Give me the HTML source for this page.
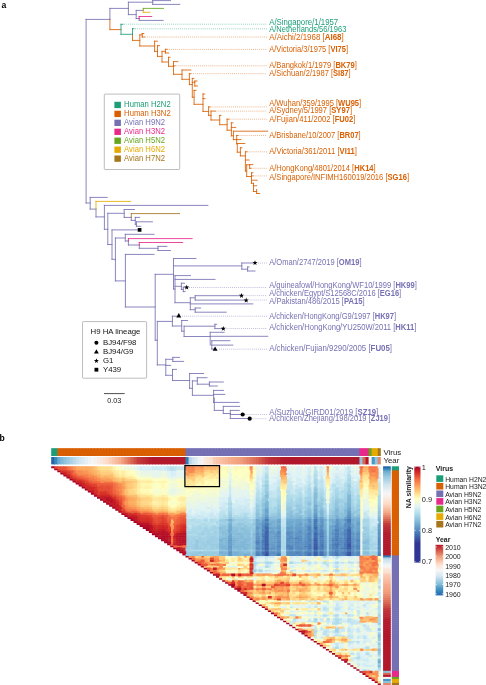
<!DOCTYPE html><html><head><meta charset="utf-8"><title>Figure</title><style>
html,body{margin:0;padding:0;background:#fff;width:486px;height:685px;overflow:hidden}
svg{display:block}
text{font-family:'Liberation Sans', Arial, Helvetica, sans-serif}
</style></head><body>
<svg width="486" height="685" viewBox="0 0 486 685">
<rect width="486" height="685" fill="#fff"/>
<text x="1.6" y="8.4" font-size="8.6" font-weight="bold" fill="#000">a</text>
<text x="-0.6" y="440.5" font-size="8.6" font-weight="bold" fill="#000">b</text>
<path d="M86.10 19.4V203.0M86.1 19.40H109.9M109.90 8.4V19.4M109.9 8.40H128.4M128.40 2.2V14.6M128.4 2.20H152.7M152.70 0.4V4.4M152.7 0.60H170.5M152.7 4.40H179.8M128.4 14.60H136.2M136.20 10.4V18.5M136.2 10.40H143.3M136.2 18.50H139.2M139.20 18.5V20.4M139.2 20.40H163.1M86.1 203.00H90.2M90.20 197.4V209.1M90.2 197.40H107.2M90.2 209.10H96.0M96.00 209.1V216.9M96.0 216.90H104.4M104.40 205.4V229.3M104.4 205.40H207.9M104.4 229.30H107.8M107.80 213.3V244.5M107.8 213.30H124.2M124.20 209.5V217.4M124.2 209.50H134.4M124.2 217.40H131.3M131.30 217.4V220.4M131.3 220.40H135.3M135.30 217.4V224.3M135.3 217.40H139.6M135.3 224.30H136.4M136.40 221.8V226.3M136.4 221.80H152.4M136.4 226.30H140.8M107.8 244.50H112.0M112.00 229.9V259.3M112.0 229.90H138.0M112.0 259.30H115.4M115.40 238.0V280.9M115.4 238.00H125.3M125.30 234.3V241.0M125.3 234.30H154.0M125.3 241.00H128.4M128.40 241.0V245.0M128.4 245.00H139.3M139.30 245.0V248.3M139.3 248.30H158.0M158.00 246.4V250.5M158.0 246.40H166.9M158.0 250.50H170.4M115.4 280.90H125.4M125.40 254.4V307.0M125.4 254.40H154.0M125.4 307.00H155.2M155.20 274.3V340.2M155.2 274.30H173.5M173.50 258.5V289.0M173.5 258.50H195.9M173.5 265.90H241.8M241.80 263.0V269.2M241.8 263.00H253.1M241.8 269.20H247.6M247.60 267.0V271.0M247.6 267.00H249.0M247.6 271.00H255.0M173.5 289.00H175.0M175.00 275.6V302.7M175.0 275.60H190.5M175.0 279.40H215.0M175.0 286.30H181.4M181.40 283.2V289.4M181.4 283.20H184.5M181.4 289.40H183.3M183.30 287.2V291.6M183.3 287.20H185.0M183.3 291.60H185.1M175.0 302.70H190.3M190.30 297.8V309.7M190.3 297.80H195.2M195.20 295.7V300.1M195.2 295.70H240.0M195.2 300.10H244.5M190.3 303.90H252.8M190.3 309.70H195.2M195.20 308.0V312.2M195.2 308.00H200.6M195.2 312.20H226.2M155.2 340.20H157.3M157.30 321.4V364.9M157.3 321.40H172.4M172.40 316.2V326.0M172.4 316.20H177.0M172.4 326.00H181.7M181.70 320.5V331.2M181.7 320.50H187.5M181.7 331.20H184.1M184.10 326.2V336.5M184.1 326.20H214.9M214.90 324.3V328.6M214.9 324.30H216.7M214.9 328.60H221.5M184.1 336.50H210.2M210.20 332.3V345.1M210.2 332.30H224.1M210.2 336.30H267.8M211.80 340.7V349.0M211.8 340.70H229.9M211.8 345.10H232.8M211.8 349.00H214.0M157.3 364.90H165.8M165.80 359.3V375.3M165.8 359.30H172.8M172.80 357.4V361.4M172.8 357.40H179.6M172.8 361.40H183.6M165.8 365.40H170.7M165.8 375.30H172.5M172.50 369.4V380.5M172.5 369.40H176.5M172.5 380.50H189.6M189.60 373.5V388.3M189.6 373.50H203.5M189.6 388.30H192.4M192.40 380.9V395.3M192.4 380.90H197.3M197.30 377.7V384.2M197.3 377.70H207.0M197.3 384.20H209.4M209.40 382.0V386.0M209.4 382.00H223.3M209.4 386.00H217.3M192.4 395.30H213.6M213.60 390.4V402.4M213.6 390.40H223.5M213.6 394.40H224.8M213.6 402.40H239.0M214.30 398.0V410.4M214.3 410.40H223.3M223.30 406.4V413.5M223.3 406.40H239.6M223.3 413.50H230.3M230.30 410.4V418.5M230.3 410.40H239.3M230.3 414.50H241.0M230.3 418.50H248.0" stroke="#7570b3" stroke-width="0.85" fill="none" stroke-linecap="square"/>
<path d="M109.90 19.4V29.6M109.9 29.60H121.0M132.50 34.3V40.4M132.5 40.40H139.8M139.80 34.9V46.0M139.8 34.90H142.2M142.20 33.5V37.0M142.2 33.50H143.8M142.2 37.00H144.5M139.8 46.00H154.6M154.60 41.2V51.4M154.6 41.20H157.4M154.6 51.40H157.5M157.50 45.6V56.4M157.5 45.60H159.6M157.5 56.40H162.0M162.00 51.4V62.0M162.0 51.40H165.4M165.40 49.3V53.0M165.4 49.30H167.0M165.4 53.00H168.8M162.0 62.00H168.5M168.50 57.3V66.3M168.5 57.30H170.0M168.5 66.30H173.5M173.50 61.6V74.3M173.5 61.60H177.8M173.5 65.80H175.0M173.5 74.30H182.0M182.00 70.0V79.3M182.0 70.00H190.8M182.0 79.30H189.4M189.40 73.7V84.6M189.4 73.70H190.5M189.4 84.60H192.3M192.30 78.4V97.2M192.3 78.40H193.8M192.3 82.30H194.8M194.80 81.0V86.0M194.8 81.00H197.0M194.8 86.00H197.5M192.3 97.20H194.1M194.10 90.4V104.3M194.1 90.40H196.0M194.1 104.30H203.0M203.00 94.0V111.4M203.0 94.00H204.7M203.0 98.60H205.0M203.0 111.40H208.6M208.60 106.9V115.4M208.6 106.90H210.0M208.6 115.40H211.0M211.00 111.1V120.0M211.0 111.10H215.4M211.0 120.00H219.7M219.70 115.4V124.7M219.7 115.40H221.0M219.7 124.70H227.1M227.10 119.2V130.2M227.1 119.20H229.0M227.1 130.20H231.4M231.40 122.8V135.8M231.4 122.80H233.0M231.4 127.40H235.7M231.4 135.80H233.4M233.40 131.2V139.6M233.4 131.20H267.6M233.4 139.60H236.7M236.70 135.5V144.1M236.7 135.50H238.0M236.7 139.60H241.0M236.7 143.50H244.8M237.30 144.1V152.2M237.3 152.20H240.4M240.40 147.8V155.9M240.4 147.80H242.0M240.4 155.90H245.4M245.40 151.8V171.0M245.4 151.80H247.0M245.4 160.00H249.2M245.4 171.00H246.7M246.70 164.8V176.5M246.7 164.80H249.6M249.60 164.6V168.3M249.6 164.60H252.9M249.6 168.30H251.0M246.7 176.50H251.5M251.50 172.8V183.3M251.5 172.80H253.0M251.5 175.90H253.0M251.5 180.20H257.2M251.5 183.30H253.5M253.50 183.3V191.5M253.5 185.80H256.6M253.5 191.50H256.6M256.60 189.5V193.5M256.6 193.50H259.6" stroke="#d95f02" stroke-width="0.85" fill="none" stroke-linecap="square"/>
<path d="M143.30 8.4V10.4M143.3 8.40H163.5" stroke="#66a61e" stroke-width="0.85" fill="none" stroke-linecap="square"/>
<path d="M143.30 10.4V12.3M143.3 12.30H149.9M96.00 201.4V209.1M96.0 201.40H130.6" stroke="#e6ab02" stroke-width="0.85" fill="none" stroke-linecap="square"/>
<path d="M139.20 16.5V18.5M139.2 16.50H151.7M128.40 238.6V241.0M128.4 238.60H192.1M139.30 242.5V245.0M139.3 242.50H182.7" stroke="#e7298a" stroke-width="0.85" fill="none" stroke-linecap="square"/>
<path d="M121.00 24.3V34.3M121.0 24.30H123.0M121.0 34.30H132.5M132.50 28.7V34.3M132.5 28.70H134.0" stroke="#1b9e77" stroke-width="0.85" fill="none" stroke-linecap="square"/>
<path d="M131.30 213.6V217.4M131.3 213.60H179.5" stroke="#a6761d" stroke-width="0.85" fill="none" stroke-linecap="square"/>
<line x1="124.0" y1="24.2" x2="267.0" y2="24.2" stroke="#1b9e77" stroke-width="0.9" stroke-dasharray="0.9 1.15" opacity="0.55"/>
<line x1="135.0" y1="28.8" x2="267.0" y2="28.8" stroke="#1b9e77" stroke-width="0.9" stroke-dasharray="0.9 1.15" opacity="0.55"/>
<line x1="145.0" y1="37.0" x2="267.0" y2="37.0" stroke="#d95f02" stroke-width="0.9" stroke-dasharray="0.9 1.15" opacity="0.55"/>
<line x1="167.0" y1="49.4" x2="267.0" y2="49.4" stroke="#d95f02" stroke-width="0.9" stroke-dasharray="0.9 1.15" opacity="0.55"/>
<line x1="175.5" y1="65.8" x2="267.0" y2="65.8" stroke="#d95f02" stroke-width="0.9" stroke-dasharray="0.9 1.15" opacity="0.55"/>
<line x1="191.0" y1="73.7" x2="267.0" y2="73.7" stroke="#d95f02" stroke-width="0.9" stroke-dasharray="0.9 1.15" opacity="0.55"/>
<line x1="210.5" y1="106.9" x2="267.0" y2="106.9" stroke="#d95f02" stroke-width="0.9" stroke-dasharray="0.9 1.15" opacity="0.55"/>
<line x1="215.5" y1="111.1" x2="267.0" y2="111.1" stroke="#d95f02" stroke-width="0.9" stroke-dasharray="0.9 1.15" opacity="0.55"/>
<line x1="229.5" y1="119.2" x2="267.0" y2="119.2" stroke="#d95f02" stroke-width="0.9" stroke-dasharray="0.9 1.15" opacity="0.55"/>
<line x1="238.5" y1="135.5" x2="267.0" y2="135.5" stroke="#d95f02" stroke-width="0.9" stroke-dasharray="0.9 1.15" opacity="0.55"/>
<line x1="247.5" y1="151.8" x2="267.0" y2="151.8" stroke="#d95f02" stroke-width="0.9" stroke-dasharray="0.9 1.15" opacity="0.55"/>
<line x1="251.5" y1="168.3" x2="267.0" y2="168.3" stroke="#d95f02" stroke-width="0.9" stroke-dasharray="0.9 1.15" opacity="0.55"/>
<line x1="253.5" y1="175.9" x2="267.0" y2="175.9" stroke="#d95f02" stroke-width="0.9" stroke-dasharray="0.9 1.15" opacity="0.55"/>
<line x1="258.0" y1="263.0" x2="267.0" y2="263.0" stroke="#7570b3" stroke-width="0.9" stroke-dasharray="0.9 1.15" opacity="0.55"/>
<line x1="189.0" y1="287.5" x2="267.0" y2="287.5" stroke="#7570b3" stroke-width="0.9" stroke-dasharray="0.9 1.15" opacity="0.55"/>
<line x1="244.5" y1="295.6" x2="267.0" y2="295.6" stroke="#7570b3" stroke-width="0.9" stroke-dasharray="0.9 1.15" opacity="0.55"/>
<line x1="249.5" y1="300.0" x2="267.0" y2="300.0" stroke="#7570b3" stroke-width="0.9" stroke-dasharray="0.9 1.15" opacity="0.55"/>
<line x1="182.0" y1="316.2" x2="267.0" y2="316.2" stroke="#7570b3" stroke-width="0.9" stroke-dasharray="0.9 1.15" opacity="0.55"/>
<line x1="226.5" y1="328.5" x2="267.0" y2="328.5" stroke="#7570b3" stroke-width="0.9" stroke-dasharray="0.9 1.15" opacity="0.55"/>
<line x1="219.0" y1="349.2" x2="267.0" y2="349.2" stroke="#7570b3" stroke-width="0.9" stroke-dasharray="0.9 1.15" opacity="0.55"/>
<line x1="245.5" y1="414.5" x2="267.0" y2="414.5" stroke="#7570b3" stroke-width="0.9" stroke-dasharray="0.9 1.15" opacity="0.55"/>
<line x1="252.5" y1="418.7" x2="267.0" y2="418.7" stroke="#7570b3" stroke-width="0.9" stroke-dasharray="0.9 1.15" opacity="0.55"/>
<rect x="137.75" y="228.05" width="3.7" height="3.7" fill="#000"/>
<polygon points="255.00,260.20 255.65,262.01 257.57,262.07 256.05,263.24 256.59,265.08 255.00,264.00 253.41,265.08 253.95,263.24 252.43,262.07 254.35,262.01" fill="#000"/>
<polygon points="186.70,284.70 187.35,286.51 189.27,286.57 187.75,287.74 188.29,289.58 186.70,288.50 185.11,289.58 185.65,287.74 184.13,286.57 186.05,286.51" fill="#000"/>
<polygon points="241.50,293.00 242.15,294.81 244.07,294.87 242.55,296.04 243.09,297.88 241.50,296.80 239.91,297.88 240.45,296.04 238.93,294.87 240.85,294.81" fill="#000"/>
<polygon points="246.20,297.60 246.85,299.41 248.77,299.47 247.25,300.64 247.79,302.48 246.20,301.40 244.61,302.48 245.15,300.64 243.63,299.47 245.55,299.41" fill="#000"/>
<polygon points="223.30,325.90 223.95,327.71 225.87,327.77 224.35,328.94 224.89,330.78 223.30,329.70 221.71,330.78 222.25,328.94 220.73,327.77 222.65,327.71" fill="#000"/>
<path d="M178.80 313.10l2.5 4.3h-5z" fill="#000"/>
<path d="M215.10 346.40l2.5 4.3h-5z" fill="#000"/>
<circle cx="242.70" cy="414.50" r="2.1" fill="#000"/>
<circle cx="249.70" cy="418.70" r="2.1" fill="#000"/>
<text x="269.2" y="24.9" font-size="8.3" fill="#1b9e77" textLength="69.0" lengthAdjust="spacingAndGlyphs">A/Singapore/1/1957</text>
<text x="269.2" y="31.5" font-size="8.3" fill="#1b9e77" textLength="77.2" lengthAdjust="spacingAndGlyphs">A/Netherlands/56/1963</text>
<text x="269.2" y="39.6" font-size="8.3" fill="#d95f02" textLength="74.5" lengthAdjust="spacingAndGlyphs">A/Aichi/2/1968 [<tspan font-weight="bold">AI68</tspan>]</text>
<text x="269.2" y="51.8" font-size="8.3" fill="#d95f02" textLength="78.8" lengthAdjust="spacingAndGlyphs">A/Victoria/3/1975 [<tspan font-weight="bold">VI75</tspan>]</text>
<text x="269.2" y="68.0" font-size="8.3" fill="#d95f02" textLength="87.7" lengthAdjust="spacingAndGlyphs">A/Bangkok/1/1979 [<tspan font-weight="bold">BK79</tspan>]</text>
<text x="269.2" y="76.1" font-size="8.3" fill="#d95f02" textLength="81.5" lengthAdjust="spacingAndGlyphs">A/Sichuan/2/1987 [<tspan font-weight="bold">SI87</tspan>]</text>
<text x="269.2" y="106.1" font-size="8.3" fill="#d95f02" textLength="92.0" lengthAdjust="spacingAndGlyphs">A/Wuhan/359/1995 [<tspan font-weight="bold">WU95</tspan>]</text>
<text x="269.2" y="113.3" font-size="8.3" fill="#d95f02" textLength="82.8" lengthAdjust="spacingAndGlyphs">A/Sydney/5/1997 [<tspan font-weight="bold">SY97</tspan>]</text>
<text x="269.2" y="121.5" font-size="8.3" fill="#d95f02" textLength="86.2" lengthAdjust="spacingAndGlyphs">A/Fujian/411/2002 [<tspan font-weight="bold">FU02</tspan>]</text>
<text x="269.2" y="137.7" font-size="8.3" fill="#d95f02" textLength="91.5" lengthAdjust="spacingAndGlyphs">A/Brisbane/10/2007 [<tspan font-weight="bold">BR07</tspan>]</text>
<text x="269.2" y="154.1" font-size="8.3" fill="#d95f02" textLength="87.8" lengthAdjust="spacingAndGlyphs">A/Victoria/361/2011 [<tspan font-weight="bold">VI11</tspan>]</text>
<text x="269.2" y="170.7" font-size="8.3" fill="#d95f02" textLength="106.5" lengthAdjust="spacingAndGlyphs">A/HongKong/4801/2014 [<tspan font-weight="bold">HK14</tspan>]</text>
<text x="269.2" y="179.7" font-size="8.3" fill="#d95f02" textLength="139.8" lengthAdjust="spacingAndGlyphs">A/Singapore/INFIMH160019/2016 [<tspan font-weight="bold">SG16</tspan>]</text>
<text x="269.2" y="264.9" font-size="8.3" fill="#7570b3" textLength="92.3" lengthAdjust="spacingAndGlyphs">A/Oman/2747/2019 [<tspan font-weight="bold">OM19</tspan>]</text>
<text x="269.2" y="287.9" font-size="8.3" fill="#7570b3" textLength="147.6" lengthAdjust="spacingAndGlyphs">A/guineafowl/HongKong/WF10/1999 [<tspan font-weight="bold">HK99</tspan>]</text>
<text x="269.2" y="296.2" font-size="8.3" fill="#7570b3" textLength="132.0" lengthAdjust="spacingAndGlyphs">A/chicken/Egypt/S12568C/2016 [<tspan font-weight="bold">EG16</tspan>]</text>
<text x="269.2" y="304.4" font-size="8.3" fill="#7570b3" textLength="95.4" lengthAdjust="spacingAndGlyphs">A/Pakistan/486/2015 [<tspan font-weight="bold">PA15</tspan>]</text>
<text x="269.2" y="318.5" font-size="8.3" fill="#7570b3" textLength="126.9" lengthAdjust="spacingAndGlyphs">A/chicken/HongKong/G9/1997 [<tspan font-weight="bold">HK97</tspan>]</text>
<text x="269.2" y="330.4" font-size="8.3" fill="#7570b3" textLength="147.2" lengthAdjust="spacingAndGlyphs">A/chicken/HongKong/YU250W/2011 [<tspan font-weight="bold">HK11</tspan>]</text>
<text x="269.2" y="351.2" font-size="8.3" fill="#7570b3" textLength="122.8" lengthAdjust="spacingAndGlyphs">A/chicken/Fujian/9290/2005 [<tspan font-weight="bold">FU05</tspan>]</text>
<text x="269.2" y="414.7" font-size="8.3" fill="#7570b3" textLength="109.1" lengthAdjust="spacingAndGlyphs">A/Suzhou/GIRD01/2019 [<tspan font-weight="bold">SZ19</tspan>]</text>
<text x="269.2" y="421.3" font-size="8.3" fill="#7570b3" textLength="120.9" lengthAdjust="spacingAndGlyphs">A/chicken/Zhejiang/198/2019 [<tspan font-weight="bold">ZJ19</tspan>]</text>
<rect x="104.3" y="94.1" width="75.4" height="75.4" rx="0.8" fill="none" stroke="#a0a0a0" stroke-width="0.7"/>
<rect x="114.4" y="101.80" width="6.5" height="6.3" fill="#1b9e77"/>
<text x="124.1" y="107.40" font-size="8.2" fill="#1b9e77" textLength="46.6" lengthAdjust="spacingAndGlyphs">Human H2N2</text>
<rect x="114.4" y="110.75" width="6.5" height="6.3" fill="#d95f02"/>
<text x="124.1" y="116.35" font-size="8.2" fill="#d95f02" textLength="46.6" lengthAdjust="spacingAndGlyphs">Human H3N2</text>
<rect x="114.4" y="119.70" width="6.5" height="6.3" fill="#7570b3"/>
<text x="124.1" y="125.30" font-size="8.2" fill="#7570b3" textLength="40.9" lengthAdjust="spacingAndGlyphs">Avian H9N2</text>
<rect x="114.4" y="128.65" width="6.5" height="6.3" fill="#e7298a"/>
<text x="124.1" y="134.25" font-size="8.2" fill="#e7298a" textLength="40.9" lengthAdjust="spacingAndGlyphs">Avian H3N2</text>
<rect x="114.4" y="137.60" width="6.5" height="6.3" fill="#66a61e"/>
<text x="124.1" y="143.20" font-size="8.2" fill="#66a61e" textLength="40.9" lengthAdjust="spacingAndGlyphs">Avian H5N2</text>
<rect x="114.4" y="146.55" width="6.5" height="6.3" fill="#e6ab02"/>
<text x="124.1" y="152.15" font-size="8.2" fill="#e6ab02" textLength="40.9" lengthAdjust="spacingAndGlyphs">Avian H6N2</text>
<rect x="114.4" y="155.50" width="6.5" height="6.3" fill="#a6761d"/>
<text x="124.1" y="161.10" font-size="8.2" fill="#a6761d" textLength="40.9" lengthAdjust="spacingAndGlyphs">Avian H7N2</text>
<rect x="82.5" y="321.6" width="64.1" height="56.6" rx="0.8" fill="none" stroke="#a0a0a0" stroke-width="0.7"/>
<text x="90.6" y="333.5" font-size="7.8" fill="#111">H9 HA lineage</text>
<circle cx="96.40" cy="342.70" r="2.0" fill="#000"/>
<text x="103" y="345.30" font-size="7.8" fill="#111">BJ94/F98</text>
<path d="M96.40 349.30l2.4 4.1h-4.8z" fill="#000"/>
<text x="103" y="354.30" font-size="7.8" fill="#111">BJ94/G9</text>
<polygon points="96.40,358.30 97.02,360.05 98.87,360.10 97.40,361.22 97.93,363.00 96.40,361.95 94.87,363.00 95.40,361.22 93.93,360.10 95.78,360.05" fill="#000"/>
<text x="103" y="363.30" font-size="7.8" fill="#111">G1</text>
<rect x="94.50" y="367.80" width="3.8" height="3.8" fill="#000"/>
<text x="103" y="372.30" font-size="7.8" fill="#111">Y439</text>
<line x1="104" y1="393.6" x2="124.6" y2="393.6" stroke="#222" stroke-width="0.8"/>
<text x="114.3" y="402.6" font-size="7.2" fill="#222" text-anchor="middle">0.03</text>
<g transform="translate(51.200 466.300) scale(3.0520 2.0250)">
<path fill="#a50027" d="M0 0h1.25v1h-1.25zM1 1h1.25v1h-1.25zM2 2h1.25v1h-1.25zM3 3h1.25v1h-1.25zM4 4h1.25v1h-1.25zM5 5h1.25v1h-1.25zM6 6h1.25v1h-1.25zM7 7h1.25v1h-1.25zM8 8h1.25v1h-1.25zM9 9h1.25v1h-1.25zM10 10h1.25v1h-1.25zM11 11h1.25v1h-1.25zM12 12h1.25v1h-1.25zM13 13h1.25v1h-1.25zM14 14h1.25v1h-1.25zM15 15h1.25v1h-1.25zM16 16h1.25v1h-1.25zM17 17h1.25v1h-1.25zM18 18h1.25v1h-1.25zM19 19h1.25v1h-1.25zM20 20h1.25v1h-1.25zM21 21h1.25v1h-1.25zM22 22h1.25v1h-1.25zM23 23h1.25v1h-1.25zM24 24h1.25v1h-1.25zM25 25h1.25v1h-1.25zM26 26h1.25v1h-1.25zM27 27h1.25v1h-1.25zM28 28h1.25v1h-1.25zM29 29h1.25v1h-1.25zM30 30h1.25v1h-1.25zM31 31h1.25v1h-1.25zM32 32h1.25v1h-1.25zM33 33h1.25v1h-1.25zM34 34h1.25v1h-1.25zM35 35h1.25v1h-1.25zM36 36h1.25v1h-1.25zM37 37h1.25v1h-1.25zM38 38h1.25v1h-1.25zM39 39h1.25v1h-1.25zM40 40h1.25v1h-1.25zM41 41h1.25v1h-1.25zM42 42h1.25v1h-1.25zM43 43h1.25v1h-1.25zM44 44h1.25v1h-1.25zM45 45h1.25v1h-1.25zM46 46h1.25v1h-1.25zM47 47h1.25v1h-1.25zM48 48h1.25v1h-1.25zM49 49h1.25v1h-1.25zM50 50h1.25v1h-1.25zM51 51h1.25v1h-1.25zM52 52h1.25v1h-1.25zM53 53h1.25v1h-1.25zM54 54h1.25v1h-1.25zM55 55h1.25v1h-1.25zM56 56h1.25v1h-1.25zM57 57h1.25v1h-1.25zM58 58h1.25v1h-1.25zM59 59h1.25v1h-1.25zM60 60h1.25v1h-1.25zM61 61h1.25v1h-1.25zM62 62h1.25v1h-1.25zM63 63h1.25v1h-1.25zM64 64h1.25v1h-1.25zM65 65h1.25v1h-1.25zM66 66h1.25v1h-1.25zM67 67h1.25v1h-1.25zM68 68h1.25v1h-1.25zM69 69h1.25v1h-1.25zM70 70h1.25v1h-1.25zM71 71h1.25v1h-1.25zM72 72h1.25v1h-1.25zM73 73h1.25v1h-1.25zM74 74h1.25v1h-1.25zM75 75h1.25v1h-1.25zM76 76h1.25v1h-1.25zM77 77h1.25v1h-1.25zM78 78h1.25v1h-1.25zM79 79h1.25v1h-1.25zM80 80h1.25v1h-1.25zM81 81h1.25v1h-1.25zM82 82h1.25v1h-1.25zM83 83h1.25v1h-1.25zM84 84h1.25v1h-1.25zM85 85h1.25v1h-1.25zM86 86h1.25v1h-1.25zM87 87h1.25v1h-1.25zM88 88h1.25v1h-1.25zM89 89h1.25v1h-1.25zM90 90h1.25v1h-1.25zM91 91h1.25v1h-1.25zM92 92h1.25v1h-1.25zM93 93h1.25v1h-1.25zM94 94h1.25v1h-1.25zM95 95h1.25v1h-1.25zM96 96h1.25v1h-1.25zM97 97h1.25v1h-1.25zM98 98h1.25v1h-1.25zM99 99h1.25v1h-1.25zM100 100h1.25v1h-1.25zM101 101h1.25v1h-1.25zM102 102h1.25v1h-1.25zM103 103h1.25v1h-1.25zM104 104h1.25v1h-1.25zM105 105h1.25v1h-1.25zM106 106h1.25v1h-1.25zM107 107h1v1h-1z"/>
<path fill="#de3f2d" d="M1 0h1.25v1.25h-1.25zM2 1h1.25v1.25h-1.25zM6 4h1.25v1.25h-1.25zM9 6h1.25v1.25h-1.25zM36 26h1.25v1.25h-1.25zM38 29h1.25v1.25h-1.25zM74 58h1.25v1.25h-1.25z"/>
<path fill="#e44e36" d="M2 0h1.25v1.25h-1.25zM6 3h1.25v1.25h-1.25zM13 8h1.25v1.25h-1.25zM33 26h1.25v1.25h-1.25zM81 57h1.25v1.25h-1.25z"/>
<path fill="#e75136" d="M3 0h1.25v1.25h-1.25zM3 1h1.25v1.25h-1.25zM14 8h1.25v1.25h-1.25zM19 10h1.25v1.25h-1.25zM15 11h1.25v1.25h-1.25zM17 11h1.25v1.25h-1.25zM23 20h1.25v1.25h-1.25zM33 25h1.25v1.25h-1.25zM34 26h1.25v1.25h-1.25zM42 27h1.25v1.25h-1.25zM38 28h1.25v1.25h-1.25zM40 29h1.25v1.25h-1.25zM40 30h1.25v1.25h-1.25zM49 44h1.25v1.25h-1.25zM65 44h1.25v1.25h-1.25zM49 48h1.25v1.25h-1.25zM61 58h2.25v1.25h-2.25zM80 78h1.25v1.25h-1.25z"/>
<path fill="#e75436" d="M4 0h1.25v1.25h-1.25zM4 1h1.25v1.25h-1.25zM18 9h1.25v1.25h-1.25zM29 23h1.25v1.25h-1.25zM34 25h1.25v1.25h-1.25zM41 28h1.25v1.25h-1.25zM61 56h1.25v1.25h-1.25zM60 59h1.25v1.25h-1.25z"/>
<path fill="#f36942" d="M5 0h1.25v1.25h-1.25zM75 0h1.25v1.25h-1.25zM5 1h1.25v1.25h-1.25zM101 1h1.25v1.25h-1.25zM14 7h1.25v1.25h-1.25zM39 34h1.25v1.25h-1.25zM106 47h1.25v1.25h-1.25zM52 48h2.25v1.25h-2.25zM55 53h1.25v1.25h-1.25zM77 53h1.25v1.25h-1.25zM81 58h1.25v1.25h-1.25zM64 59h1.25v1.25h-1.25zM83 82h1.25v1.25h-1.25z"/>
<path fill="#f67e4b" d="M6 0h1.25v1.25h-1.25zM45 0h2.25v1.25h-2.25zM90 0h1.25v1.25h-1.25zM6 1h1.25v1.25h-1.25zM75 1h1.25v1.25h-1.25zM76 2h1.25v1.25h-1.25zM12 5h1.25v1.25h-1.25zM14 6h1.25v1.25h-1.25zM21 9h1.25v1.25h-1.25zM21 11h1.25v1.25h-1.25zM26 21h2.25v1.25h-2.25zM34 23h1.25v1.25h-1.25zM105 52h1.25v1.25h-1.25zM63 57h1.25v1.25h-1.25zM79 58h1.25v1.25h-1.25zM100 61h1.25v1.25h-1.25zM91 85h1.25v1.25h-1.25z"/>
<path fill="#f99354" d="M7 0h1.25v1.25h-1.25zM48 0h1.25v1.25h-1.25zM7 1h1.25v1.25h-1.25zM90 1h1.25v1.25h-1.25zM10 3h2.25v1.25h-2.25zM13 4h1.25v1.25h-1.25zM24 15h1.25v1.25h-1.25zM27 20h1.25v1.25h-1.25zM28 21h1.25v1.25h-1.25zM38 23h1.25v1.25h-1.25zM39 31h1.25v1.25h-1.25zM53 45h2.25v1.25h-2.25zM104 45h1.25v1.25h-1.25zM103 46h1.25v1.25h-1.25zM102 49h1.25v1.25h-1.25zM55 50h1.25v1.25h-1.25zM61 50h1.25v1.25h-1.25zM76 52h1.25v1.25h-1.25zM72 53h1.25v1.25h-1.25zM82 53h1.25v1.25h-1.25zM91 56h1.25v1.25h-1.25zM76 57h1.25v1.25h-1.25zM72 58h1.25v1.25h-1.25zM75 59h1.25v1.25h-1.25zM81 61h1.25v1.25h-1.25zM71 62h1.25v1.25h-1.25zM75 64h1.25v1.25h-1.25zM106 74h1.25v1.25h-1.25zM106 105h1.25v1.25h-1.25z"/>
<path fill="#fca55d" d="M8 0h1.25v1.25h-1.25zM8 1h1.25v1.25h-1.25zM48 1h2.25v1.25h-2.25zM49 2h1.25v1.25h-1.25zM13 3h1.25v1.25h-1.25zM44 4h1.25v1.25h-1.25zM76 4h1.25v1.25h-1.25zM101 4h1.25v1.25h-1.25zM106 6h1.25v1.25h-1.25zM23 11h1.25v1.25h-1.25zM24 14h1.25v1.25h-1.25zM25 15h1.25v1.25h-1.25zM25 16h1.25v1.25h-1.25zM30 21h2.25v1.25h-2.25zM36 22h1.25v1.25h-1.25zM54 44h1.25v1.25h-1.25zM76 44h1.25v1.25h-1.25zM102 44h1.25v1.25h-1.25zM49 45h1.25v1.25h-1.25zM80 53h1.25v1.25h-1.25zM86 57h1.25v1.25h-1.25zM86 58h1.25v1.25h-1.25zM91 59h1.25v1.25h-1.25zM69 61h1.25v1.25h-1.25zM91 61h1.25v1.25h-1.25zM77 62h1.25v1.25h-1.25zM83 64h1.25v1.25h-1.25zM96 72h1.25v1.25h-1.25zM101 75h1.25v1.25h-1.25zM91 79h1.25v1.25h-1.25zM82 80h1.25v1.25h-1.25zM92 85h1.25v1.25h-1.25z"/>
<path fill="#fca85d" d="M9 0h1.25v1.25h-1.25zM11 0h1.25v1.25h-1.25zM9 1h1.25v1.25h-1.25zM11 1h1.25v1.25h-1.25zM104 6h1.25v1.25h-1.25zM26 16h1.25v1.25h-1.25zM27 19h1.25v1.25h-1.25zM47 45h1.25v1.25h-1.25zM50 49h1.25v1.25h-1.25zM81 54h1.25v1.25h-1.25zM101 54h1.25v1.25h-1.25zM69 59h1.25v1.25h-1.25zM73 59h1.25v1.25h-1.25zM76 59h1.25v1.25h-1.25zM91 60h1.25v1.25h-1.25zM74 72h1.25v1.25h-1.25z"/>
<path fill="#fcab60" d="M10 0h1.25v1.25h-1.25zM12 0h1.25v1.25h-1.25zM102 0h2.25v1.25h-2.25zM10 1h1.25v1.25h-1.25zM12 1h1.25v1.25h-1.25zM12 2h1.25v1.25h-1.25zM48 2h1.25v1.25h-1.25zM45 3h1.25v1.25h-1.25zM18 5h1.25v1.25h-1.25zM75 5h1.25v1.25h-1.25zM23 7h1.25v1.25h-1.25zM26 15h1.25v1.25h-1.25zM25 18h1.25v1.25h-1.25zM33 22h1.25v1.25h-1.25zM35 22h1.25v1.25h-1.25zM39 28h1.25v1.25h-1.25zM75 44h1.25v1.25h-1.25zM48 45h1.25v1.25h-1.25zM50 45h1.25v1.25h-1.25zM55 46h1.25v1.25h-1.25zM103 47h1.25v1.25h-1.25zM102 48h1.25v1.25h-1.25zM84 53h1.25v1.25h-1.25zM90 53h1.25v1.25h-1.25zM92 53h1.25v1.25h-1.25zM101 53h1.25v1.25h-1.25zM104 54h1.25v1.25h-1.25zM82 57h1.25v1.25h-1.25zM97 58h2.25v1.25h-2.25zM66 60h1.25v1.25h-1.25zM81 60h3.25v1.25h-3.25zM63 61h1.25v1.25h-1.25zM72 61h1.25v1.25h-1.25zM82 61h1.25v1.25h-1.25zM95 62h1.25v1.25h-1.25zM75 63h1.25v1.25h-1.25zM77 63h1.25v1.25h-1.25zM66 64h1.25v1.25h-1.25zM80 64h1.25v1.25h-1.25zM82 64h1.25v1.25h-1.25zM87 65h1.25v1.25h-1.25zM73 70h1.25v1.25h-1.25zM105 74h1.25v1.25h-1.25zM85 78h1.25v1.25h-1.25zM96 90h1.25v1.25h-1.25z"/>
<path fill="#fcb466" d="M13 0h1.25v1.25h-1.25zM54 0h1.25v1.25h-1.25zM13 1h1.25v1.25h-1.25zM53 1h1.25v1.25h-1.25zM103 1h1.25v1.25h-1.25zM46 3h1.25v1.25h-1.25zM65 3h1.25v1.25h-1.25zM46 4h1.25v1.25h-1.25zM101 5h1.25v1.25h-1.25zM105 7h2.25v1.25h-2.25zM27 18h1.25v1.25h-1.25zM42 22h1.25v1.25h-1.25zM51 45h1.25v1.25h-1.25zM75 47h1.25v1.25h-1.25zM75 51h1.25v1.25h-1.25zM89 53h1.25v1.25h-1.25zM105 53h1.25v1.25h-1.25zM61 54h1.25v1.25h-1.25zM75 56h1.25v1.25h-1.25zM77 56h1.25v1.25h-1.25zM69 57h1.25v1.25h-1.25zM85 58h1.25v1.25h-1.25zM83 59h1.25v1.25h-1.25zM80 60h1.25v1.25h-1.25zM73 62h1.25v1.25h-1.25zM74 63h1.25v1.25h-1.25zM80 70h1.25v1.25h-1.25z"/>
<path fill="#fcc375" d="M14 0h1.25v1.25h-1.25zM14 1h1.25v1.25h-1.25zM103 2h1.25v1.25h-1.25zM90 4h1.25v1.25h-1.25zM20 5h1.25v1.25h-1.25zM44 5h1.25v1.25h-1.25zM75 6h1.25v1.25h-1.25zM101 6h1.25v1.25h-1.25zM26 7h1.25v1.25h-1.25zM24 11h1.25v1.25h-1.25zM28 15h1.25v1.25h-1.25zM32 20h1.25v1.25h-1.25zM35 21h1.25v1.25h-1.25zM38 22h1.25v1.25h-1.25zM48 44h1.25v1.25h-1.25zM56 45h1.25v1.25h-1.25zM54 47h1.25v1.25h-1.25zM64 50h1.25v1.25h-1.25zM55 54h1.25v1.25h-1.25zM102 54h1.25v1.25h-1.25zM102 55h1.25v1.25h-1.25zM67 56h1.25v1.25h-1.25zM76 56h1.25v1.25h-1.25zM82 56h1.25v1.25h-1.25zM105 56h1.25v1.25h-1.25zM71 61h1.25v1.25h-1.25zM83 63h1.25v1.25h-1.25zM68 64h1.25v1.25h-1.25zM79 64h1.25v1.25h-1.25zM92 64h1.25v1.25h-1.25zM72 65h1.25v1.25h-1.25zM75 67h1.25v1.25h-1.25zM103 76h1.25v1.25h-1.25zM83 80h1.25v1.25h-1.25zM104 90h1.25v1.25h-1.25z"/>
<path fill="#ffd584" d="M15 0h1.25v1.25h-1.25zM15 1h1.25v1.25h-1.25zM19 2h1.25v1.25h-1.25zM23 5h1.25v1.25h-1.25zM27 10h1.25v1.25h-1.25zM32 19h1.25v1.25h-1.25zM35 20h1.25v1.25h-1.25zM83 46h1.25v1.25h-1.25zM54 49h1.25v1.25h-1.25zM62 50h1.25v1.25h-1.25zM84 57h1.25v1.25h-1.25zM93 60h1.25v1.25h-1.25zM92 61h1.25v1.25h-1.25zM71 63h1.25v1.25h-1.25zM71 67h1.25v1.25h-1.25zM79 77h1.25v1.25h-1.25zM95 79h1.25v1.25h-1.25zM102 90h1.25v1.25h-1.25z"/>
<path fill="#ffde90" d="M16 0h1.25v1.25h-1.25zM16 1h1.25v1.25h-1.25zM20 3h1.25v1.25h-1.25zM22 5h1.25v1.25h-1.25zM49 5h1.25v1.25h-1.25zM27 6h1.25v1.25h-1.25zM42 20h1.25v1.25h-1.25zM56 51h1.25v1.25h-1.25zM103 56h1.25v1.25h-1.25zM78 61h1.25v1.25h-1.25z"/>
<path fill="#ffde8d" d="M17 0h2.25v1.25h-2.25zM17 1h2.25v1.25h-2.25zM54 3h1.25v1.25h-1.25zM48 4h1.25v1.25h-1.25zM50 4h1.25v1.25h-1.25zM75 8h1.25v1.25h-1.25zM105 11h1.25v1.25h-1.25zM27 12h1.25v1.25h-1.25zM36 15h1.25v1.25h-1.25zM36 19h1.25v1.25h-1.25zM55 47h1.25v1.25h-1.25zM63 50h1.25v1.25h-1.25zM93 50h1.25v1.25h-1.25zM61 51h1.25v1.25h-1.25zM61 52h1.25v1.25h-1.25zM71 56h1.25v1.25h-1.25zM84 56h1.25v1.25h-1.25zM89 57h1.25v1.25h-1.25zM87 61h1.25v1.25h-1.25zM90 62h1.25v1.25h-1.25zM74 68h1.25v1.25h-1.25zM76 70h1.25v1.25h-1.25zM79 74h1.25v1.25h-1.25zM94 90h1.25v1.25h-1.25z"/>
<path fill="#ffe193" d="M19 0h1.25v1.25h-1.25zM19 1h1.25v1.25h-1.25zM53 4h1.25v1.25h-1.25zM102 5h1.25v1.25h-1.25zM101 11h1.25v1.25h-1.25zM31 14h1.25v1.25h-1.25zM32 17h1.25v1.25h-1.25zM62 45h1.25v1.25h-1.25zM65 54h1.25v1.25h-1.25zM74 54h1.25v1.25h-1.25zM87 57h1.25v1.25h-1.25zM99 57h1.25v1.25h-1.25zM78 60h1.25v1.25h-1.25zM95 60h1.25v1.25h-1.25zM96 61h1.25v1.25h-1.25zM95 63h1.25v1.25h-1.25zM78 65h1.25v1.25h-1.25zM81 67h1.25v1.25h-1.25zM83 67h1.25v1.25h-1.25zM77 70h1.25v1.25h-1.25zM98 90h1.25v1.25h-1.25z"/>
<path fill="#fff0a8" d="M20 0h1.25v1.25h-1.25zM20 1h1.25v1.25h-1.25zM47 6h1.25v1.25h-1.25zM49 6h2.25v1.25h-2.25zM36 7h1.25v1.25h-1.25zM65 7h1.25v1.25h-1.25zM47 8h1.25v1.25h-1.25zM53 8h1.25v1.25h-1.25zM45 9h1.25v1.25h-1.25zM28 11h1.25v1.25h-1.25zM106 12h1.25v1.25h-1.25zM106 14h1.25v1.25h-1.25zM104 15h1.25v1.25h-1.25zM33 18h1.25v1.25h-1.25zM89 46h2.25v1.25h-2.25zM60 50h1.25v1.25h-1.25zM64 51h1.25v1.25h-1.25zM71 54h1.25v1.25h-1.25zM79 56h1.25v1.25h-1.25zM85 56h1.25v1.25h-1.25zM95 56h1.25v1.25h-1.25zM94 59h1.25v1.25h-1.25zM105 59h1.25v1.25h-1.25zM105 62h1.25v1.25h-1.25zM85 63h1.25v1.25h-1.25zM99 63h1.25v1.25h-1.25zM77 72h1.25v1.25h-1.25zM84 79h1.25v1.25h-1.25zM88 86h1.25v1.25h-1.25zM94 86h1.25v1.25h-1.25z"/>
<path fill="#fffcba" d="M21 0h1.25v1.25h-1.25zM63 0h1.25v1.25h-1.25zM21 1h1.25v1.25h-1.25zM59 1h2.25v1.25h-2.25zM64 1h1.25v1.25h-1.25zM25 2h1.25v1.25h-1.25zM60 2h1.25v1.25h-1.25zM30 6h1.25v1.25h-1.25zM41 7h1.25v1.25h-1.25zM43 7h1.25v1.25h-1.25zM51 7h1.25v1.25h-1.25zM50 8h1.25v1.25h-1.25zM102 8h1.25v1.25h-1.25zM48 9h1.25v1.25h-1.25zM30 11h2.25v1.25h-2.25zM42 14h2.25v1.25h-2.25zM76 14h1.25v1.25h-1.25zM106 16h1.25v1.25h-1.25zM41 18h1.25v1.25h-1.25zM57 45h1.25v1.25h-1.25zM78 54h1.25v1.25h-1.25zM80 54h1.25v1.25h-1.25zM92 54h1.25v1.25h-1.25zM66 56h1.25v1.25h-1.25zM89 56h1.25v1.25h-1.25zM97 56h1.25v1.25h-1.25zM101 60h1.25v1.25h-1.25zM106 61h1.25v1.25h-1.25zM93 62h1.25v1.25h-1.25zM70 66h1.25v1.25h-1.25zM74 66h1.25v1.25h-1.25zM84 67h1.25v1.25h-1.25zM95 72h1.25v1.25h-1.25zM96 74h1.25v1.25h-1.25zM95 77h1.25v1.25h-1.25zM87 85h1.25v1.25h-1.25z"/>
<path fill="#f9fcc9" d="M22 0h1.25v1.25h-1.25zM22 1h1.25v1.25h-1.25zM27 2h1.25v1.25h-1.25zM62 2h1.25v1.25h-1.25zM27 3h1.25v1.25h-1.25zM55 5h1.25v1.25h-1.25zM42 6h1.25v1.25h-1.25zM40 7h1.25v1.25h-1.25zM41 8h1.25v1.25h-1.25zM43 8h1.25v1.25h-1.25zM42 9h2.25v1.25h-2.25zM51 9h1.25v1.25h-1.25zM42 10h1.25v1.25h-1.25zM49 10h1.25v1.25h-1.25zM52 11h1.25v1.25h-1.25zM54 11h1.25v1.25h-1.25zM90 11h1.25v1.25h-1.25zM103 11h1.25v1.25h-1.25zM53 12h2.25v1.25h-2.25zM65 12h1.25v1.25h-1.25zM102 12h2.25v1.25h-2.25zM33 13h1.25v1.25h-1.25zM46 13h1.25v1.25h-1.25zM75 14h1.25v1.25h-1.25zM40 17h1.25v1.25h-1.25zM75 17h1.25v1.25h-1.25zM39 18h2.25v1.25h-2.25zM101 19h1.25v1.25h-1.25zM104 19h1.25v1.25h-1.25zM101 21h1.25v1.25h-1.25zM87 46h1.25v1.25h-1.25zM63 48h1.25v1.25h-1.25zM77 49h1.25v1.25h-1.25zM79 50h1.25v1.25h-1.25zM57 52h2.25v1.25h-2.25zM85 52h1.25v1.25h-1.25zM92 52h1.25v1.25h-1.25zM67 54h1.25v1.25h-1.25zM64 55h1.25v1.25h-1.25zM68 55h1.25v1.25h-1.25zM72 55h1.25v1.25h-1.25zM86 56h1.25v1.25h-1.25zM93 56h1.25v1.25h-1.25zM94 57h1.25v1.25h-1.25zM102 57h1.25v1.25h-1.25zM103 61h1.25v1.25h-1.25zM85 62h1.25v1.25h-1.25zM106 62h1.25v1.25h-1.25zM72 66h1.25v1.25h-1.25zM86 67h1.25v1.25h-1.25zM75 68h1.25v1.25h-1.25zM84 70h1.25v1.25h-1.25zM87 71h1.25v1.25h-1.25zM101 71h1.25v1.25h-1.25zM105 71h1.25v1.25h-1.25zM76 75h1.25v1.25h-1.25zM79 78h1.25v1.25h-1.25zM80 79h1.25v1.25h-1.25zM91 82h1.25v1.25h-1.25z"/>
<path fill="#f6fccf" d="M23 0h1.25v1.25h-1.25zM23 1h1.25v1.25h-1.25zM60 4h1.25v1.25h-1.25zM29 5h2.25v1.25h-2.25zM32 5h1.25v1.25h-1.25zM66 5h1.25v1.25h-1.25zM41 10h1.25v1.25h-1.25zM57 10h1.25v1.25h-1.25zM33 11h1.25v1.25h-1.25zM48 11h1.25v1.25h-1.25zM51 11h1.25v1.25h-1.25zM53 11h1.25v1.25h-1.25zM33 12h1.25v1.25h-1.25zM42 13h2.25v1.25h-2.25zM50 13h2.25v1.25h-2.25zM39 14h1.25v1.25h-1.25zM47 14h1.25v1.25h-1.25zM104 21h1.25v1.25h-1.25zM59 44h1.25v1.25h-1.25zM91 49h1.25v1.25h-1.25zM73 50h1.25v1.25h-1.25zM80 50h1.25v1.25h-1.25zM86 52h1.25v1.25h-1.25zM96 52h1.25v1.25h-1.25zM96 55h1.25v1.25h-1.25zM104 59h1.25v1.25h-1.25zM101 61h1.25v1.25h-1.25zM94 62h1.25v1.25h-1.25zM101 66h1.25v1.25h-1.25zM91 68h1.25v1.25h-1.25zM99 68h1.25v1.25h-1.25zM105 68h1.25v1.25h-1.25zM104 70h1.25v1.25h-1.25zM106 71h1.25v1.25h-1.25zM82 72h1.25v1.25h-1.25zM84 72h1.25v1.25h-1.25zM94 72h1.25v1.25h-1.25zM104 73h1.25v1.25h-1.25zM104 79h1.25v1.25h-1.25zM106 84h1.25v1.25h-1.25zM91 89h1.25v1.25h-1.25z"/>
<path fill="#f0f9db" d="M24 0h2.25v1.25h-2.25zM71 0h1.25v1.25h-1.25zM82 0h1.25v1.25h-1.25zM85 0h1.25v1.25h-1.25zM24 1h2.25v1.25h-2.25zM28 3h1.25v1.25h-1.25zM33 5h1.25v1.25h-1.25zM35 5h1.25v1.25h-1.25zM39 6h1.25v1.25h-1.25zM55 6h1.25v1.25h-1.25zM60 7h1.25v1.25h-1.25zM66 7h1.25v1.25h-1.25zM39 8h1.25v1.25h-1.25zM66 8h1.25v1.25h-1.25zM56 9h1.25v1.25h-1.25zM40 10h1.25v1.25h-1.25zM66 10h1.25v1.25h-1.25zM41 11h1.25v1.25h-1.25zM64 11h1.25v1.25h-1.25zM66 11h1.25v1.25h-1.25zM103 13h1.25v1.25h-1.25zM65 14h1.25v1.25h-1.25zM103 14h1.25v1.25h-1.25zM44 16h1.25v1.25h-1.25zM65 16h1.25v1.25h-1.25zM90 16h1.25v1.25h-1.25zM45 17h1.25v1.25h-1.25zM65 18h1.25v1.25h-1.25zM74 46h1.25v1.25h-1.25zM73 49h1.25v1.25h-1.25zM96 49h1.25v1.25h-1.25zM92 50h1.25v1.25h-1.25zM95 50h1.25v1.25h-1.25zM58 51h1.25v1.25h-1.25zM60 51h1.25v1.25h-1.25zM99 51h1.25v1.25h-1.25zM74 52h1.25v1.25h-1.25zM88 52h1.25v1.25h-1.25zM95 54h1.25v1.25h-1.25zM85 55h1.25v1.25h-1.25zM101 57h1.25v1.25h-1.25zM105 61h1.25v1.25h-1.25zM103 62h1.25v1.25h-1.25zM105 63h1.25v1.25h-1.25zM75 66h1.25v1.25h-1.25zM87 68h1.25v1.25h-1.25zM95 68h1.25v1.25h-1.25zM104 68h1.25v1.25h-1.25zM87 69h1.25v1.25h-1.25zM106 69h1.25v1.25h-1.25zM81 71h1.25v1.25h-1.25zM96 71h1.25v1.25h-1.25zM78 72h1.25v1.25h-1.25zM92 72h1.25v1.25h-1.25zM105 72h1.25v1.25h-1.25zM85 74h1.25v1.25h-1.25zM88 74h1.25v1.25h-1.25zM98 74h1.25v1.25h-1.25zM92 78h1.25v1.25h-1.25zM87 80h1.25v1.25h-1.25zM92 80h1.25v1.25h-1.25zM91 88h1.25v1.25h-1.25zM105 93h1.25v1.25h-1.25zM99 97h1.25v1.25h-1.25zM107 105h1v1.25h-1z"/>
<path fill="#edf9e1" d="M26 0h1.25v1.25h-1.25zM68 0h1.25v1.25h-1.25zM73 0h1.25v1.25h-1.25zM89 0h1.25v1.25h-1.25zM99 0h1.25v1.25h-1.25zM26 1h1.25v1.25h-1.25zM58 1h1.25v1.25h-1.25zM99 1h1.25v1.25h-1.25zM36 2h1.25v1.25h-1.25zM85 2h1.25v1.25h-1.25zM36 3h1.25v1.25h-1.25zM32 4h1.25v1.25h-1.25zM63 9h1.25v1.25h-1.25zM60 10h1.25v1.25h-1.25zM38 11h1.25v1.25h-1.25zM55 11h1.25v1.25h-1.25zM38 12h1.25v1.25h-1.25zM63 13h1.25v1.25h-1.25zM54 14h1.25v1.25h-1.25zM44 15h1.25v1.25h-1.25zM50 15h2.25v1.25h-2.25zM50 16h1.25v1.25h-1.25zM52 16h1.25v1.25h-1.25zM46 18h1.25v1.25h-1.25zM104 20h1.25v1.25h-1.25zM106 20h1.25v1.25h-1.25zM75 21h1.25v1.25h-1.25zM104 22h1.25v1.25h-1.25zM106 22h1.25v1.25h-1.25zM101 29h1.25v1.25h-1.25zM101 35h1.25v1.25h-1.25zM85 44h1.25v1.25h-1.25zM82 45h1.25v1.25h-1.25zM98 46h1.25v1.25h-1.25zM74 48h1.25v1.25h-1.25zM77 48h1.25v1.25h-1.25zM83 48h1.25v1.25h-1.25zM57 49h1.25v1.25h-1.25zM62 49h1.25v1.25h-1.25zM82 49h1.25v1.25h-1.25zM107 49h1v1.25h-1zM96 51h1.25v1.25h-1.25zM84 52h1.25v1.25h-1.25zM100 54h1.25v1.25h-1.25zM102 59h1.25v1.25h-1.25zM104 60h1.25v1.25h-1.25zM102 61h1.25v1.25h-1.25zM104 62h1.25v1.25h-1.25zM106 67h1.25v1.25h-1.25zM82 69h1.25v1.25h-1.25zM96 70h1.25v1.25h-1.25zM100 70h2.25v1.25h-2.25zM85 71h1.25v1.25h-1.25zM102 71h2.25v1.25h-2.25zM101 72h1.25v1.25h-1.25zM77 73h1.25v1.25h-1.25zM102 77h1.25v1.25h-1.25zM105 79h1.25v1.25h-1.25zM96 81h1.25v1.25h-1.25zM105 85h1.25v1.25h-1.25zM106 88h1.25v1.25h-1.25zM105 89h1.25v1.25h-1.25zM94 91h2.25v1.25h-2.25zM106 92h1.25v1.25h-1.25zM99 95h1.25v1.25h-1.25zM97 96h1.25v1.25h-1.25zM106 96h1.25v1.25h-1.25z"/>
<path fill="#eaf6e7" d="M27 0h1.25v1.25h-1.25zM95 0h1.25v1.25h-1.25zM27 1h1.25v1.25h-1.25zM71 1h3.25v1.25h-3.25zM82 1h1.25v1.25h-1.25zM29 2h4.25v1.25h-4.25zM35 2h1.25v1.25h-1.25zM37 2h1.25v1.25h-1.25zM58 2h1.25v1.25h-1.25zM71 2h2.25v1.25h-2.25zM79 2h1.25v1.25h-1.25zM29 3h4.25v1.25h-4.25zM37 3h1.25v1.25h-1.25zM72 3h1.25v1.25h-1.25zM99 3h1.25v1.25h-1.25zM40 11h1.25v1.25h-1.25zM60 11h1.25v1.25h-1.25zM56 12h1.25v1.25h-1.25zM60 13h1.25v1.25h-1.25zM46 14h1.25v1.25h-1.25zM52 15h2.25v1.25h-2.25zM103 15h1.25v1.25h-1.25zM48 16h1.25v1.25h-1.25zM51 16h1.25v1.25h-1.25zM54 16h1.25v1.25h-1.25zM46 17h1.25v1.25h-1.25zM50 17h1.25v1.25h-1.25zM54 17h1.25v1.25h-1.25zM47 18h1.25v1.25h-1.25zM52 18h1.25v1.25h-1.25zM54 18h1.25v1.25h-1.25zM104 24h1.25v1.25h-1.25zM101 26h1.25v1.25h-1.25zM101 30h1.25v1.25h-1.25zM58 44h1.25v1.25h-1.25zM91 44h1.25v1.25h-1.25zM69 45h1.25v1.25h-1.25zM79 45h2.25v1.25h-2.25zM69 46h1.25v1.25h-1.25zM79 46h1.25v1.25h-1.25zM60 47h1.25v1.25h-1.25zM79 48h1.25v1.25h-1.25zM95 49h1.25v1.25h-1.25zM67 50h1.25v1.25h-1.25zM80 51h1.25v1.25h-1.25zM94 55h1.25v1.25h-1.25zM99 55h1.25v1.25h-1.25zM106 63h1.25v1.25h-1.25zM103 64h1.25v1.25h-1.25zM81 66h1.25v1.25h-1.25zM85 66h1.25v1.25h-1.25zM87 66h1.25v1.25h-1.25zM104 67h1.25v1.25h-1.25zM80 68h2.25v1.25h-2.25zM72 69h1.25v1.25h-1.25zM104 69h1.25v1.25h-1.25zM83 71h1.25v1.25h-1.25zM79 72h1.25v1.25h-1.25zM105 73h1.25v1.25h-1.25zM92 74h1.25v1.25h-1.25zM100 74h1.25v1.25h-1.25zM101 78h1.25v1.25h-1.25zM104 78h1.25v1.25h-1.25zM106 78h1.25v1.25h-1.25zM82 79h1.25v1.25h-1.25zM88 82h1.25v1.25h-1.25zM106 82h1.25v1.25h-1.25zM106 83h1.25v1.25h-1.25zM104 87h1.25v1.25h-1.25zM99 88h1.25v1.25h-1.25zM99 89h1.25v1.25h-1.25zM98 96h1.25v1.25h-1.25zM98 97h1.25v1.25h-1.25zM101 98h1.25v1.25h-1.25zM104 100h1.25v1.25h-1.25zM107 101h1v1.25h-1z"/>
<path fill="#def3f9" d="M28 0h1.25v1.25h-1.25zM28 1h1.25v1.25h-1.25zM80 1h1.25v1.25h-1.25zM38 2h1.25v1.25h-1.25zM78 2h1.25v1.25h-1.25zM67 3h1.25v1.25h-1.25zM78 3h1.25v1.25h-1.25zM80 3h1.25v1.25h-1.25zM58 5h1.25v1.25h-1.25zM89 6h1.25v1.25h-1.25zM55 13h1.25v1.25h-1.25zM64 14h1.25v1.25h-1.25zM61 15h1.25v1.25h-1.25zM55 16h1.25v1.25h-1.25zM62 16h1.25v1.25h-1.25zM48 19h1.25v1.25h-1.25zM102 20h1.25v1.25h-1.25zM54 22h1.25v1.25h-1.25zM67 45h1.25v1.25h-1.25zM78 45h1.25v1.25h-1.25zM83 45h1.25v1.25h-1.25zM92 45h1.25v1.25h-1.25zM97 46h1.25v1.25h-1.25zM100 46h1.25v1.25h-1.25zM85 47h1.25v1.25h-1.25zM81 51h1.25v1.25h-1.25zM100 55h1.25v1.25h-1.25zM89 68h1.25v1.25h-1.25zM79 69h1.25v1.25h-1.25zM88 69h1.25v1.25h-1.25zM95 69h1.25v1.25h-1.25zM103 69h1.25v1.25h-1.25zM80 73h1.25v1.25h-1.25zM99 75h1.25v1.25h-1.25zM83 76h1.25v1.25h-1.25zM103 83h1.25v1.25h-1.25zM103 88h1.25v1.25h-1.25zM95 89h1.25v1.25h-1.25zM102 92h1.25v1.25h-1.25zM101 97h1.25v1.25h-1.25z"/>
<path fill="#d5edf6" d="M29 0h1.25v1.25h-1.25zM36 0h1.25v1.25h-1.25zM29 1h1.25v1.25h-1.25zM36 1h1.25v1.25h-1.25zM39 2h1.25v1.25h-1.25zM98 2h1.25v1.25h-1.25zM39 3h1.25v1.25h-1.25zM93 3h1.25v1.25h-1.25zM107 3h1v1.25h-1zM74 4h1.25v1.25h-1.25zM73 5h1.25v1.25h-1.25zM78 5h1.25v1.25h-1.25zM58 7h1.25v1.25h-1.25zM67 7h1.25v1.25h-1.25zM79 7h1.25v1.25h-1.25zM72 8h1.25v1.25h-1.25zM77 8h1.25v1.25h-1.25zM85 8h1.25v1.25h-1.25zM72 9h1.25v1.25h-1.25zM79 9h1.25v1.25h-1.25zM82 9h1.25v1.25h-1.25zM71 11h2.25v1.25h-2.25zM60 16h1.25v1.25h-1.25zM63 16h1.25v1.25h-1.25zM56 17h1.25v1.25h-1.25zM55 18h1.25v1.25h-1.25zM61 18h1.25v1.25h-1.25zM63 18h1.25v1.25h-1.25zM66 18h1.25v1.25h-1.25zM55 19h1.25v1.25h-1.25zM60 19h1.25v1.25h-1.25zM62 20h1.25v1.25h-1.25zM52 21h1.25v1.25h-1.25zM52 22h1.25v1.25h-1.25zM51 23h1.25v1.25h-1.25zM46 24h1.25v1.25h-1.25zM50 24h1.25v1.25h-1.25zM75 25h1.25v1.25h-1.25zM104 25h1.25v1.25h-1.25zM78 44h1.25v1.25h-1.25zM88 44h1.25v1.25h-1.25zM100 44h1.25v1.25h-1.25zM88 47h1.25v1.25h-1.25zM91 47h1.25v1.25h-1.25zM71 48h1.25v1.25h-1.25zM89 48h1.25v1.25h-1.25zM92 49h1.25v1.25h-1.25zM100 49h1.25v1.25h-1.25zM69 51h1.25v1.25h-1.25zM90 51h1.25v1.25h-1.25zM86 68h1.25v1.25h-1.25zM92 70h1.25v1.25h-1.25zM94 70h1.25v1.25h-1.25zM84 71h1.25v1.25h-1.25zM95 73h1.25v1.25h-1.25zM103 73h1.25v1.25h-1.25zM95 75h1.25v1.25h-1.25zM80 76h1.25v1.25h-1.25zM88 76h1.25v1.25h-1.25zM91 76h1.25v1.25h-1.25zM98 78h1.25v1.25h-1.25zM102 80h1.25v1.25h-1.25zM90 82h1.25v1.25h-1.25zM92 83h1.25v1.25h-1.25zM105 84h1.25v1.25h-1.25zM97 88h1.25v1.25h-1.25zM103 91h1.25v1.25h-1.25zM101 94h1.25v1.25h-1.25zM103 94h1.25v1.25h-1.25zM103 96h1.25v1.25h-1.25zM105 98h1.25v1.25h-1.25z"/>
<path fill="#d8f0f6" d="M30 0h1.25v1.25h-1.25zM32 0h1.25v1.25h-1.25zM30 1h1.25v1.25h-1.25zM32 1h1.25v1.25h-1.25zM69 1h1.25v1.25h-1.25zM87 2h1.25v1.25h-1.25zM94 2h1.25v1.25h-1.25zM40 3h1.25v1.25h-1.25zM87 3h1.25v1.25h-1.25zM96 3h1.25v1.25h-1.25zM39 4h1.25v1.25h-1.25zM67 4h1.25v1.25h-1.25zM78 4h1.25v1.25h-1.25zM94 4h2.25v1.25h-2.25zM74 5h1.25v1.25h-1.25zM80 5h1.25v1.25h-1.25zM83 5h1.25v1.25h-1.25zM94 5h1.25v1.25h-1.25zM98 6h1.25v1.25h-1.25zM107 6h1v1.25h-1zM71 7h1.25v1.25h-1.25zM80 7h2.25v1.25h-2.25zM89 7h1.25v1.25h-1.25zM83 8h1.25v1.25h-1.25zM89 8h1.25v1.25h-1.25zM99 8h1.25v1.25h-1.25zM68 9h1.25v1.25h-1.25zM89 9h1.25v1.25h-1.25zM61 16h1.25v1.25h-1.25zM55 17h1.25v1.25h-1.25zM57 17h1.25v1.25h-1.25zM61 17h1.25v1.25h-1.25zM64 17h1.25v1.25h-1.25zM66 17h1.25v1.25h-1.25zM66 19h1.25v1.25h-1.25zM45 21h1.25v1.25h-1.25zM53 21h1.25v1.25h-1.25zM103 21h1.25v1.25h-1.25zM53 22h1.25v1.25h-1.25zM65 22h1.25v1.25h-1.25zM82 47h1.25v1.25h-1.25zM67 48h1.25v1.25h-1.25zM98 48h1.25v1.25h-1.25zM58 49h1.25v1.25h-1.25zM60 49h1.25v1.25h-1.25zM88 51h1.25v1.25h-1.25zM97 51h1.25v1.25h-1.25zM92 66h1.25v1.25h-1.25zM100 66h1.25v1.25h-1.25zM102 66h1.25v1.25h-1.25zM104 66h1.25v1.25h-1.25zM94 67h1.25v1.25h-1.25zM97 67h1.25v1.25h-1.25zM106 70h1.25v1.25h-1.25zM96 73h1.25v1.25h-1.25zM97 77h1.25v1.25h-1.25zM86 78h1.25v1.25h-1.25zM103 78h1.25v1.25h-1.25zM100 79h1.25v1.25h-1.25zM102 79h1.25v1.25h-1.25zM103 81h1.25v1.25h-1.25zM94 82h1.25v1.25h-1.25zM98 82h1.25v1.25h-1.25zM103 85h1.25v1.25h-1.25zM103 86h2.25v1.25h-2.25zM95 87h1.25v1.25h-1.25zM100 89h1.25v1.25h-1.25zM101 93h1.25v1.25h-1.25zM101 95h1.25v1.25h-1.25zM106 95h1.25v1.25h-1.25zM105 97h1.25v1.25h-1.25zM102 98h1.25v1.25h-1.25zM101 100h1.25v1.25h-1.25z"/>
<path fill="#dbf0f6" d="M31 0h1.25v1.25h-1.25zM69 0h1.25v1.25h-1.25zM96 0h1.25v1.25h-1.25zM31 1h1.25v1.25h-1.25zM77 1h1.25v1.25h-1.25zM40 2h1.25v1.25h-1.25zM74 2h1.25v1.25h-1.25zM107 2h1v1.25h-1zM74 3h1.25v1.25h-1.25zM81 3h1.25v1.25h-1.25zM92 3h1.25v1.25h-1.25zM95 3h1.25v1.25h-1.25zM100 3h1.25v1.25h-1.25zM40 4h1.25v1.25h-1.25zM77 4h1.25v1.25h-1.25zM83 4h1.25v1.25h-1.25zM87 4h1.25v1.25h-1.25zM92 4h1.25v1.25h-1.25zM67 5h2.25v1.25h-2.25zM72 5h1.25v1.25h-1.25zM77 5h1.25v1.25h-1.25zM99 5h2.25v1.25h-2.25zM68 6h1.25v1.25h-1.25zM73 7h1.25v1.25h-1.25zM58 8h1.25v1.25h-1.25zM82 8h1.25v1.25h-1.25zM91 8h1.25v1.25h-1.25zM68 10h1.25v1.25h-1.25zM79 10h1.25v1.25h-1.25zM56 15h2.25v1.25h-2.25zM62 15h2.25v1.25h-2.25zM56 16h2.25v1.25h-2.25zM66 16h1.25v1.25h-1.25zM62 18h1.25v1.25h-1.25zM47 21h1.25v1.25h-1.25zM65 21h1.25v1.25h-1.25zM47 22h2.25v1.25h-2.25zM50 22h2.25v1.25h-2.25zM90 22h1.25v1.25h-1.25zM45 23h1.25v1.25h-1.25zM48 23h1.25v1.25h-1.25zM53 23h1.25v1.25h-1.25zM75 24h1.25v1.25h-1.25zM105 25h1.25v1.25h-1.25zM69 44h1.25v1.25h-1.25zM80 44h1.25v1.25h-1.25zM95 44h1.25v1.25h-1.25zM89 45h2.25v1.25h-2.25zM78 46h1.25v1.25h-1.25zM99 47h1.25v1.25h-1.25zM92 48h1.25v1.25h-1.25zM68 49h2.25v1.25h-2.25zM88 49h1.25v1.25h-1.25zM68 50h1.25v1.25h-1.25zM95 51h1.25v1.25h-1.25zM97 52h1.25v1.25h-1.25zM107 58h1v1.25h-1zM98 67h1.25v1.25h-1.25zM90 69h1.25v1.25h-1.25zM102 69h1.25v1.25h-1.25zM78 71h1.25v1.25h-1.25zM89 71h1.25v1.25h-1.25zM93 71h2.25v1.25h-2.25zM98 71h1.25v1.25h-1.25zM86 72h1.25v1.25h-1.25zM84 73h1.25v1.25h-1.25zM80 75h1.25v1.25h-1.25zM96 75h1.25v1.25h-1.25zM101 77h1.25v1.25h-1.25zM106 77h1.25v1.25h-1.25zM89 78h1.25v1.25h-1.25zM99 80h1.25v1.25h-1.25zM101 81h1.25v1.25h-1.25zM106 81h1.25v1.25h-1.25zM92 82h1.25v1.25h-1.25zM89 83h1.25v1.25h-1.25zM101 83h1.25v1.25h-1.25zM103 84h1.25v1.25h-1.25zM102 85h1.25v1.25h-1.25zM94 87h1.25v1.25h-1.25zM102 87h1.25v1.25h-1.25zM105 88h1.25v1.25h-1.25zM94 89h1.25v1.25h-1.25zM98 89h1.25v1.25h-1.25zM106 93h1.25v1.25h-1.25zM106 100h1.25v1.25h-1.25z"/>
<path fill="#cceaf3" d="M33 0h2.25v1.25h-2.25zM33 1h2.25v1.25h-2.25zM84 2h1.25v1.25h-1.25zM69 3h1.25v1.25h-1.25zM93 6h2.25v1.25h-2.25zM78 7h1.25v1.25h-1.25zM83 7h1.25v1.25h-1.25zM100 7h1.25v1.25h-1.25zM107 7h1v1.25h-1zM91 9h1.25v1.25h-1.25zM94 9h1.25v1.25h-1.25zM58 10h1.25v1.25h-1.25zM58 11h1.25v1.25h-1.25zM73 11h1.25v1.25h-1.25zM82 11h1.25v1.25h-1.25zM89 11h1.25v1.25h-1.25zM94 11h1.25v1.25h-1.25zM58 12h1.25v1.25h-1.25zM68 12h1.25v1.25h-1.25zM58 13h1.25v1.25h-1.25zM79 13h1.25v1.25h-1.25zM82 13h1.25v1.25h-1.25zM59 18h1.25v1.25h-1.25zM56 20h1.25v1.25h-1.25zM59 20h1.25v1.25h-1.25zM61 21h1.25v1.25h-1.25zM65 23h1.25v1.25h-1.25zM103 23h1.25v1.25h-1.25zM45 24h1.25v1.25h-1.25zM47 24h1.25v1.25h-1.25zM49 24h1.25v1.25h-1.25zM44 25h2.25v1.25h-2.25zM48 25h1.25v1.25h-1.25zM51 25h1.25v1.25h-1.25zM68 44h1.25v1.25h-1.25zM86 44h1.25v1.25h-1.25zM97 44h1.25v1.25h-1.25zM90 47h1.25v1.25h-1.25zM92 47h1.25v1.25h-1.25zM94 47h1.25v1.25h-1.25zM93 48h1.25v1.25h-1.25zM90 49h1.25v1.25h-1.25zM84 51h1.25v1.25h-1.25zM107 55h1v1.25h-1zM86 66h1.25v1.25h-1.25zM94 69h1.25v1.25h-1.25zM100 73h1.25v1.25h-1.25zM90 77h1.25v1.25h-1.25zM90 80h1.25v1.25h-1.25zM104 80h1.25v1.25h-1.25zM93 82h1.25v1.25h-1.25zM99 86h1.25v1.25h-1.25zM92 89h1.25v1.25h-1.25zM98 95h1.25v1.25h-1.25z"/>
<path fill="#cfeaf3" d="M35 0h1.25v1.25h-1.25zM37 0h1.25v1.25h-1.25zM35 1h1.25v1.25h-1.25zM37 1h1.25v1.25h-1.25zM93 1h1.25v1.25h-1.25zM96 1h1.25v1.25h-1.25zM77 3h1.25v1.25h-1.25zM69 4h1.25v1.25h-1.25zM88 4h1.25v1.25h-1.25zM96 4h1.25v1.25h-1.25zM96 5h1.25v1.25h-1.25zM98 5h1.25v1.25h-1.25zM107 5h1v1.25h-1zM77 6h1.25v1.25h-1.25zM81 6h1.25v1.25h-1.25zM87 6h1.25v1.25h-1.25zM92 6h1.25v1.25h-1.25zM95 6h2.25v1.25h-2.25zM100 6h1.25v1.25h-1.25zM99 7h1.25v1.25h-1.25zM73 8h1.25v1.25h-1.25zM81 8h1.25v1.25h-1.25zM95 8h1.25v1.25h-1.25zM58 9h1.25v1.25h-1.25zM98 9h1.25v1.25h-1.25zM71 10h1.25v1.25h-1.25zM73 10h1.25v1.25h-1.25zM82 10h1.25v1.25h-1.25zM91 10h1.25v1.25h-1.25zM99 10h1.25v1.25h-1.25zM68 11h1.25v1.25h-1.25zM79 11h1.25v1.25h-1.25zM56 18h1.25v1.25h-1.25zM64 18h1.25v1.25h-1.25zM56 19h1.25v1.25h-1.25zM61 19h4.25v1.25h-4.25zM57 20h1.25v1.25h-1.25zM60 20h1.25v1.25h-1.25zM64 20h1.25v1.25h-1.25zM55 21h1.25v1.25h-1.25zM49 22h1.25v1.25h-1.25zM60 22h1.25v1.25h-1.25zM102 22h2.25v1.25h-2.25zM44 23h1.25v1.25h-1.25zM54 23h1.25v1.25h-1.25zM90 23h1.25v1.25h-1.25zM51 24h1.25v1.25h-1.25zM53 24h2.25v1.25h-2.25zM70 45h1.25v1.25h-1.25zM66 46h1.25v1.25h-1.25zM94 51h1.25v1.25h-1.25zM103 67h1.25v1.25h-1.25zM97 69h1.25v1.25h-1.25zM100 69h1.25v1.25h-1.25zM97 70h2.25v1.25h-2.25zM98 75h1.25v1.25h-1.25zM78 76h1.25v1.25h-1.25zM89 76h1.25v1.25h-1.25zM94 76h3.25v1.25h-3.25zM94 80h1.25v1.25h-1.25zM94 81h2.25v1.25h-2.25zM98 81h1.25v1.25h-1.25zM104 81h1.25v1.25h-1.25zM102 83h1.25v1.25h-1.25zM102 86h1.25v1.25h-1.25zM106 86h1.25v1.25h-1.25zM97 87h2.25v1.25h-2.25zM100 87h1.25v1.25h-1.25zM100 97h1.25v1.25h-1.25zM102 97h1.25v1.25h-1.25zM100 98h1.25v1.25h-1.25zM103 100h1.25v1.25h-1.25z"/>
<path fill="#c0e4f0" d="M38 0h1.25v1.25h-1.25zM97 0h1.25v1.25h-1.25zM38 1h1.25v1.25h-1.25zM70 1h1.25v1.25h-1.25zM84 6h1.25v1.25h-1.25zM96 7h1.25v1.25h-1.25zM69 8h1.25v1.25h-1.25zM88 8h1.25v1.25h-1.25zM107 9h1v1.25h-1zM77 10h2.25v1.25h-2.25zM87 10h1.25v1.25h-1.25zM92 10h1.25v1.25h-1.25zM95 10h1.25v1.25h-1.25zM67 11h1.25v1.25h-1.25zM78 11h1.25v1.25h-1.25zM83 11h1.25v1.25h-1.25zM99 11h1.25v1.25h-1.25zM107 11h1v1.25h-1zM89 12h1.25v1.25h-1.25zM99 12h1.25v1.25h-1.25zM107 12h1v1.25h-1zM72 13h1.25v1.25h-1.25zM85 13h1.25v1.25h-1.25zM91 13h1.25v1.25h-1.25zM79 16h1.25v1.25h-1.25zM57 21h1.25v1.25h-1.25zM55 22h1.25v1.25h-1.25zM64 22h1.25v1.25h-1.25zM57 23h1.25v1.25h-1.25zM61 23h1.25v1.25h-1.25zM102 23h1.25v1.25h-1.25zM64 24h1.25v1.25h-1.25zM50 25h1.25v1.25h-1.25zM53 25h1.25v1.25h-1.25zM65 25h1.25v1.25h-1.25zM76 26h1.25v1.25h-1.25zM44 28h1.25v1.25h-1.25zM53 28h1.25v1.25h-1.25zM76 28h1.25v1.25h-1.25zM76 29h1.25v1.25h-1.25zM105 29h1.25v1.25h-1.25zM104 30h1.25v1.25h-1.25zM75 41h1.25v1.25h-1.25zM70 44h1.25v1.25h-1.25zM68 47h1.25v1.25h-1.25zM67 51h1.25v1.25h-1.25zM70 51h1.25v1.25h-1.25zM107 64h1v1.25h-1zM107 67h1v1.25h-1zM107 71h1v1.25h-1zM79 73h1.25v1.25h-1.25zM90 73h1.25v1.25h-1.25zM92 73h1.25v1.25h-1.25zM84 75h1.25v1.25h-1.25zM85 76h1.25v1.25h-1.25zM98 77h1.25v1.25h-1.25zM102 78h1.25v1.25h-1.25zM86 79h1.25v1.25h-1.25zM100 80h1.25v1.25h-1.25zM90 81h1.25v1.25h-1.25zM92 81h1.25v1.25h-1.25zM86 83h1.25v1.25h-1.25zM98 86h1.25v1.25h-1.25zM107 94h1v1.25h-1z"/>
<path fill="#b7deed" d="M39 0h1.25v1.25h-1.25zM39 1h1.25v1.25h-1.25zM93 10h1.25v1.25h-1.25zM74 11h1.25v1.25h-1.25zM67 12h1.25v1.25h-1.25zM81 12h1.25v1.25h-1.25zM92 12h1.25v1.25h-1.25zM98 12h1.25v1.25h-1.25zM83 13h1.25v1.25h-1.25zM100 13h1.25v1.25h-1.25zM79 14h2.25v1.25h-2.25zM58 15h1.25v1.25h-1.25zM58 16h1.25v1.25h-1.25zM68 16h1.25v1.25h-1.25zM85 16h1.25v1.25h-1.25zM91 16h1.25v1.25h-1.25zM72 17h1.25v1.25h-1.25zM82 17h1.25v1.25h-1.25zM73 18h1.25v1.25h-1.25zM99 19h1.25v1.25h-1.25zM102 25h1.25v1.25h-1.25zM45 26h1.25v1.25h-1.25zM48 26h1.25v1.25h-1.25zM90 27h1.25v1.25h-1.25zM45 28h2.25v1.25h-2.25zM44 29h1.25v1.25h-1.25zM105 31h1.25v1.25h-1.25zM76 32h1.25v1.25h-1.25zM105 35h1.25v1.25h-1.25zM105 41h1.25v1.25h-1.25zM97 47h1.25v1.25h-1.25zM66 49h1.25v1.25h-1.25zM107 56h1v1.25h-1zM79 75h1.25v1.25h-1.25zM97 76h1.25v1.25h-1.25zM89 81h1.25v1.25h-1.25zM100 86h1.25v1.25h-1.25z"/>
<path fill="#bde1ed" d="M40 0h1.25v1.25h-1.25zM86 0h1.25v1.25h-1.25zM40 1h1.25v1.25h-1.25zM86 1h1.25v1.25h-1.25zM97 2h1.25v1.25h-1.25zM97 3h1.25v1.25h-1.25zM84 8h1.25v1.25h-1.25zM83 10h1.25v1.25h-1.25zM94 10h1.25v1.25h-1.25zM98 10h1.25v1.25h-1.25zM80 11h1.25v1.25h-1.25zM87 11h1.25v1.25h-1.25zM92 11h1.25v1.25h-1.25zM95 11h1.25v1.25h-1.25zM100 11h1.25v1.25h-1.25zM68 13h1.25v1.25h-1.25zM71 13h1.25v1.25h-1.25zM77 13h2.25v1.25h-2.25zM80 13h1.25v1.25h-1.25zM89 13h1.25v1.25h-1.25zM95 13h1.25v1.25h-1.25zM99 14h1.25v1.25h-1.25zM68 15h1.25v1.25h-1.25zM72 15h2.25v1.25h-2.25zM79 15h1.25v1.25h-1.25zM82 15h1.25v1.25h-1.25zM56 22h1.25v1.25h-1.25zM55 23h1.25v1.25h-1.25zM59 23h1.25v1.25h-1.25zM64 23h1.25v1.25h-1.25zM59 24h1.25v1.25h-1.25zM61 24h1.25v1.25h-1.25zM90 25h1.25v1.25h-1.25zM44 26h1.25v1.25h-1.25zM44 27h1.25v1.25h-1.25zM49 27h1.25v1.25h-1.25zM48 28h1.25v1.25h-1.25zM52 28h1.25v1.25h-1.25zM75 29h1.25v1.25h-1.25zM45 30h1.25v1.25h-1.25zM76 31h1.25v1.25h-1.25zM49 41h1.25v1.25h-1.25zM76 41h1.25v1.25h-1.25zM72 47h1.25v1.25h-1.25zM95 47h1.25v1.25h-1.25zM90 48h1.25v1.25h-1.25zM78 51h1.25v1.25h-1.25zM107 60h1v1.25h-1zM107 70h1v1.25h-1zM103 72h1.25v1.25h-1.25zM78 73h1.25v1.25h-1.25zM92 75h1.25v1.25h-1.25zM90 83h1.25v1.25h-1.25zM93 83h1.25v1.25h-1.25zM97 83h1.25v1.25h-1.25zM98 84h1.25v1.25h-1.25zM100 84h1.25v1.25h-1.25zM102 84h1.25v1.25h-1.25zM107 93h1v1.25h-1zM107 100h1v1.25h-1z"/>
<path fill="#c6e7f0" d="M41 0h1.25v1.25h-1.25zM43 0h1.25v1.25h-1.25zM41 1h1.25v1.25h-1.25zM43 1h1.25v1.25h-1.25zM84 4h1.25v1.25h-1.25zM88 6h1.25v1.25h-1.25zM77 7h1.25v1.25h-1.25zM87 7h1.25v1.25h-1.25zM92 8h1.25v1.25h-1.25zM94 8h1.25v1.25h-1.25zM98 8h1.25v1.25h-1.25zM100 8h1.25v1.25h-1.25zM107 8h1v1.25h-1zM78 9h1.25v1.25h-1.25zM80 9h1.25v1.25h-1.25zM83 9h1.25v1.25h-1.25zM93 9h1.25v1.25h-1.25zM95 9h1.25v1.25h-1.25zM99 9h2.25v1.25h-2.25zM67 10h1.25v1.25h-1.25zM80 10h2.25v1.25h-2.25zM91 11h1.25v1.25h-1.25zM73 12h1.25v1.25h-1.25zM78 12h1.25v1.25h-1.25zM85 12h1.25v1.25h-1.25zM99 13h1.25v1.25h-1.25zM68 14h1.25v1.25h-1.25zM72 14h2.25v1.25h-2.25zM82 14h1.25v1.25h-1.25zM57 18h1.25v1.25h-1.25zM56 21h1.25v1.25h-1.25zM60 21h1.25v1.25h-1.25zM63 21h1.25v1.25h-1.25zM63 22h1.25v1.25h-1.25zM60 23h1.25v1.25h-1.25zM102 24h2.25v1.25h-2.25zM46 25h2.25v1.25h-2.25zM52 25h1.25v1.25h-1.25zM76 25h1.25v1.25h-1.25zM76 27h1.25v1.25h-1.25zM105 27h1.25v1.25h-1.25zM45 29h1.25v1.25h-1.25zM104 29h1.25v1.25h-1.25zM66 45h1.25v1.25h-1.25zM79 47h1.25v1.25h-1.25zM81 47h1.25v1.25h-1.25zM84 48h1.25v1.25h-1.25zM71 49h1.25v1.25h-1.25zM66 50h1.25v1.25h-1.25zM71 51h1.25v1.25h-1.25zM89 51h1.25v1.25h-1.25zM92 51h1.25v1.25h-1.25zM84 66h1.25v1.25h-1.25zM89 69h1.25v1.25h-1.25zM86 73h1.25v1.25h-1.25zM99 76h2.25v1.25h-2.25zM100 77h1.25v1.25h-1.25zM107 78h1v1.25h-1zM88 79h1.25v1.25h-1.25zM97 79h1.25v1.25h-1.25zM107 79h1v1.25h-1zM88 80h1.25v1.25h-1.25zM94 83h1.25v1.25h-1.25zM86 84h1.25v1.25h-1.25zM88 84h1.25v1.25h-1.25zM100 93h1.25v1.25h-1.25zM99 94h1.25v1.25h-1.25zM103 98h1.25v1.25h-1.25z"/>
<path fill="#c9e7f0" d="M42 0h1.25v1.25h-1.25zM42 1h1.25v1.25h-1.25zM94 7h1.25v1.25h-1.25zM98 7h1.25v1.25h-1.25zM74 8h1.25v1.25h-1.25zM67 9h1.25v1.25h-1.25zM74 9h1.25v1.25h-1.25zM72 12h1.25v1.25h-1.25zM79 12h1.25v1.25h-1.25zM61 20h1.25v1.25h-1.25zM63 20h1.25v1.25h-1.25zM48 24h1.25v1.25h-1.25zM104 26h2.25v1.25h-2.25zM104 27h1.25v1.25h-1.25zM67 44h1.25v1.25h-1.25zM71 44h1.25v1.25h-1.25zM94 44h1.25v1.25h-1.25zM93 45h1.25v1.25h-1.25zM69 47h1.25v1.25h-1.25zM80 47h1.25v1.25h-1.25zM79 51h1.25v1.25h-1.25zM98 51h1.25v1.25h-1.25zM66 52h1.25v1.25h-1.25zM107 65h1v1.25h-1zM90 67h1.25v1.25h-1.25zM78 69h1.25v1.25h-1.25zM84 69h1.25v1.25h-1.25zM93 69h1.25v1.25h-1.25zM90 70h1.25v1.25h-1.25zM100 72h1.25v1.25h-1.25zM93 74h1.25v1.25h-1.25zM92 76h1.25v1.25h-1.25zM89 80h1.25v1.25h-1.25zM103 80h1.25v1.25h-1.25zM98 83h1.25v1.25h-1.25zM102 95h1.25v1.25h-1.25z"/>
<path fill="#f6814e" d="M44 0h1.25v1.25h-1.25zM10 4h1.25v1.25h-1.25zM101 50h1.25v1.25h-1.25zM75 52h1.25v1.25h-1.25zM80 74h1.25v1.25h-1.25z"/>
<path fill="#fc9f5a" d="M47 0h1.25v1.25h-1.25zM90 2h1.25v1.25h-1.25zM12 3h1.25v1.25h-1.25zM14 4h1.25v1.25h-1.25zM15 5h1.25v1.25h-1.25zM19 6h1.25v1.25h-1.25zM20 7h1.25v1.25h-1.25zM23 9h1.25v1.25h-1.25zM23 12h1.25v1.25h-1.25zM25 19h1.25v1.25h-1.25zM40 23h1.25v1.25h-1.25zM51 47h1.25v1.25h-1.25zM102 47h1.25v1.25h-1.25zM105 51h1.25v1.25h-1.25zM91 63h1.25v1.25h-1.25zM81 64h1.25v1.25h-1.25zM66 65h1.25v1.25h-1.25z"/>
<path fill="#f99054" d="M49 0h1.25v1.25h-1.25zM44 2h1.25v1.25h-1.25zM46 2h1.25v1.25h-1.25zM76 3h1.25v1.25h-1.25zM101 3h1.25v1.25h-1.25zM104 4h1.25v1.25h-1.25zM22 8h1.25v1.25h-1.25zM24 16h1.25v1.25h-1.25zM26 20h1.25v1.25h-1.25zM41 23h1.25v1.25h-1.25zM75 45h1.25v1.25h-1.25zM51 48h1.25v1.25h-1.25zM103 51h1.25v1.25h-1.25zM60 57h1.25v1.25h-1.25zM73 57h1.25v1.25h-1.25zM83 58h1.25v1.25h-1.25zM95 58h1.25v1.25h-1.25zM73 65h1.25v1.25h-1.25zM90 85h1.25v1.25h-1.25zM97 93h1.25v1.25h-1.25z"/>
<path fill="#fcba6c" d="M50 0h1.25v1.25h-1.25zM47 3h1.25v1.25h-1.25zM90 3h1.25v1.25h-1.25zM17 4h2.25v1.25h-2.25zM24 7h1.25v1.25h-1.25zM104 8h1.25v1.25h-1.25zM24 9h1.25v1.25h-1.25zM26 14h1.25v1.25h-1.25zM30 20h2.25v1.25h-2.25zM39 26h1.25v1.25h-1.25zM61 45h1.25v1.25h-1.25zM51 46h1.25v1.25h-1.25zM56 46h1.25v1.25h-1.25zM59 54h1.25v1.25h-1.25zM83 57h1.25v1.25h-1.25zM72 60h1.25v1.25h-1.25zM64 61h1.25v1.25h-1.25zM84 61h1.25v1.25h-1.25zM70 64h1.25v1.25h-1.25zM68 65h1.25v1.25h-1.25zM75 65h1.25v1.25h-1.25zM102 65h1.25v1.25h-1.25zM102 74h1.25v1.25h-1.25zM85 80h1.25v1.25h-1.25zM85 82h1.25v1.25h-1.25zM89 88h1.25v1.25h-1.25zM105 101h1.25v1.25h-1.25z"/>
<path fill="#fcae60" d="M51 0h1.25v1.25h-1.25zM13 2h1.25v1.25h-1.25zM16 5h2.25v1.25h-2.25zM105 6h1.25v1.25h-1.25zM21 7h1.25v1.25h-1.25zM27 16h1.25v1.25h-1.25zM25 17h1.25v1.25h-1.25zM37 22h1.25v1.25h-1.25zM50 46h1.25v1.25h-1.25zM53 47h1.25v1.25h-1.25zM54 51h1.25v1.25h-1.25zM55 52h1.25v1.25h-1.25zM88 58h1.25v1.25h-1.25zM76 60h1.25v1.25h-1.25zM67 61h1.25v1.25h-1.25zM96 65h1.25v1.25h-1.25zM74 67h1.25v1.25h-1.25zM77 74h1.25v1.25h-1.25zM102 76h1.25v1.25h-1.25zM106 76h1.25v1.25h-1.25zM85 83h1.25v1.25h-1.25z"/>
<path fill="#fcb163" d="M52 0h2.25v1.25h-2.25zM14 3h1.25v1.25h-1.25zM45 4h1.25v1.25h-1.25zM75 4h1.25v1.25h-1.25zM19 5h1.25v1.25h-1.25zM104 7h1.25v1.25h-1.25zM27 15h1.25v1.25h-1.25zM26 17h1.25v1.25h-1.25zM34 22h1.25v1.25h-1.25zM43 22h1.25v1.25h-1.25zM81 63h1.25v1.25h-1.25zM106 75h1.25v1.25h-1.25zM91 84h1.25v1.25h-1.25zM104 103h1.25v1.25h-1.25z"/>
<path fill="#fff3ae" d="M55 0h1.25v1.25h-1.25zM27 5h1.25v1.25h-1.25zM28 6h1.25v1.25h-1.25zM51 6h1.25v1.25h-1.25zM54 6h1.25v1.25h-1.25zM37 7h1.25v1.25h-1.25zM48 7h1.25v1.25h-1.25zM52 9h1.25v1.25h-1.25zM29 10h2.25v1.25h-2.25zM29 13h2.25v1.25h-2.25zM104 14h2.25v1.25h-2.25zM41 15h1.25v1.25h-1.25zM41 16h1.25v1.25h-1.25zM34 17h1.25v1.25h-1.25zM43 17h1.25v1.25h-1.25zM42 18h1.25v1.25h-1.25zM41 19h1.25v1.25h-1.25zM40 20h1.25v1.25h-1.25zM87 50h1.25v1.25h-1.25zM57 54h1.25v1.25h-1.25zM68 54h1.25v1.25h-1.25zM95 57h1.25v1.25h-1.25zM105 57h1.25v1.25h-1.25zM98 59h1.25v1.25h-1.25zM99 62h1.25v1.25h-1.25zM86 63h1.25v1.25h-1.25zM87 74h1.25v1.25h-1.25zM81 77h1.25v1.25h-1.25zM88 77h1.25v1.25h-1.25zM97 90h1.25v1.25h-1.25z"/>
<path fill="#ffffc0" d="M56 0h1.25v1.25h-1.25zM63 1h1.25v1.25h-1.25zM26 2h1.25v1.25h-1.25zM55 2h1.25v1.25h-1.25zM61 2h1.25v1.25h-1.25zM26 3h1.25v1.25h-1.25zM55 3h2.25v1.25h-2.25zM61 3h1.25v1.25h-1.25zM27 4h1.25v1.25h-1.25zM55 4h1.25v1.25h-1.25zM59 4h1.25v1.25h-1.25zM62 4h1.25v1.25h-1.25zM64 4h1.25v1.25h-1.25zM35 8h1.25v1.25h-1.25zM37 8h1.25v1.25h-1.25zM54 8h1.25v1.25h-1.25zM35 9h1.25v1.25h-1.25zM37 9h1.25v1.25h-1.25zM49 9h1.25v1.25h-1.25zM53 9h1.25v1.25h-1.25zM37 10h1.25v1.25h-1.25zM51 10h1.25v1.25h-1.25zM54 10h1.25v1.25h-1.25zM32 11h1.25v1.25h-1.25zM44 11h4.25v1.25h-4.25zM75 11h1.25v1.25h-1.25zM32 12h1.25v1.25h-1.25zM75 12h1.25v1.25h-1.25zM36 13h1.25v1.25h-1.25zM41 14h1.25v1.25h-1.25zM39 15h1.25v1.25h-1.25zM106 15h1.25v1.25h-1.25zM39 16h2.25v1.25h-2.25zM38 17h1.25v1.25h-1.25zM106 17h1.25v1.25h-1.25zM38 18h1.25v1.25h-1.25zM40 19h1.25v1.25h-1.25zM77 46h1.25v1.25h-1.25zM107 47h1v1.25h-1zM61 49h1.25v1.25h-1.25zM64 49h1.25v1.25h-1.25zM91 50h1.25v1.25h-1.25zM87 52h1.25v1.25h-1.25zM107 52h1v1.25h-1zM80 55h1.25v1.25h-1.25zM89 55h1.25v1.25h-1.25zM86 62h1.25v1.25h-1.25zM87 63h1.25v1.25h-1.25zM97 63h1.25v1.25h-1.25zM100 63h1.25v1.25h-1.25zM68 66h1.25v1.25h-1.25zM77 69h1.25v1.25h-1.25zM76 72h1.25v1.25h-1.25zM83 77h1.25v1.25h-1.25zM81 79h1.25v1.25h-1.25zM96 82h1.25v1.25h-1.25zM86 85h1.25v1.25h-1.25z"/>
<path fill="#fff6b1" d="M57 0h1.25v1.25h-1.25zM22 3h1.25v1.25h-1.25zM25 4h1.25v1.25h-1.25zM35 7h1.25v1.25h-1.25zM52 7h1.25v1.25h-1.25zM31 8h1.25v1.25h-1.25zM103 8h1.25v1.25h-1.25zM29 9h2.25v1.25h-2.25zM32 10h1.25v1.25h-1.25zM44 10h1.25v1.25h-1.25zM33 14h1.25v1.25h-1.25zM38 15h1.25v1.25h-1.25zM38 16h1.25v1.25h-1.25zM42 17h1.25v1.25h-1.25zM104 17h1.25v1.25h-1.25zM59 48h1.25v1.25h-1.25zM56 49h1.25v1.25h-1.25zM91 52h1.25v1.25h-1.25zM69 54h1.25v1.25h-1.25zM83 54h1.25v1.25h-1.25zM103 55h1.25v1.25h-1.25zM70 56h1.25v1.25h-1.25zM94 56h1.25v1.25h-1.25zM98 57h1.25v1.25h-1.25zM95 59h1.25v1.25h-1.25zM97 60h2.25v1.25h-2.25zM100 64h1.25v1.25h-1.25zM67 66h1.25v1.25h-1.25zM107 103h1v1.25h-1z"/>
<path fill="#edf9de" d="M58 0h1.25v1.25h-1.25zM72 0h1.25v1.25h-1.25zM79 0h1.25v1.25h-1.25zM29 4h3.25v1.25h-3.25zM36 4h1.25v1.25h-1.25zM34 5h1.25v1.25h-1.25zM57 7h1.25v1.25h-1.25zM63 7h1.25v1.25h-1.25zM61 8h1.25v1.25h-1.25zM63 8h1.25v1.25h-1.25zM39 9h1.25v1.25h-1.25zM39 10h1.25v1.25h-1.25zM56 10h1.25v1.25h-1.25zM59 10h1.25v1.25h-1.25zM62 10h1.25v1.25h-1.25zM62 11h1.25v1.25h-1.25zM45 15h1.25v1.25h-1.25zM48 15h2.25v1.25h-2.25zM54 15h1.25v1.25h-1.25zM45 16h1.25v1.25h-1.25zM53 16h1.25v1.25h-1.25zM105 22h1.25v1.25h-1.25zM101 27h1.25v1.25h-1.25zM86 45h1.25v1.25h-1.25zM77 47h1.25v1.25h-1.25zM107 48h1v1.25h-1zM69 50h1.25v1.25h-1.25zM86 50h1.25v1.25h-1.25zM98 50h1.25v1.25h-1.25zM63 52h1.25v1.25h-1.25zM98 54h1.25v1.25h-1.25zM78 55h1.25v1.25h-1.25zM87 55h1.25v1.25h-1.25zM103 58h1.25v1.25h-1.25zM96 68h1.25v1.25h-1.25zM82 71h1.25v1.25h-1.25zM101 85h1.25v1.25h-1.25zM91 87h1.25v1.25h-1.25zM104 89h1.25v1.25h-1.25zM104 91h1.25v1.25h-1.25zM105 94h1.25v1.25h-1.25zM104 97h1.25v1.25h-1.25zM100 99h1.25v1.25h-1.25z"/>
<path fill="#fcffc3" d="M59 0h1.25v1.25h-1.25zM61 1h1.25v1.25h-1.25zM63 2h1.25v1.25h-1.25zM57 3h1.25v1.25h-1.25zM59 3h1.25v1.25h-1.25zM61 5h1.25v1.25h-1.25zM35 6h1.25v1.25h-1.25zM37 6h1.25v1.25h-1.25zM38 7h1.25v1.25h-1.25zM33 8h1.25v1.25h-1.25zM33 9h1.25v1.25h-1.25zM47 9h1.25v1.25h-1.25zM50 9h1.25v1.25h-1.25zM33 10h1.25v1.25h-1.25zM52 10h2.25v1.25h-2.25zM65 10h1.25v1.25h-1.25zM90 10h1.25v1.25h-1.25zM103 10h1.25v1.25h-1.25zM49 11h1.25v1.25h-1.25zM38 14h1.25v1.25h-1.25zM76 15h1.25v1.25h-1.25zM75 16h1.25v1.25h-1.25zM101 17h1.25v1.25h-1.25zM104 18h1.25v1.25h-1.25zM106 18h1.25v1.25h-1.25zM77 44h1.25v1.25h-1.25zM60 46h1.25v1.25h-1.25zM64 47h1.25v1.25h-1.25zM57 48h1.25v1.25h-1.25zM60 48h1.25v1.25h-1.25zM87 49h1.25v1.25h-1.25zM99 50h1.25v1.25h-1.25zM57 51h1.25v1.25h-1.25zM63 51h1.25v1.25h-1.25zM82 52h2.25v1.25h-2.25zM79 54h1.25v1.25h-1.25zM84 54h1.25v1.25h-1.25zM87 54h1.25v1.25h-1.25zM92 55h1.25v1.25h-1.25zM104 58h1.25v1.25h-1.25zM101 59h1.25v1.25h-1.25zM106 59h1.25v1.25h-1.25zM70 63h1.25v1.25h-1.25zM101 63h1.25v1.25h-1.25zM70 68h1.25v1.25h-1.25zM72 68h1.25v1.25h-1.25zM77 68h1.25v1.25h-1.25zM106 68h1.25v1.25h-1.25zM73 69h1.25v1.25h-1.25zM83 72h1.25v1.25h-1.25zM85 72h1.25v1.25h-1.25zM106 73h1.25v1.25h-1.25zM83 75h1.25v1.25h-1.25zM97 94h1.25v1.25h-1.25z"/>
<path fill="#fff6b4" d="M60 0h1.25v1.25h-1.25zM22 2h1.25v1.25h-1.25zM52 6h1.25v1.25h-1.25zM33 7h1.25v1.25h-1.25zM103 9h1.25v1.25h-1.25zM45 10h1.25v1.25h-1.25zM97 59h1.25v1.25h-1.25zM100 60h1.25v1.25h-1.25zM74 69h1.25v1.25h-1.25z"/>
<path fill="#fff9b7" d="M61 0h1.25v1.25h-1.25zM64 0h1.25v1.25h-1.25zM55 1h3.25v1.25h-3.25zM24 2h1.25v1.25h-1.25zM24 3h1.25v1.25h-1.25zM64 3h1.25v1.25h-1.25zM32 6h1.25v1.25h-1.25zM53 6h1.25v1.25h-1.25zM34 7h1.25v1.25h-1.25zM42 7h1.25v1.25h-1.25zM36 8h1.25v1.25h-1.25zM51 8h1.25v1.25h-1.25zM32 9h1.25v1.25h-1.25zM36 9h1.25v1.25h-1.25zM102 9h1.25v1.25h-1.25zM36 10h1.25v1.25h-1.25zM46 10h1.25v1.25h-1.25zM30 12h2.25v1.25h-2.25zM76 12h1.25v1.25h-1.25zM32 13h1.25v1.25h-1.25zM76 13h1.25v1.25h-1.25zM77 45h1.25v1.25h-1.25zM67 55h1.25v1.25h-1.25zM66 57h1.25v1.25h-1.25zM97 57h1.25v1.25h-1.25zM106 57h1.25v1.25h-1.25zM88 59h1.25v1.25h-1.25zM85 61h1.25v1.25h-1.25zM66 63h1.25v1.25h-1.25zM101 64h1.25v1.25h-1.25zM69 67h1.25v1.25h-1.25zM78 67h1.25v1.25h-1.25zM81 70h1.25v1.25h-1.25zM105 80h1.25v1.25h-1.25z"/>
<path fill="#fff6ae" d="M62 0h1.25v1.25h-1.25zM54 7h1.25v1.25h-1.25zM31 9h1.25v1.25h-1.25zM76 11h1.25v1.25h-1.25zM31 13h1.25v1.25h-1.25zM39 20h1.25v1.25h-1.25zM100 57h1.25v1.25h-1.25zM74 71h1.25v1.25h-1.25z"/>
<path fill="#f6844e" d="M65 0h1.25v1.25h-1.25zM8 3h1.25v1.25h-1.25zM21 8h1.25v1.25h-1.25zM22 10h1.25v1.25h-1.25zM22 12h1.25v1.25h-1.25zM23 14h1.25v1.25h-1.25zM42 23h1.25v1.25h-1.25zM39 24h1.25v1.25h-1.25zM48 46h1.25v1.25h-1.25zM76 46h1.25v1.25h-1.25zM104 47h1.25v1.25h-1.25zM103 48h1.25v1.25h-1.25zM105 49h1.25v1.25h-1.25zM75 50h1.25v1.25h-1.25zM104 50h1.25v1.25h-1.25zM102 51h1.25v1.25h-1.25zM106 52h1.25v1.25h-1.25zM77 57h1.25v1.25h-1.25zM67 58h1.25v1.25h-1.25zM74 61h2.25v1.25h-2.25z"/>
<path fill="#fffcbd" d="M66 0h1.25v1.25h-1.25zM62 1h1.25v1.25h-1.25zM25 3h1.25v1.25h-1.25zM66 3h1.25v1.25h-1.25zM29 6h1.25v1.25h-1.25zM52 8h1.25v1.25h-1.25zM102 10h1.25v1.25h-1.25zM40 15h1.25v1.25h-1.25zM101 15h1.25v1.25h-1.25zM101 16h1.25v1.25h-1.25zM41 17h1.25v1.25h-1.25zM59 52h1.25v1.25h-1.25zM90 54h1.25v1.25h-1.25zM94 64h1.25v1.25h-1.25zM88 67h1.25v1.25h-1.25zM87 78h1.25v1.25h-1.25zM93 90h1.25v1.25h-1.25z"/>
<path fill="#e7f6ed" d="M67 0h1.25v1.25h-1.25zM74 0h1.25v1.25h-1.25zM78 0h1.25v1.25h-1.25zM94 0h1.25v1.25h-1.25zM87 1h1.25v1.25h-1.25zM91 1h1.25v1.25h-1.25zM34 2h1.25v1.25h-1.25zM82 2h1.25v1.25h-1.25zM89 3h1.25v1.25h-1.25zM91 3h1.25v1.25h-1.25zM73 4h1.25v1.25h-1.25zM82 6h1.25v1.25h-1.25zM56 11h1.25v1.25h-1.25zM39 12h1.25v1.25h-1.25zM62 12h1.25v1.25h-1.25zM47 16h1.25v1.25h-1.25zM51 17h1.25v1.25h-1.25zM53 17h1.25v1.25h-1.25zM48 18h1.25v1.25h-1.25zM51 18h1.25v1.25h-1.25zM44 19h1.25v1.25h-1.25zM47 19h1.25v1.25h-1.25zM51 21h1.25v1.25h-1.25zM75 23h1.25v1.25h-1.25zM104 23h2.25v1.25h-2.25zM101 33h1.25v1.25h-1.25zM101 34h1.25v1.25h-1.25zM101 36h1.25v1.25h-1.25zM101 40h1.25v1.25h-1.25zM94 45h1.25v1.25h-1.25zM99 46h1.25v1.25h-1.25zM78 48h1.25v1.25h-1.25zM95 48h1.25v1.25h-1.25zM89 49h1.25v1.25h-1.25zM94 49h1.25v1.25h-1.25zM71 50h1.25v1.25h-1.25zM84 50h1.25v1.25h-1.25zM90 50h1.25v1.25h-1.25zM89 52h1.25v1.25h-1.25zM103 57h1.25v1.25h-1.25zM103 60h1.25v1.25h-1.25zM102 62h1.25v1.25h-1.25zM76 66h1.25v1.25h-1.25zM79 66h1.25v1.25h-1.25zM83 66h1.25v1.25h-1.25zM103 66h1.25v1.25h-1.25zM102 67h1.25v1.25h-1.25zM83 68h1.25v1.25h-1.25zM85 68h1.25v1.25h-1.25zM88 68h1.25v1.25h-1.25zM101 68h1.25v1.25h-1.25zM80 69h1.25v1.25h-1.25zM104 71h1.25v1.25h-1.25zM98 72h1.25v1.25h-1.25zM76 73h1.25v1.25h-1.25zM82 73h1.25v1.25h-1.25zM87 73h1.25v1.25h-1.25zM99 73h1.25v1.25h-1.25zM102 73h1.25v1.25h-1.25zM87 76h1.25v1.25h-1.25zM91 77h1.25v1.25h-1.25zM96 80h1.25v1.25h-1.25zM103 82h1.25v1.25h-1.25zM95 88h1.25v1.25h-1.25zM101 88h1.25v1.25h-1.25zM104 88h1.25v1.25h-1.25zM99 93h1.25v1.25h-1.25zM103 93h1.25v1.25h-1.25zM104 95h1.25v1.25h-1.25zM105 99h2.25v1.25h-2.25zM107 102h1v1.25h-1z"/>
<path fill="#c3e4f0" d="M70 0h1.25v1.25h-1.25zM97 1h1.25v1.25h-1.25zM70 2h1.25v1.25h-1.25zM88 5h1.25v1.25h-1.25zM69 6h1.25v1.25h-1.25zM84 7h1.25v1.25h-1.25zM93 7h1.25v1.25h-1.25zM78 8h1.25v1.25h-1.25zM87 8h1.25v1.25h-1.25zM93 8h1.25v1.25h-1.25zM77 9h1.25v1.25h-1.25zM100 10h1.25v1.25h-1.25zM107 10h1v1.25h-1zM77 11h1.25v1.25h-1.25zM71 12h1.25v1.25h-1.25zM73 13h1.25v1.25h-1.25zM58 14h1.25v1.25h-1.25zM71 14h1.25v1.25h-1.25zM89 14h1.25v1.25h-1.25zM91 14h1.25v1.25h-1.25zM59 21h1.25v1.25h-1.25zM62 21h1.25v1.25h-1.25zM59 22h1.25v1.25h-1.25zM61 22h2.25v1.25h-2.25zM66 22h1.25v1.25h-1.25zM65 24h1.25v1.25h-1.25zM51 26h1.25v1.25h-1.25zM75 26h1.25v1.25h-1.25zM75 27h1.25v1.25h-1.25zM75 28h1.25v1.25h-1.25zM104 28h1.25v1.25h-1.25zM106 29h1.25v1.25h-1.25zM106 41h1.25v1.25h-1.25zM67 47h1.25v1.25h-1.25zM98 47h1.25v1.25h-1.25zM100 47h1.25v1.25h-1.25zM70 48h1.25v1.25h-1.25zM107 62h1v1.25h-1zM107 68h1v1.25h-1zM86 69h1.25v1.25h-1.25zM79 76h1.25v1.25h-1.25zM84 76h1.25v1.25h-1.25zM98 76h1.25v1.25h-1.25zM93 79h1.25v1.25h-1.25zM86 80h1.25v1.25h-1.25zM97 80h1.25v1.25h-1.25zM97 81h1.25v1.25h-1.25zM95 83h1.25v1.25h-1.25zM93 88h1.25v1.25h-1.25zM104 93h1.25v1.25h-1.25z"/>
<path fill="#f0663f" d="M76 0h1.25v1.25h-1.25zM13 7h1.25v1.25h-1.25zM20 10h1.25v1.25h-1.25zM42 24h1.25v1.25h-1.25zM41 25h1.25v1.25h-1.25zM46 45h1.25v1.25h-1.25zM49 47h1.25v1.25h-1.25zM62 56h1.25v1.25h-1.25zM96 93h1.25v1.25h-1.25z"/>
<path fill="#def3f6" d="M77 0h1.25v1.25h-1.25zM80 2h1.25v1.25h-1.25zM38 3h1.25v1.25h-1.25zM81 4h1.25v1.25h-1.25zM98 4h1.25v1.25h-1.25zM107 4h1v1.25h-1zM81 5h2.25v1.25h-2.25zM92 5h1.25v1.25h-1.25zM95 5h1.25v1.25h-1.25zM91 6h1.25v1.25h-1.25zM60 15h1.25v1.25h-1.25zM66 15h1.25v1.25h-1.25zM45 20h1.25v1.25h-1.25zM50 20h1.25v1.25h-1.25zM44 21h1.25v1.25h-1.25zM48 21h1.25v1.25h-1.25zM50 21h1.25v1.25h-1.25zM54 21h1.25v1.25h-1.25zM90 21h1.25v1.25h-1.25zM102 21h1.25v1.25h-1.25zM44 22h1.25v1.25h-1.25zM96 44h1.25v1.25h-1.25zM100 45h1.25v1.25h-1.25zM73 47h1.25v1.25h-1.25zM94 48h1.25v1.25h-1.25zM100 48h1.25v1.25h-1.25zM79 49h1.25v1.25h-1.25zM97 49h2.25v1.25h-2.25zM73 51h1.25v1.25h-1.25zM97 54h1.25v1.25h-1.25zM84 68h1.25v1.25h-1.25zM94 68h1.25v1.25h-1.25zM97 68h1.25v1.25h-1.25zM88 70h1.25v1.25h-1.25zM95 71h1.25v1.25h-1.25zM83 73h1.25v1.25h-1.25zM89 74h1.25v1.25h-1.25zM82 75h1.25v1.25h-1.25zM100 75h1.25v1.25h-1.25zM93 78h1.25v1.25h-1.25zM88 81h1.25v1.25h-1.25zM98 85h1.25v1.25h-1.25zM102 94h1.25v1.25h-1.25zM102 96h1.25v1.25h-1.25zM106 97h1.25v1.25h-1.25zM105 100h1.25v1.25h-1.25z"/>
<path fill="#e4f3f3" d="M80 0h1.25v1.25h-1.25zM87 0h1.25v1.25h-1.25zM100 0h1.25v1.25h-1.25zM74 1h1.25v1.25h-1.25zM83 1h1.25v1.25h-1.25zM94 1h1.25v1.25h-1.25zM100 1h1.25v1.25h-1.25zM43 2h1.25v1.25h-1.25zM41 3h2.25v1.25h-2.25zM73 3h1.25v1.25h-1.25zM83 3h1.25v1.25h-1.25zM43 4h1.25v1.25h-1.25zM72 4h1.25v1.25h-1.25zM89 4h1.25v1.25h-1.25zM39 5h1.25v1.25h-1.25zM56 13h2.25v1.25h-2.25zM59 13h1.25v1.25h-1.25zM61 14h1.25v1.25h-1.25zM66 14h1.25v1.25h-1.25zM54 19h1.25v1.25h-1.25zM47 20h2.25v1.25h-2.25zM46 21h1.25v1.25h-1.25zM101 37h1.25v1.25h-1.25zM101 38h1.25v1.25h-1.25zM84 46h1.25v1.25h-1.25zM93 46h1.25v1.25h-1.25zM67 49h1.25v1.25h-1.25zM100 52h1.25v1.25h-1.25zM78 66h1.25v1.25h-1.25zM95 67h1.25v1.25h-1.25zM78 68h1.25v1.25h-1.25zM75 69h1.25v1.25h-1.25zM81 69h1.25v1.25h-1.25zM85 69h1.25v1.25h-1.25zM89 72h1.25v1.25h-1.25zM87 75h1.25v1.25h-1.25zM103 77h1.25v1.25h-1.25zM105 77h1.25v1.25h-1.25zM85 79h1.25v1.25h-1.25zM106 80h1.25v1.25h-1.25zM102 82h1.25v1.25h-1.25zM106 87h1.25v1.25h-1.25zM97 89h1.25v1.25h-1.25zM106 91h1.25v1.25h-1.25z"/>
<path fill="#e1f3f6" d="M81 0h1.25v1.25h-1.25zM81 1h1.25v1.25h-1.25zM77 2h1.25v1.25h-1.25zM81 2h1.25v1.25h-1.25zM83 2h1.25v1.25h-1.25zM92 2h1.25v1.25h-1.25zM95 2h1.25v1.25h-1.25zM100 2h1.25v1.25h-1.25zM43 3h1.25v1.25h-1.25zM38 4h1.25v1.25h-1.25zM79 4h1.25v1.25h-1.25zM85 4h1.25v1.25h-1.25zM99 4h2.25v1.25h-2.25zM79 5h1.25v1.25h-1.25zM71 6h3.25v1.25h-3.25zM68 7h1.25v1.25h-1.25zM72 7h1.25v1.25h-1.25zM82 7h1.25v1.25h-1.25zM63 12h1.25v1.25h-1.25zM59 14h1.25v1.25h-1.25zM59 15h1.25v1.25h-1.25zM64 15h1.25v1.25h-1.25zM59 16h1.25v1.25h-1.25zM90 19h1.25v1.25h-1.25zM52 20h1.25v1.25h-1.25zM65 20h1.25v1.25h-1.25zM90 20h1.25v1.25h-1.25zM49 21h1.25v1.25h-1.25zM76 24h1.25v1.25h-1.25zM106 25h1.25v1.25h-1.25zM101 43h1.25v1.25h-1.25zM79 44h1.25v1.25h-1.25zM81 44h1.25v1.25h-1.25zM84 44h1.25v1.25h-1.25zM68 45h1.25v1.25h-1.25zM81 45h1.25v1.25h-1.25zM67 46h1.25v1.25h-1.25zM58 47h1.25v1.25h-1.25zM80 48h1.25v1.25h-1.25zM94 54h1.25v1.25h-1.25zM66 55h1.25v1.25h-1.25zM97 55h2.25v1.25h-2.25zM88 66h1.25v1.25h-1.25zM94 66h1.25v1.25h-1.25zM97 66h1.25v1.25h-1.25zM105 67h1.25v1.25h-1.25zM76 69h1.25v1.25h-1.25zM83 69h1.25v1.25h-1.25zM98 69h1.25v1.25h-1.25zM99 70h1.25v1.25h-1.25zM80 71h1.25v1.25h-1.25zM93 72h1.25v1.25h-1.25zM81 73h1.25v1.25h-1.25zM94 73h1.25v1.25h-1.25zM81 75h1.25v1.25h-1.25zM96 77h1.25v1.25h-1.25zM90 78h1.25v1.25h-1.25zM95 78h1.25v1.25h-1.25zM97 78h1.25v1.25h-1.25zM99 81h1.25v1.25h-1.25zM105 81h1.25v1.25h-1.25zM88 83h1.25v1.25h-1.25zM96 83h1.25v1.25h-1.25zM99 84h1.25v1.25h-1.25zM104 85h1.25v1.25h-1.25zM101 86h1.25v1.25h-1.25zM101 87h1.25v1.25h-1.25zM92 88h1.25v1.25h-1.25zM98 88h1.25v1.25h-1.25zM102 91h1.25v1.25h-1.25zM104 92h1.25v1.25h-1.25zM102 93h1.25v1.25h-1.25zM105 95h1.25v1.25h-1.25zM100 96h1.25v1.25h-1.25zM103 97h1.25v1.25h-1.25z"/>
<path fill="#e1f3f9" d="M83 0h1.25v1.25h-1.25zM67 2h1.25v1.25h-1.25zM80 4h1.25v1.25h-1.25zM87 5h1.25v1.25h-1.25zM91 7h1.25v1.25h-1.25zM68 8h1.25v1.25h-1.25zM71 8h1.25v1.25h-1.25zM62 13h1.25v1.25h-1.25zM71 45h1.25v1.25h-1.25zM84 45h1.25v1.25h-1.25zM107 61h1v1.25h-1zM95 66h1.25v1.25h-1.25zM103 70h1.25v1.25h-1.25zM88 71h1.25v1.25h-1.25zM98 79h1.25v1.25h-1.25zM92 87h1.25v1.25h-1.25zM101 92h1.25v1.25h-1.25zM104 96h1.25v1.25h-1.25z"/>
<path fill="#def0f6" d="M84 0h1.25v1.25h-1.25zM92 0h1.25v1.25h-1.25zM94 3h1.25v1.25h-1.25zM85 5h1.25v1.25h-1.25zM52 19h1.25v1.25h-1.25zM46 23h1.25v1.25h-1.25zM74 47h1.25v1.25h-1.25zM86 51h1.25v1.25h-1.25zM70 52h1.25v1.25h-1.25zM100 67h1.25v1.25h-1.25zM101 84h1.25v1.25h-1.25z"/>
<path fill="#d2edf3" d="M88 0h1.25v1.25h-1.25zM84 1h1.25v1.25h-1.25zM69 2h1.25v1.25h-1.25zM88 2h1.25v1.25h-1.25zM96 2h1.25v1.25h-1.25zM84 3h1.25v1.25h-1.25zM88 3h1.25v1.25h-1.25zM93 4h1.25v1.25h-1.25zM67 6h1.25v1.25h-1.25zM74 6h1.25v1.25h-1.25zM78 6h1.25v1.25h-1.25zM80 6h1.25v1.25h-1.25zM83 6h1.25v1.25h-1.25zM85 7h1.25v1.25h-1.25zM92 7h1.25v1.25h-1.25zM95 7h1.25v1.25h-1.25zM80 8h1.25v1.25h-1.25zM71 9h1.25v1.25h-1.25zM73 9h1.25v1.25h-1.25zM81 9h1.25v1.25h-1.25zM72 10h1.25v1.25h-1.25zM85 10h1.25v1.25h-1.25zM89 10h1.25v1.25h-1.25zM85 11h1.25v1.25h-1.25zM82 12h1.25v1.25h-1.25zM91 12h1.25v1.25h-1.25zM64 16h1.25v1.25h-1.25zM60 17h1.25v1.25h-1.25zM63 17h1.25v1.25h-1.25zM60 18h1.25v1.25h-1.25zM57 19h1.25v1.25h-1.25zM59 19h1.25v1.25h-1.25zM51 20h1.25v1.25h-1.25zM45 22h1.25v1.25h-1.25zM47 23h1.25v1.25h-1.25zM49 23h2.25v1.25h-2.25zM106 26h1.25v1.25h-1.25zM105 28h1.25v1.25h-1.25zM90 44h1.25v1.25h-1.25zM98 44h1.25v1.25h-1.25zM70 46h1.25v1.25h-1.25zM96 47h1.25v1.25h-1.25zM83 51h1.25v1.25h-1.25zM100 51h1.25v1.25h-1.25zM107 63h1v1.25h-1zM90 66h1.25v1.25h-1.25zM93 67h1.25v1.25h-1.25zM98 68h1.25v1.25h-1.25zM92 69h1.25v1.25h-1.25zM86 71h1.25v1.25h-1.25zM90 71h1.25v1.25h-1.25zM88 73h1.25v1.25h-1.25zM78 77h1.25v1.25h-1.25zM98 80h1.25v1.25h-1.25zM91 81h1.25v1.25h-1.25zM97 82h1.25v1.25h-1.25zM100 83h1.25v1.25h-1.25zM102 89h1.25v1.25h-1.25zM98 94h1.25v1.25h-1.25zM100 95h1.25v1.25h-1.25zM103 95h1.25v1.25h-1.25zM104 98h1.25v1.25h-1.25z"/>
<path fill="#f3f9d5" d="M91 0h1.25v1.25h-1.25zM63 5h1.25v1.25h-1.25zM59 6h1.25v1.25h-1.25zM62 6h1.25v1.25h-1.25zM55 8h2.25v1.25h-2.25zM62 8h1.25v1.25h-1.25zM64 8h1.25v1.25h-1.25zM66 9h1.25v1.25h-1.25zM42 11h2.25v1.25h-2.25zM42 12h2.25v1.25h-2.25zM41 13h1.25v1.25h-1.25zM53 13h1.25v1.25h-1.25zM46 16h1.25v1.25h-1.25zM76 17h1.25v1.25h-1.25zM76 18h1.25v1.25h-1.25zM75 19h1.25v1.25h-1.25zM76 20h1.25v1.25h-1.25zM101 25h1.25v1.25h-1.25zM101 41h1.25v1.25h-1.25zM73 44h1.25v1.25h-1.25zM87 44h1.25v1.25h-1.25zM73 46h1.25v1.25h-1.25zM96 48h1.25v1.25h-1.25zM80 52h1.25v1.25h-1.25zM66 54h1.25v1.25h-1.25zM96 54h1.25v1.25h-1.25zM88 56h1.25v1.25h-1.25zM105 58h2.25v1.25h-2.25zM105 60h1.25v1.25h-1.25zM106 66h1.25v1.25h-1.25zM76 68h1.25v1.25h-1.25zM96 69h1.25v1.25h-1.25zM91 71h1.25v1.25h-1.25zM77 75h1.25v1.25h-1.25zM96 89h1.25v1.25h-1.25z"/>
<path fill="#d8edf6" d="M93 0h1.25v1.25h-1.25zM88 1h1.25v1.25h-1.25zM55 15h1.25v1.25h-1.25zM62 17h1.25v1.25h-1.25zM78 49h1.25v1.25h-1.25zM68 52h1.25v1.25h-1.25zM93 66h1.25v1.25h-1.25z"/>
<path fill="#e4f6f0" d="M98 0h1.25v1.25h-1.25zM67 1h1.25v1.25h-1.25zM78 1h1.25v1.25h-1.25zM98 1h1.25v1.25h-1.25zM107 1h1v1.25h-1zM33 2h1.25v1.25h-1.25zM41 2h1.25v1.25h-1.25zM91 2h1.25v1.25h-1.25zM99 2h1.25v1.25h-1.25zM33 3h2.25v1.25h-2.25zM68 3h1.25v1.25h-1.25zM79 3h1.25v1.25h-1.25zM41 4h2.25v1.25h-2.25zM58 4h1.25v1.25h-1.25zM82 4h1.25v1.25h-1.25zM40 5h1.25v1.25h-1.25zM71 5h1.25v1.25h-1.25zM99 6h1.25v1.25h-1.25zM59 11h1.25v1.25h-1.25zM57 12h1.25v1.25h-1.25zM59 12h1.25v1.25h-1.25zM64 12h1.25v1.25h-1.25zM61 13h1.25v1.25h-1.25zM59 17h1.25v1.25h-1.25zM102 17h1.25v1.25h-1.25zM50 18h1.25v1.25h-1.25zM53 18h1.25v1.25h-1.25zM102 18h1.25v1.25h-1.25zM65 19h1.25v1.25h-1.25zM44 20h1.25v1.25h-1.25zM49 20h1.25v1.25h-1.25zM54 20h1.25v1.25h-1.25zM103 20h1.25v1.25h-1.25zM46 22h1.25v1.25h-1.25zM91 45h1.25v1.25h-1.25zM72 46h1.25v1.25h-1.25zM80 46h1.25v1.25h-1.25zM95 46h1.25v1.25h-1.25zM88 48h1.25v1.25h-1.25zM72 49h1.25v1.25h-1.25zM81 49h1.25v1.25h-1.25zM85 49h1.25v1.25h-1.25zM70 50h1.25v1.25h-1.25zM74 51h1.25v1.25h-1.25zM85 51h1.25v1.25h-1.25zM72 52h1.25v1.25h-1.25zM85 54h1.25v1.25h-1.25zM60 55h1.25v1.25h-1.25zM95 55h1.25v1.25h-1.25zM105 66h1.25v1.25h-1.25zM92 67h1.25v1.25h-1.25zM90 68h1.25v1.25h-1.25zM103 68h1.25v1.25h-1.25zM99 69h1.25v1.25h-1.25zM102 70h1.25v1.25h-1.25zM105 70h1.25v1.25h-1.25zM92 71h1.25v1.25h-1.25zM97 71h1.25v1.25h-1.25zM91 75h1.25v1.25h-1.25zM105 78h1.25v1.25h-1.25zM83 79h1.25v1.25h-1.25zM87 84h1.25v1.25h-1.25zM100 85h1.25v1.25h-1.25zM100 88h1.25v1.25h-1.25zM101 96h1.25v1.25h-1.25zM102 99h1.25v1.25h-1.25zM104 99h1.25v1.25h-1.25z"/>
<path fill="#f36c42" d="M101 0h1.25v1.25h-1.25zM7 3h1.25v1.25h-1.25zM10 5h1.25v1.25h-1.25zM20 11h1.25v1.25h-1.25zM22 14h1.25v1.25h-1.25zM23 16h1.25v1.25h-1.25zM24 21h1.25v1.25h-1.25zM40 27h1.25v1.25h-1.25zM41 39h2.25v1.25h-2.25zM65 47h1.25v1.25h-1.25zM58 53h1.25v1.25h-1.25zM73 53h1.25v1.25h-1.25zM90 58h1.25v1.25h-1.25zM73 72h1.25v1.25h-1.25zM105 104h1.25v1.25h-1.25z"/>
<path fill="#f67245" d="M104 0h1.25v1.25h-1.25zM7 2h1.25v1.25h-1.25zM8 4h1.25v1.25h-1.25zM11 5h1.25v1.25h-1.25zM23 15h1.25v1.25h-1.25zM23 17h1.25v1.25h-1.25zM23 18h1.25v1.25h-1.25zM36 23h1.25v1.25h-1.25zM41 24h1.25v1.25h-1.25zM39 35h1.25v1.25h-1.25zM105 47h1.25v1.25h-1.25zM54 48h1.25v1.25h-1.25zM104 52h1.25v1.25h-1.25zM76 53h1.25v1.25h-1.25zM62 59h1.25v1.25h-1.25zM99 60h1.25v1.25h-1.25zM65 64h1.25v1.25h-1.25z"/>
<path fill="#f67545" d="M105 0h1.25v1.25h-1.25zM12 6h1.25v1.25h-1.25zM15 7h1.25v1.25h-1.25zM21 12h1.25v1.25h-1.25zM28 22h1.25v1.25h-1.25zM56 48h1.25v1.25h-1.25zM101 49h1.25v1.25h-1.25zM68 58h1.25v1.25h-1.25zM80 58h1.25v1.25h-1.25zM83 78h1.25v1.25h-1.25z"/>
<path fill="#f67b48" d="M106 0h1.25v1.25h-1.25zM104 1h1.25v1.25h-1.25zM101 2h1.25v1.25h-1.25zM24 20h1.25v1.25h-1.25zM37 23h1.25v1.25h-1.25zM101 44h1.25v1.25h-1.25zM106 45h1.25v1.25h-1.25zM105 50h1.25v1.25h-1.25zM68 60h1.25v1.25h-1.25zM70 60h1.25v1.25h-1.25zM104 75h1.25v1.25h-1.25zM95 93h1.25v1.25h-1.25z"/>
<path fill="#e1f3f3" d="M107 0h1v1.25h-1zM98 3h1.25v1.25h-1.25zM68 4h1.25v1.25h-1.25zM91 5h1.25v1.25h-1.25zM58 6h1.25v1.25h-1.25zM85 6h1.25v1.25h-1.25zM64 13h1.25v1.25h-1.25zM57 14h1.25v1.25h-1.25zM49 18h1.25v1.25h-1.25zM53 20h1.25v1.25h-1.25zM105 24h1.25v1.25h-1.25zM98 45h1.25v1.25h-1.25zM72 48h1.25v1.25h-1.25zM72 51h1.25v1.25h-1.25zM69 52h1.25v1.25h-1.25zM107 53h1v1.25h-1zM98 66h2.25v1.25h-2.25zM79 71h1.25v1.25h-1.25zM90 74h1.25v1.25h-1.25zM94 88h1.25v1.25h-1.25zM98 91h1.25v1.25h-1.25zM101 91h1.25v1.25h-1.25z"/>
<path fill="#f9874e" d="M44 1h1.25v1.25h-1.25zM45 2h1.25v1.25h-1.25zM106 2h1.25v1.25h-1.25zM47 46h1.25v1.25h-1.25zM101 46h1.25v1.25h-1.25zM60 58h1.25v1.25h-1.25zM84 58h1.25v1.25h-1.25zM87 58h1.25v1.25h-1.25zM96 58h1.25v1.25h-1.25zM101 74h1.25v1.25h-1.25z"/>
<path fill="#f6874e" d="M45 1h1.25v1.25h-1.25zM29 22h1.25v1.25h-1.25zM106 51h1.25v1.25h-1.25zM105 102h1.25v1.25h-1.25z"/>
<path fill="#f6814b" d="M46 1h1.25v1.25h-1.25zM106 1h1.25v1.25h-1.25zM104 2h1.25v1.25h-1.25zM11 4h1.25v1.25h-1.25zM13 5h1.25v1.25h-1.25zM22 13h1.25v1.25h-1.25zM43 23h1.25v1.25h-1.25zM40 24h1.25v1.25h-1.25zM101 45h2.25v1.25h-2.25zM101 47h1.25v1.25h-1.25zM52 50h1.25v1.25h-1.25zM54 50h1.25v1.25h-1.25zM102 50h1.25v1.25h-1.25zM52 51h1.25v1.25h-1.25zM54 52h1.25v1.25h-1.25zM71 58h1.25v1.25h-1.25zM65 62h1.25v1.25h-1.25z"/>
<path fill="#fc9c5a" d="M47 1h1.25v1.25h-1.25zM65 2h1.25v1.25h-1.25zM16 6h2.25v1.25h-2.25zM23 13h1.25v1.25h-1.25zM105 46h1.25v1.25h-1.25zM75 48h1.25v1.25h-1.25zM56 50h1.25v1.25h-1.25zM78 53h1.25v1.25h-1.25zM66 58h1.25v1.25h-1.25zM78 58h1.25v1.25h-1.25zM77 59h1.25v1.25h-1.25zM77 60h1.25v1.25h-1.25zM104 102h1.25v1.25h-1.25zM106 104h1.25v1.25h-1.25z"/>
<path fill="#fcb469" d="M50 1h1.25v1.25h-1.25zM14 2h1.25v1.25h-1.25zM102 2h1.25v1.25h-1.25zM101 7h1.25v1.25h-1.25zM25 14h1.25v1.25h-1.25zM27 17h1.25v1.25h-1.25zM56 52h1.25v1.25h-1.25z"/>
<path fill="#fcbd6f" d="M51 1h1.25v1.25h-1.25zM15 3h1.25v1.25h-1.25zM48 3h1.25v1.25h-1.25zM16 4h1.25v1.25h-1.25zM76 5h1.25v1.25h-1.25zM25 7h1.25v1.25h-1.25zM24 8h1.25v1.25h-1.25zM24 13h1.25v1.25h-1.25zM28 19h1.25v1.25h-1.25zM36 21h1.25v1.25h-1.25zM105 54h1.25v1.25h-1.25zM98 56h1.25v1.25h-1.25zM67 57h1.25v1.25h-1.25zM72 57h1.25v1.25h-1.25zM78 57h1.25v1.25h-1.25zM80 59h1.25v1.25h-1.25zM79 61h2.25v1.25h-2.25zM67 64h1.25v1.25h-1.25zM84 64h1.25v1.25h-1.25zM70 65h1.25v1.25h-1.25zM76 65h1.25v1.25h-1.25zM81 65h2.25v1.25h-2.25zM95 65h1.25v1.25h-1.25zM87 67h1.25v1.25h-1.25zM76 74h1.25v1.25h-1.25zM104 74h1.25v1.25h-1.25zM103 75h1.25v1.25h-1.25zM92 84h1.25v1.25h-1.25z"/>
<path fill="#fcb769" d="M52 1h1.25v1.25h-1.25zM102 1h1.25v1.25h-1.25zM22 7h1.25v1.25h-1.25zM105 9h1.25v1.25h-1.25zM24 10h1.25v1.25h-1.25zM29 20h1.25v1.25h-1.25zM39 27h1.25v1.25h-1.25zM52 44h1.25v1.25h-1.25zM52 47h1.25v1.25h-1.25zM76 51h1.25v1.25h-1.25zM73 54h1.25v1.25h-1.25zM106 54h1.25v1.25h-1.25zM73 56h1.25v1.25h-1.25zM81 56h1.25v1.25h-1.25zM92 57h1.25v1.25h-1.25zM65 63h1.25v1.25h-1.25zM103 65h1.25v1.25h-1.25zM103 74h1.25v1.25h-1.25zM104 76h1.25v1.25h-1.25zM96 94h1.25v1.25h-1.25z"/>
<path fill="#ffc678" d="M54 1h1.25v1.25h-1.25zM88 64h1.25v1.25h-1.25z"/>
<path fill="#f99657" d="M65 1h1.25v1.25h-1.25zM10 2h1.25v1.25h-1.25zM106 5h1.25v1.25h-1.25zM63 44h1.25v1.25h-1.25zM103 50h1.25v1.25h-1.25zM69 53h1.25v1.25h-1.25zM89 58h1.25v1.25h-1.25zM93 58h1.25v1.25h-1.25zM99 58h1.25v1.25h-1.25zM75 60h1.25v1.25h-1.25zM76 64h1.25v1.25h-1.25zM101 65h1.25v1.25h-1.25zM105 75h1.25v1.25h-1.25zM84 82h1.25v1.25h-1.25zM91 86h1.25v1.25h-1.25zM106 101h1.25v1.25h-1.25zM106 102h1.25v1.25h-1.25z"/>
<path fill="#fff9b4" d="M66 1h1.25v1.25h-1.25zM57 2h1.25v1.25h-1.25zM26 4h1.25v1.25h-1.25zM31 6h1.25v1.25h-1.25zM53 7h1.25v1.25h-1.25zM29 8h2.25v1.25h-2.25zM32 8h1.25v1.25h-1.25zM48 8h1.25v1.25h-1.25zM65 8h1.25v1.25h-1.25zM90 9h1.25v1.25h-1.25zM48 10h1.25v1.25h-1.25zM29 12h1.25v1.25h-1.25zM34 14h1.25v1.25h-1.25zM38 19h1.25v1.25h-1.25zM63 45h1.25v1.25h-1.25zM96 50h1.25v1.25h-1.25zM62 52h1.25v1.25h-1.25zM71 55h1.25v1.25h-1.25zM86 60h1.25v1.25h-1.25zM93 61h1.25v1.25h-1.25zM97 61h1.25v1.25h-1.25zM89 62h1.25v1.25h-1.25zM68 63h1.25v1.25h-1.25zM94 63h1.25v1.25h-1.25zM104 64h1.25v1.25h-1.25zM87 72h1.25v1.25h-1.25zM75 73h1.25v1.25h-1.25zM85 77h1.25v1.25h-1.25zM91 78h1.25v1.25h-1.25zM93 84h1.25v1.25h-1.25z"/>
<path fill="#eaf6e4" d="M68 1h1.25v1.25h-1.25zM68 2h1.25v1.25h-1.25zM73 2h1.25v1.25h-1.25zM35 4h1.25v1.25h-1.25zM37 4h1.25v1.25h-1.25zM41 5h3.25v1.25h-3.25zM64 9h1.25v1.25h-1.25zM64 10h1.25v1.25h-1.25zM57 11h1.25v1.25h-1.25zM39 13h1.25v1.25h-1.25zM48 13h1.25v1.25h-1.25zM66 13h1.25v1.25h-1.25zM102 16h2.25v1.25h-2.25zM44 17h1.25v1.25h-1.25zM52 17h1.25v1.25h-1.25zM103 17h1.25v1.25h-1.25zM46 19h1.25v1.25h-1.25zM51 19h1.25v1.25h-1.25zM76 19h1.25v1.25h-1.25zM76 21h1.25v1.25h-1.25zM106 23h1.25v1.25h-1.25zM101 32h1.25v1.25h-1.25zM60 44h1.25v1.25h-1.25zM82 44h1.25v1.25h-1.25zM85 45h1.25v1.25h-1.25zM96 45h1.25v1.25h-1.25zM99 45h1.25v1.25h-1.25zM87 47h1.25v1.25h-1.25zM99 49h1.25v1.25h-1.25zM72 50h1.25v1.25h-1.25zM78 50h1.25v1.25h-1.25zM89 50h1.25v1.25h-1.25zM94 50h1.25v1.25h-1.25zM97 50h1.25v1.25h-1.25zM87 51h1.25v1.25h-1.25zM94 52h1.25v1.25h-1.25zM88 54h1.25v1.25h-1.25zM93 54h1.25v1.25h-1.25zM63 55h1.25v1.25h-1.25zM102 64h1.25v1.25h-1.25zM80 66h1.25v1.25h-1.25zM99 67h1.25v1.25h-1.25zM91 69h1.25v1.25h-1.25zM101 69h1.25v1.25h-1.25zM95 70h1.25v1.25h-1.25zM76 71h1.25v1.25h-1.25zM90 72h1.25v1.25h-1.25zM102 72h1.25v1.25h-1.25zM104 72h1.25v1.25h-1.25zM86 74h1.25v1.25h-1.25zM100 78h1.25v1.25h-1.25zM99 79h1.25v1.25h-1.25zM101 79h1.25v1.25h-1.25zM91 80h1.25v1.25h-1.25zM101 80h1.25v1.25h-1.25zM87 81h1.25v1.25h-1.25zM102 81h1.25v1.25h-1.25zM101 82h1.25v1.25h-1.25zM104 84h1.25v1.25h-1.25zM104 94h1.25v1.25h-1.25zM106 94h1.25v1.25h-1.25zM101 99h1.25v1.25h-1.25z"/>
<path fill="#f67848" d="M76 1h1.25v1.25h-1.25zM9 4h1.25v1.25h-1.25zM21 10h1.25v1.25h-1.25zM33 23h1.25v1.25h-1.25zM35 23h1.25v1.25h-1.25zM39 25h1.25v1.25h-1.25zM39 36h1.25v1.25h-1.25zM46 44h1.25v1.25h-1.25zM104 44h1.25v1.25h-1.25zM106 44h1.25v1.25h-1.25zM53 46h1.25v1.25h-1.25zM106 46h1.25v1.25h-1.25zM106 48h1.25v1.25h-1.25zM106 50h1.25v1.25h-1.25zM53 51h1.25v1.25h-1.25zM103 52h1.25v1.25h-1.25zM91 53h1.25v1.25h-1.25zM67 60h1.25v1.25h-1.25zM71 60h1.25v1.25h-1.25z"/>
<path fill="#e7f6ea" d="M79 1h1.25v1.25h-1.25zM85 1h1.25v1.25h-1.25zM89 1h1.25v1.25h-1.25zM92 1h1.25v1.25h-1.25zM89 2h1.25v1.25h-1.25zM35 3h1.25v1.25h-1.25zM58 3h1.25v1.25h-1.25zM71 3h1.25v1.25h-1.25zM82 3h1.25v1.25h-1.25zM85 3h1.25v1.25h-1.25zM33 4h2.25v1.25h-2.25zM71 4h1.25v1.25h-1.25zM91 4h1.25v1.25h-1.25zM38 5h1.25v1.25h-1.25zM89 5h1.25v1.25h-1.25zM79 6h1.25v1.25h-1.25zM39 11h1.25v1.25h-1.25zM61 11h1.25v1.25h-1.25zM63 11h1.25v1.25h-1.25zM40 12h1.25v1.25h-1.25zM60 12h2.25v1.25h-2.25zM66 12h1.25v1.25h-1.25zM55 14h1.25v1.25h-1.25zM60 14h1.25v1.25h-1.25zM48 17h2.25v1.25h-2.25zM65 17h1.25v1.25h-1.25zM44 18h1.25v1.25h-1.25zM103 18h1.25v1.25h-1.25zM45 19h1.25v1.25h-1.25zM103 19h1.25v1.25h-1.25zM46 20h1.25v1.25h-1.25zM75 22h2.25v1.25h-2.25zM106 24h1.25v1.25h-1.25zM101 39h1.25v1.25h-1.25zM101 42h1.25v1.25h-1.25zM72 45h1.25v1.25h-1.25zM68 46h1.25v1.25h-1.25zM71 46h1.25v1.25h-1.25zM92 46h1.25v1.25h-1.25zM94 46h1.25v1.25h-1.25zM69 48h1.25v1.25h-1.25zM85 48h2.25v1.25h-2.25zM97 48h1.25v1.25h-1.25zM74 49h1.25v1.25h-1.25zM84 49h1.25v1.25h-1.25zM100 50h1.25v1.25h-1.25zM67 52h1.25v1.25h-1.25zM71 52h1.25v1.25h-1.25zM79 52h1.25v1.25h-1.25zM107 54h1v1.25h-1zM79 68h1.25v1.25h-1.25zM82 68h1.25v1.25h-1.25zM100 68h1.25v1.25h-1.25zM106 72h1.25v1.25h-1.25zM91 73h1.25v1.25h-1.25zM94 74h2.25v1.25h-2.25zM97 74h1.25v1.25h-1.25zM85 75h1.25v1.25h-1.25zM96 79h1.25v1.25h-1.25zM91 83h1.25v1.25h-1.25zM99 83h1.25v1.25h-1.25zM105 83h1.25v1.25h-1.25zM99 85h1.25v1.25h-1.25zM99 87h1.25v1.25h-1.25zM105 87h1.25v1.25h-1.25zM102 88h1.25v1.25h-1.25zM101 89h1.25v1.25h-1.25zM106 89h1.25v1.25h-1.25zM93 91h1.25v1.25h-1.25zM97 91h1.25v1.25h-1.25zM105 91h1.25v1.25h-1.25zM105 92h1.25v1.25h-1.25zM99 96h1.25v1.25h-1.25zM105 96h1.25v1.25h-1.25zM106 98h1.25v1.25h-1.25z"/>
<path fill="#e4f3f0" d="M95 1h1.25v1.25h-1.25zM93 2h1.25v1.25h-1.25zM79 8h1.25v1.25h-1.25zM56 14h1.25v1.25h-1.25zM62 14h2.25v1.25h-2.25zM90 18h1.25v1.25h-1.25zM50 19h1.25v1.25h-1.25zM102 19h1.25v1.25h-1.25zM99 44h1.25v1.25h-1.25zM95 45h1.25v1.25h-1.25zM97 45h1.25v1.25h-1.25zM59 49h1.25v1.25h-1.25zM96 66h1.25v1.25h-1.25zM81 76h1.25v1.25h-1.25zM100 91h1.25v1.25h-1.25z"/>
<path fill="#f67548" d="M105 1h1.25v1.25h-1.25zM13 6h1.25v1.25h-1.25zM20 8h1.25v1.25h-1.25zM38 24h1.25v1.25h-1.25zM40 25h1.25v1.25h-1.25zM39 37h1.25v1.25h-1.25zM103 45h1.25v1.25h-1.25zM77 61h1.25v1.25h-1.25z"/>
<path fill="#d53027" d="M3 2h1.25v1.25h-1.25zM22 19h1.25v1.25h-1.25z"/>
<path fill="#d8332a" d="M4 2h1.25v1.25h-1.25zM14 10h1.25v1.25h-1.25zM29 25h2.25v1.25h-2.25zM32 26h1.25v1.25h-1.25zM59 56h1.25v1.25h-1.25z"/>
<path fill="#de4230" d="M5 2h1.25v1.25h-1.25zM14 9h1.25v1.25h-1.25zM15 12h1.25v1.25h-1.25zM22 18h1.25v1.25h-1.25z"/>
<path fill="#e75439" d="M6 2h1.25v1.25h-1.25zM42 26h1.25v1.25h-1.25zM65 53h1.25v1.25h-1.25zM65 58h1.25v1.25h-1.25z"/>
<path fill="#f98a51" d="M8 2h1.25v1.25h-1.25zM104 3h1.25v1.25h-1.25zM106 3h1.25v1.25h-1.25zM15 6h1.25v1.25h-1.25zM17 7h2.25v1.25h-2.25zM24 19h1.25v1.25h-1.25zM30 22h2.25v1.25h-2.25zM54 46h1.25v1.25h-1.25zM55 48h1.25v1.25h-1.25zM55 49h1.25v1.25h-1.25zM104 49h1.25v1.25h-1.25zM102 52h1.25v1.25h-1.25zM57 56h1.25v1.25h-1.25zM73 60h1.25v1.25h-1.25zM64 62h1.25v1.25h-1.25zM67 65h1.25v1.25h-1.25zM81 80h1.25v1.25h-1.25z"/>
<path fill="#f98d51" d="M9 2h1.25v1.25h-1.25zM75 2h1.25v1.25h-1.25zM9 3h1.25v1.25h-1.25zM12 4h1.25v1.25h-1.25zM105 4h2.25v1.25h-2.25zM14 5h1.25v1.25h-1.25zM19 7h1.25v1.25h-1.25zM22 9h1.25v1.25h-1.25zM22 11h1.25v1.25h-1.25zM25 20h1.25v1.25h-1.25zM45 44h1.25v1.25h-1.25zM102 46h1.25v1.25h-1.25zM50 47h1.25v1.25h-1.25zM101 48h1.25v1.25h-1.25zM75 49h1.25v1.25h-1.25zM81 53h1.25v1.25h-1.25zM83 53h1.25v1.25h-1.25zM74 57h1.25v1.25h-1.25zM63 58h1.25v1.25h-1.25zM70 58h1.25v1.25h-1.25zM69 62h1.25v1.25h-1.25zM77 64h1.25v1.25h-1.25zM87 77h1.25v1.25h-1.25zM101 90h1.25v1.25h-1.25zM103 102h1.25v1.25h-1.25z"/>
<path fill="#f99957" d="M11 2h1.25v1.25h-1.25zM23 10h1.25v1.25h-1.25zM24 17h1.25v1.25h-1.25zM24 18h1.25v1.25h-1.25zM39 30h1.25v1.25h-1.25zM104 46h1.25v1.25h-1.25zM104 48h1.25v1.25h-1.25zM103 49h1.25v1.25h-1.25zM106 49h1.25v1.25h-1.25zM67 53h1.25v1.25h-1.25zM70 53h1.25v1.25h-1.25zM63 56h1.25v1.25h-1.25zM64 63h1.25v1.25h-1.25zM69 65h1.25v1.25h-1.25zM73 67h1.25v1.25h-1.25zM75 74h1.25v1.25h-1.25zM96 85h1.25v1.25h-1.25zM88 87h1.25v1.25h-1.25zM106 103h1.25v1.25h-1.25z"/>
<path fill="#fcc372" d="M15 2h1.25v1.25h-1.25zM76 6h1.25v1.25h-1.25zM68 61h1.25v1.25h-1.25zM74 62h1.25v1.25h-1.25z"/>
<path fill="#ffd281" d="M16 2h1.25v1.25h-1.25zM18 2h1.25v1.25h-1.25zM20 4h1.25v1.25h-1.25zM21 5h1.25v1.25h-1.25zM25 6h1.25v1.25h-1.25zM25 12h1.25v1.25h-1.25zM30 16h1.25v1.25h-1.25zM39 22h1.25v1.25h-1.25zM56 47h1.25v1.25h-1.25zM78 52h1.25v1.25h-1.25zM99 59h1.25v1.25h-1.25zM90 64h1.25v1.25h-1.25zM90 84h1.25v1.25h-1.25zM95 90h1.25v1.25h-1.25z"/>
<path fill="#ffd284" d="M17 2h1.25v1.25h-1.25zM51 2h1.25v1.25h-1.25zM75 7h1.25v1.25h-1.25zM25 11h1.25v1.25h-1.25zM26 13h1.25v1.25h-1.25zM29 15h3.25v1.25h-3.25zM31 16h1.25v1.25h-1.25zM51 44h1.25v1.25h-1.25zM74 45h1.25v1.25h-1.25zM51 49h1.25v1.25h-1.25zM77 54h1.25v1.25h-1.25zM76 55h1.25v1.25h-1.25zM102 56h1.25v1.25h-1.25zM84 59h1.25v1.25h-1.25zM96 60h1.25v1.25h-1.25zM81 62h1.25v1.25h-1.25zM89 87h1.25v1.25h-1.25zM107 106h1v1.25h-1z"/>
<path fill="#ffe496" d="M20 2h1.25v1.25h-1.25zM52 3h1.25v1.25h-1.25zM23 4h1.25v1.25h-1.25zM24 5h1.25v1.25h-1.25zM47 5h1.25v1.25h-1.25zM52 5h1.25v1.25h-1.25zM28 7h1.25v1.25h-1.25zM104 11h1.25v1.25h-1.25zM105 12h1.25v1.25h-1.25zM29 14h1.25v1.25h-1.25zM35 15h1.25v1.25h-1.25zM37 15h1.25v1.25h-1.25zM35 19h1.25v1.25h-1.25zM59 50h1.25v1.25h-1.25zM75 54h1.25v1.25h-1.25zM59 55h1.25v1.25h-1.25zM73 55h1.25v1.25h-1.25zM95 61h1.25v1.25h-1.25zM97 65h1.25v1.25h-1.25zM70 67h1.25v1.25h-1.25zM87 86h1.25v1.25h-1.25z"/>
<path fill="#ffeda5" d="M21 2h1.25v1.25h-1.25zM23 2h1.25v1.25h-1.25zM54 4h1.25v1.25h-1.25zM53 5h1.25v1.25h-1.25zM29 7h1.25v1.25h-1.25zM90 7h1.25v1.25h-1.25zM102 7h1.25v1.25h-1.25zM28 8h1.25v1.25h-1.25zM76 10h1.25v1.25h-1.25zM101 13h1.25v1.25h-1.25zM104 13h2.25v1.25h-2.25zM42 15h2.25v1.25h-2.25zM42 16h1.25v1.25h-1.25zM35 17h1.25v1.25h-1.25zM37 17h1.25v1.25h-1.25zM37 18h1.25v1.25h-1.25zM42 19h1.25v1.25h-1.25zM82 50h1.25v1.25h-1.25zM107 50h1v1.25h-1zM82 54h1.25v1.25h-1.25zM78 56h1.25v1.25h-1.25zM99 56h1.25v1.25h-1.25zM75 70h1.25v1.25h-1.25zM83 70h1.25v1.25h-1.25zM92 91h1.25v1.25h-1.25z"/>
<path fill="#f0f9de" d="M28 2h1.25v1.25h-1.25zM60 9h1.25v1.25h-1.25zM41 12h1.25v1.25h-1.25zM48 14h1.25v1.25h-1.25zM50 14h1.25v1.25h-1.25zM90 52h1.25v1.25h-1.25zM86 55h1.25v1.25h-1.25zM88 55h1.25v1.25h-1.25zM103 59h1.25v1.25h-1.25zM88 78h1.25v1.25h-1.25zM99 82h1.25v1.25h-1.25zM85 84h1.25v1.25h-1.25z"/>
<path fill="#e4f6ed" d="M42 2h1.25v1.25h-1.25zM45 18h1.25v1.25h-1.25zM49 19h1.25v1.25h-1.25zM76 23h1.25v1.25h-1.25zM74 44h1.25v1.25h-1.25zM83 44h1.25v1.25h-1.25zM88 45h1.25v1.25h-1.25zM81 46h1.25v1.25h-1.25zM95 52h1.25v1.25h-1.25zM97 72h1.25v1.25h-1.25zM85 73h1.25v1.25h-1.25zM82 76h1.25v1.25h-1.25zM106 79h1.25v1.25h-1.25zM100 82h1.25v1.25h-1.25zM99 92h1.25v1.25h-1.25zM103 99h1.25v1.25h-1.25z"/>
<path fill="#fcb166" d="M47 2h1.25v1.25h-1.25zM20 6h1.25v1.25h-1.25zM101 76h1.25v1.25h-1.25z"/>
<path fill="#ffcc7e" d="M50 2h1.25v1.25h-1.25zM54 2h1.25v1.25h-1.25zM16 3h2.25v1.25h-2.25zM46 5h1.25v1.25h-1.25zM27 7h1.25v1.25h-1.25zM106 8h1.25v1.25h-1.25zM26 9h1.25v1.25h-1.25zM106 9h1.25v1.25h-1.25zM26 10h1.25v1.25h-1.25zM29 19h3.25v1.25h-3.25zM50 44h1.25v1.25h-1.25zM52 49h1.25v1.25h-1.25zM63 49h1.25v1.25h-1.25zM85 53h1.25v1.25h-1.25zM93 53h2.25v1.25h-2.25zM103 53h1.25v1.25h-1.25zM101 56h1.25v1.25h-1.25zM70 59h2.25v1.25h-2.25zM90 59h1.25v1.25h-1.25zM84 60h1.25v1.25h-1.25zM97 62h1.25v1.25h-1.25zM72 70h1.25v1.25h-1.25zM92 86h1.25v1.25h-1.25z"/>
<path fill="#fcc675" d="M52 2h1.25v1.25h-1.25zM33 21h1.25v1.25h-1.25zM55 51h1.25v1.25h-1.25zM71 65h1.25v1.25h-1.25zM94 92h1.25v1.25h-1.25z"/>
<path fill="#ffd587" d="M53 2h1.25v1.25h-1.25zM26 6h1.25v1.25h-1.25zM76 8h1.25v1.25h-1.25zM28 14h1.25v1.25h-1.25zM29 18h1.25v1.25h-1.25zM99 53h1.25v1.25h-1.25zM91 55h1.25v1.25h-1.25zM81 59h1.25v1.25h-1.25zM66 61h1.25v1.25h-1.25zM89 61h1.25v1.25h-1.25zM92 63h1.25v1.25h-1.25zM94 65h1.25v1.25h-1.25zM96 84h1.25v1.25h-1.25zM93 85h1.25v1.25h-1.25zM90 88h1.25v1.25h-1.25zM96 92h1.25v1.25h-1.25z"/>
<path fill="#fcffc6" d="M56 2h1.25v1.25h-1.25zM59 2h1.25v1.25h-1.25zM62 3h2.25v1.25h-2.25zM57 4h1.25v1.25h-1.25zM61 4h1.25v1.25h-1.25zM28 5h1.25v1.25h-1.25zM59 5h1.25v1.25h-1.25zM64 5h1.25v1.25h-1.25zM33 6h1.25v1.25h-1.25zM60 6h1.25v1.25h-1.25zM64 6h1.25v1.25h-1.25zM64 7h1.25v1.25h-1.25zM34 8h1.25v1.25h-1.25zM34 9h1.25v1.25h-1.25zM34 10h1.25v1.25h-1.25zM36 11h1.25v1.25h-1.25zM44 12h1.25v1.25h-1.25zM50 12h1.25v1.25h-1.25zM37 13h1.25v1.25h-1.25zM105 17h1.25v1.25h-1.25zM105 19h1.25v1.25h-1.25zM62 47h1.25v1.25h-1.25zM99 52h1.25v1.25h-1.25zM99 54h1.25v1.25h-1.25zM62 55h1.25v1.25h-1.25zM88 62h1.25v1.25h-1.25zM88 63h1.25v1.25h-1.25zM106 64h1.25v1.25h-1.25zM71 66h1.25v1.25h-1.25zM77 66h1.25v1.25h-1.25zM89 67h1.25v1.25h-1.25zM99 71h1.25v1.25h-1.25zM81 72h1.25v1.25h-1.25zM88 72h1.25v1.25h-1.25zM99 72h1.25v1.25h-1.25z"/>
<path fill="#ffffbd" d="M64 2h1.25v1.25h-1.25zM66 2h1.25v1.25h-1.25zM60 3h1.25v1.25h-1.25zM56 4h1.25v1.25h-1.25zM36 6h1.25v1.25h-1.25zM50 7h1.25v1.25h-1.25zM54 9h1.25v1.25h-1.25zM65 9h1.25v1.25h-1.25zM35 10h1.25v1.25h-1.25zM75 13h1.25v1.25h-1.25zM104 16h2.25v1.25h-2.25zM101 18h1.25v1.25h-1.25zM58 45h1.25v1.25h-1.25zM58 46h1.25v1.25h-1.25zM68 48h1.25v1.25h-1.25zM59 51h1.25v1.25h-1.25zM70 54h1.25v1.25h-1.25zM57 55h1.25v1.25h-1.25zM81 55h1.25v1.25h-1.25zM100 56h1.25v1.25h-1.25zM93 63h1.25v1.25h-1.25zM69 66h1.25v1.25h-1.25zM90 87h1.25v1.25h-1.25z"/>
<path fill="#bae1ed" d="M86 2h1.25v1.25h-1.25zM70 3h1.25v1.25h-1.25zM86 3h1.25v1.25h-1.25zM86 5h1.25v1.25h-1.25zM69 7h1.25v1.25h-1.25zM88 7h1.25v1.25h-1.25zM88 9h1.25v1.25h-1.25zM69 10h1.25v1.25h-1.25zM74 10h1.25v1.25h-1.25zM88 10h1.25v1.25h-1.25zM96 10h1.25v1.25h-1.25zM81 11h1.25v1.25h-1.25zM80 12h1.25v1.25h-1.25zM87 12h1.25v1.25h-1.25zM100 12h1.25v1.25h-1.25zM74 13h1.25v1.25h-1.25zM92 13h1.25v1.25h-1.25zM107 13h1v1.25h-1zM83 14h1.25v1.25h-1.25zM85 14h1.25v1.25h-1.25zM94 14h1.25v1.25h-1.25zM71 15h1.25v1.25h-1.25zM89 15h1.25v1.25h-1.25zM91 15h1.25v1.25h-1.25zM82 16h1.25v1.25h-1.25zM58 17h1.25v1.25h-1.25zM56 23h1.25v1.25h-1.25zM62 23h1.25v1.25h-1.25zM66 23h1.25v1.25h-1.25zM57 24h1.25v1.25h-1.25zM66 24h1.25v1.25h-1.25zM90 24h1.25v1.25h-1.25zM103 25h1.25v1.25h-1.25zM47 26h1.25v1.25h-1.25zM49 26h1.25v1.25h-1.25zM54 26h1.25v1.25h-1.25zM45 27h2.25v1.25h-2.25zM50 27h2.25v1.25h-2.25zM53 27h1.25v1.25h-1.25zM47 28h1.25v1.25h-1.25zM105 30h1.25v1.25h-1.25zM104 31h1.25v1.25h-1.25zM104 33h1.25v1.25h-1.25zM106 33h1.25v1.25h-1.25zM84 47h1.25v1.25h-1.25zM93 49h1.25v1.25h-1.25zM89 66h1.25v1.25h-1.25zM89 70h1.25v1.25h-1.25zM93 70h1.25v1.25h-1.25zM107 72h1v1.25h-1zM97 73h1.25v1.25h-1.25zM94 75h1.25v1.25h-1.25zM97 75h1.25v1.25h-1.25zM94 77h1.25v1.25h-1.25zM86 82h1.25v1.25h-1.25zM89 82h1.25v1.25h-1.25zM97 86h1.25v1.25h-1.25zM107 86h1v1.25h-1z"/>
<path fill="#f36f45" d="M105 2h1.25v1.25h-1.25zM20 9h1.25v1.25h-1.25zM21 13h1.25v1.25h-1.25zM40 26h1.25v1.25h-1.25zM74 53h2.25v1.25h-2.25zM62 57h1.25v1.25h-1.25zM89 86h1.25v1.25h-1.25z"/>
<path fill="#c92127" d="M4 3h1.25v1.25h-1.25zM10 9h1.25v1.25h-1.25zM21 20h1.25v1.25h-1.25zM30 27h2.25v1.25h-2.25zM32 28h1.25v1.25h-1.25zM36 30h1.25v1.25h-1.25zM42 32h1.25v1.25h-1.25zM40 35h1.25v1.25h-1.25zM42 40h1.25v1.25h-1.25zM43 41h1.25v1.25h-1.25z"/>
<path fill="#db392a" d="M5 3h1.25v1.25h-1.25zM18 13h1.25v1.25h-1.25zM31 24h1.25v1.25h-1.25zM32 25h1.25v1.25h-1.25zM41 31h1.25v1.25h-1.25zM61 59h1.25v1.25h-1.25z"/>
<path fill="#ffcc7b" d="M18 3h1.25v1.25h-1.25zM22 6h1.25v1.25h-1.25zM43 21h1.25v1.25h-1.25zM61 48h1.25v1.25h-1.25zM69 56h1.25v1.25h-1.25zM92 59h1.25v1.25h-1.25zM92 79h1.25v1.25h-1.25z"/>
<path fill="#ffcf81" d="M19 3h1.25v1.25h-1.25zM47 4h1.25v1.25h-1.25zM24 6h1.25v1.25h-1.25zM106 10h1.25v1.25h-1.25zM29 16h1.25v1.25h-1.25zM36 20h1.25v1.25h-1.25zM42 21h1.25v1.25h-1.25zM40 22h1.25v1.25h-1.25zM56 44h1.25v1.25h-1.25zM82 46h1.25v1.25h-1.25zM96 57h1.25v1.25h-1.25zM70 61h1.25v1.25h-1.25zM66 62h1.25v1.25h-1.25zM73 63h1.25v1.25h-1.25zM79 65h1.25v1.25h-1.25zM105 65h1.25v1.25h-1.25zM87 70h1.25v1.25h-1.25zM82 77h1.25v1.25h-1.25zM94 79h1.25v1.25h-1.25zM95 84h1.25v1.25h-1.25zM103 90h1.25v1.25h-1.25z"/>
<path fill="#ffeaa2" d="M21 3h1.25v1.25h-1.25zM46 9h1.25v1.25h-1.25zM36 14h1.25v1.25h-1.25zM34 15h1.25v1.25h-1.25zM34 16h1.25v1.25h-1.25zM100 59h1.25v1.25h-1.25z"/>
<path fill="#ffeda2" d="M23 3h1.25v1.25h-1.25zM22 4h1.25v1.25h-1.25zM26 5h1.25v1.25h-1.25zM51 5h1.25v1.25h-1.25zM30 7h1.25v1.25h-1.25zM32 7h1.25v1.25h-1.25zM28 9h1.25v1.25h-1.25zM76 9h1.25v1.25h-1.25zM75 10h1.25v1.25h-1.25zM43 16h1.25v1.25h-1.25zM35 18h1.25v1.25h-1.25zM59 45h1.25v1.25h-1.25zM77 52h1.25v1.25h-1.25zM56 54h1.25v1.25h-1.25zM87 56h1.25v1.25h-1.25zM85 59h1.25v1.25h-1.25zM96 63h1.25v1.25h-1.25zM82 70h1.25v1.25h-1.25zM91 72h1.25v1.25h-1.25z"/>
<path fill="#f99c5a" d="M44 3h1.25v1.25h-1.25zM53 44h1.25v1.25h-1.25zM73 61h1.25v1.25h-1.25z"/>
<path fill="#fcb76c" d="M49 3h1.25v1.25h-1.25zM67 59h1.25v1.25h-1.25z"/>
<path fill="#ffdb8d" d="M50 3h1.25v1.25h-1.25zM46 7h1.25v1.25h-1.25zM34 20h1.25v1.25h-1.25zM62 46h1.25v1.25h-1.25zM68 56h1.25v1.25h-1.25zM83 56h1.25v1.25h-1.25zM79 60h1.25v1.25h-1.25zM94 61h1.25v1.25h-1.25zM86 65h1.25v1.25h-1.25z"/>
<path fill="#ffdb8a" d="M51 3h1.25v1.25h-1.25zM102 4h1.25v1.25h-1.25zM45 6h1.25v1.25h-1.25zM104 10h1.25v1.25h-1.25zM106 11h1.25v1.25h-1.25zM31 17h1.25v1.25h-1.25zM43 20h1.25v1.25h-1.25zM38 21h1.25v1.25h-1.25zM41 21h1.25v1.25h-1.25zM74 55h2.25v1.25h-2.25zM87 59h1.25v1.25h-1.25zM90 60h1.25v1.25h-1.25zM72 62h1.25v1.25h-1.25zM78 63h1.25v1.25h-1.25zM80 63h1.25v1.25h-1.25zM84 63h1.25v1.25h-1.25zM80 65h1.25v1.25h-1.25zM73 68h1.25v1.25h-1.25zM93 92h1.25v1.25h-1.25z"/>
<path fill="#ffd88a" d="M53 3h1.25v1.25h-1.25zM44 6h1.25v1.25h-1.25zM101 8h1.25v1.25h-1.25zM101 10h1.25v1.25h-1.25zM26 11h1.25v1.25h-1.25zM27 13h1.25v1.25h-1.25zM32 15h1.25v1.25h-1.25zM30 17h1.25v1.25h-1.25zM31 18h1.25v1.25h-1.25zM62 48h1.25v1.25h-1.25zM98 53h1.25v1.25h-1.25zM62 54h1.25v1.25h-1.25zM101 55h1.25v1.25h-1.25zM106 55h1.25v1.25h-1.25zM90 56h1.25v1.25h-1.25zM89 63h1.25v1.25h-1.25zM78 64h1.25v1.25h-1.25zM89 85h1.25v1.25h-1.25zM95 86h1.25v1.25h-1.25zM99 90h1.25v1.25h-1.25zM97 95h1.25v1.25h-1.25z"/>
<path fill="#f99c57" d="M75 3h1.25v1.25h-1.25zM18 6h1.25v1.25h-1.25zM39 29h1.25v1.25h-1.25zM93 59h1.25v1.25h-1.25zM69 64h1.25v1.25h-1.25zM73 64h1.25v1.25h-1.25zM91 64h1.25v1.25h-1.25zM70 69h1.25v1.25h-1.25z"/>
<path fill="#ffcf7e" d="M102 3h1.25v1.25h-1.25zM65 5h1.25v1.25h-1.25zM46 6h1.25v1.25h-1.25zM26 8h1.25v1.25h-1.25zM101 9h1.25v1.25h-1.25zM25 13h1.25v1.25h-1.25zM47 44h1.25v1.25h-1.25zM55 44h1.25v1.25h-1.25zM61 46h1.25v1.25h-1.25zM105 55h1.25v1.25h-1.25zM79 57h1.25v1.25h-1.25zM79 59h1.25v1.25h-1.25zM92 62h1.25v1.25h-1.25zM94 85h1.25v1.25h-1.25zM92 90h1.25v1.25h-1.25z"/>
<path fill="#fcc678" d="M103 3h1.25v1.25h-1.25zM25 10h1.25v1.25h-1.25zM28 18h1.25v1.25h-1.25zM37 21h1.25v1.25h-1.25zM53 49h1.25v1.25h-1.25zM86 53h1.25v1.25h-1.25zM68 57h1.25v1.25h-1.25zM94 58h1.25v1.25h-1.25zM100 58h1.25v1.25h-1.25zM82 59h1.25v1.25h-1.25zM89 60h1.25v1.25h-1.25zM90 61h1.25v1.25h-1.25zM67 62h1.25v1.25h-1.25zM99 64h1.25v1.25h-1.25zM91 65h1.25v1.25h-1.25zM71 70h1.25v1.25h-1.25zM74 70h1.25v1.25h-1.25zM72 71h1.25v1.25h-1.25zM74 73h1.25v1.25h-1.25zM81 74h1.25v1.25h-1.25zM85 81h1.25v1.25h-1.25zM96 86h1.25v1.25h-1.25zM105 103h1.25v1.25h-1.25z"/>
<path fill="#f99654" d="M105 3h1.25v1.25h-1.25zM32 22h1.25v1.25h-1.25zM92 58h1.25v1.25h-1.25zM74 59h1.25v1.25h-1.25zM84 83h1.25v1.25h-1.25z"/>
<path fill="#c62127" d="M5 4h1.25v1.25h-1.25zM16 14h1.25v1.25h-1.25zM20 16h1.25v1.25h-1.25zM22 20h1.25v1.25h-1.25zM33 31h1.25v1.25h-1.25zM37 31h1.25v1.25h-1.25zM63 60h1.25v1.25h-1.25z"/>
<path fill="#ea5739" d="M7 4h1.25v1.25h-1.25zM8 5h1.25v1.25h-1.25zM15 9h1.25v1.25h-1.25zM17 9h1.25v1.25h-1.25zM19 9h1.25v1.25h-1.25zM19 11h1.25v1.25h-1.25zM24 22h1.25v1.25h-1.25zM31 23h1.25v1.25h-1.25zM35 24h1.25v1.25h-1.25zM43 25h1.25v1.25h-1.25zM49 46h1.25v1.25h-1.25zM50 48h1.25v1.25h-1.25zM51 50h1.25v1.25h-1.25zM62 53h1.25v1.25h-1.25zM62 60h1.25v1.25h-1.25zM81 78h1.25v1.25h-1.25z"/>
<path fill="#fcae63" d="M15 4h1.25v1.25h-1.25zM26 18h1.25v1.25h-1.25zM32 21h1.25v1.25h-1.25zM106 53h1.25v1.25h-1.25zM68 62h1.25v1.25h-1.25zM105 76h1.25v1.25h-1.25z"/>
<path fill="#fcbd72" d="M19 4h1.25v1.25h-1.25z"/>
<path fill="#ffe190" d="M21 4h1.25v1.25h-1.25zM103 4h1.25v1.25h-1.25zM44 7h1.25v1.25h-1.25zM27 11h1.25v1.25h-1.25zM36 16h1.25v1.25h-1.25zM32 18h1.25v1.25h-1.25zM64 48h1.25v1.25h-1.25zM102 53h1.25v1.25h-1.25zM64 54h1.25v1.25h-1.25zM69 55h1.25v1.25h-1.25zM96 59h1.25v1.25h-1.25zM83 62h1.25v1.25h-1.25zM67 63h1.25v1.25h-1.25zM92 65h1.25v1.25h-1.25zM80 67h1.25v1.25h-1.25zM73 71h1.25v1.25h-1.25z"/>
<path fill="#fff3ab" d="M24 4h1.25v1.25h-1.25zM50 5h1.25v1.25h-1.25zM49 8h1.25v1.25h-1.25zM31 10h1.25v1.25h-1.25zM35 14h1.25v1.25h-1.25zM37 14h1.25v1.25h-1.25zM105 15h1.25v1.25h-1.25zM34 18h1.25v1.25h-1.25zM60 45h1.25v1.25h-1.25zM87 45h1.25v1.25h-1.25zM107 45h1v1.25h-1zM61 47h1.25v1.25h-1.25zM88 53h1.25v1.25h-1.25zM88 57h1.25v1.25h-1.25zM96 62h1.25v1.25h-1.25zM89 65h1.25v1.25h-1.25zM93 65h1.25v1.25h-1.25zM73 66h1.25v1.25h-1.25zM85 70h1.25v1.25h-1.25zM75 72h1.25v1.25h-1.25zM80 77h1.25v1.25h-1.25zM89 79h1.25v1.25h-1.25z"/>
<path fill="#f3fcd2" d="M28 4h1.25v1.25h-1.25zM36 5h1.25v1.25h-1.25zM38 6h1.25v1.25h-1.25zM57 8h1.25v1.25h-1.25zM102 14h1.25v1.25h-1.25zM105 21h1.25v1.25h-1.25zM59 47h1.25v1.25h-1.25zM73 48h1.25v1.25h-1.25zM87 48h1.25v1.25h-1.25zM73 52h1.25v1.25h-1.25zM93 55h1.25v1.25h-1.25zM101 58h2.25v1.25h-2.25zM91 67h1.25v1.25h-1.25zM71 68h1.25v1.25h-1.25zM91 70h1.25v1.25h-1.25zM101 73h1.25v1.25h-1.25zM86 77h1.25v1.25h-1.25zM104 77h1.25v1.25h-1.25zM105 86h1.25v1.25h-1.25zM103 87h1.25v1.25h-1.25zM99 91h1.25v1.25h-1.25z"/>
<path fill="#ffc97b" d="M49 4h1.25v1.25h-1.25zM65 4h1.25v1.25h-1.25zM45 5h1.25v1.25h-1.25zM76 7h1.25v1.25h-1.25zM25 8h1.25v1.25h-1.25zM105 10h1.25v1.25h-1.25zM34 21h1.25v1.25h-1.25zM57 47h1.25v1.25h-1.25zM76 47h1.25v1.25h-1.25zM66 53h1.25v1.25h-1.25zM96 53h1.25v1.25h-1.25zM104 53h1.25v1.25h-1.25zM77 55h1.25v1.25h-1.25zM58 56h1.25v1.25h-1.25zM70 57h1.25v1.25h-1.25zM68 59h1.25v1.25h-1.25zM87 60h1.25v1.25h-1.25zM82 62h1.25v1.25h-1.25zM87 64h1.25v1.25h-1.25zM89 64h1.25v1.25h-1.25zM93 64h1.25v1.25h-1.25zM83 65h1.25v1.25h-1.25zM88 65h1.25v1.25h-1.25zM72 67h1.25v1.25h-1.25zM75 71h1.25v1.25h-1.25z"/>
<path fill="#ffea9f" d="M51 4h1.25v1.25h-1.25zM90 6h1.25v1.25h-1.25zM31 7h1.25v1.25h-1.25zM47 7h1.25v1.25h-1.25zM101 12h1.25v1.25h-1.25zM28 13h1.25v1.25h-1.25zM34 19h1.25v1.25h-1.25zM43 19h1.25v1.25h-1.25zM38 20h1.25v1.25h-1.25zM59 46h1.25v1.25h-1.25zM63 46h1.25v1.25h-1.25zM57 50h1.25v1.25h-1.25zM58 54h1.25v1.25h-1.25zM82 55h1.25v1.25h-1.25zM66 59h1.25v1.25h-1.25zM99 61h1.25v1.25h-1.25zM79 63h1.25v1.25h-1.25zM90 63h1.25v1.25h-1.25zM95 64h1.25v1.25h-1.25zM98 64h1.25v1.25h-1.25zM79 67h1.25v1.25h-1.25zM77 76h1.25v1.25h-1.25zM100 90h1.25v1.25h-1.25z"/>
<path fill="#ffe493" d="M52 4h1.25v1.25h-1.25zM48 5h1.25v1.25h-1.25zM30 14h1.25v1.25h-1.25zM88 61h1.25v1.25h-1.25zM72 63h1.25v1.25h-1.25zM82 67h1.25v1.25h-1.25z"/>
<path fill="#f6fccc" d="M63 4h1.25v1.25h-1.25zM31 5h1.25v1.25h-1.25zM43 6h1.25v1.25h-1.25zM39 7h1.25v1.25h-1.25zM35 12h1.25v1.25h-1.25zM37 12h1.25v1.25h-1.25zM34 13h1.25v1.25h-1.25zM106 19h1.25v1.25h-1.25zM96 46h1.25v1.25h-1.25zM107 51h1v1.25h-1zM83 74h1.25v1.25h-1.25zM91 74h1.25v1.25h-1.25zM96 78h1.25v1.25h-1.25zM87 79h1.25v1.25h-1.25z"/>
<path fill="#f6fcd2" d="M66 4h1.25v1.25h-1.25zM56 5h1.25v1.25h-1.25zM60 5h1.25v1.25h-1.25zM56 6h2.25v1.25h-2.25zM61 6h1.25v1.25h-1.25zM61 7h1.25v1.25h-1.25zM38 8h1.25v1.25h-1.25zM60 8h1.25v1.25h-1.25zM34 11h1.25v1.25h-1.25zM102 11h1.25v1.25h-1.25zM34 12h1.25v1.25h-1.25zM51 12h2.25v1.25h-2.25zM49 13h1.25v1.25h-1.25zM45 14h1.25v1.25h-1.25zM101 22h1.25v1.25h-1.25zM63 47h1.25v1.25h-1.25zM86 49h1.25v1.25h-1.25zM83 50h1.25v1.25h-1.25zM81 52h1.25v1.25h-1.25zM84 55h1.25v1.25h-1.25zM100 62h2.25v1.25h-2.25zM82 74h1.25v1.25h-1.25zM78 75h1.25v1.25h-1.25zM84 77h1.25v1.25h-1.25zM99 78h1.25v1.25h-1.25zM96 91h1.25v1.25h-1.25z"/>
<path fill="#aedbea" d="M70 4h1.25v1.25h-1.25zM97 7h1.25v1.25h-1.25zM69 9h1.25v1.25h-1.25zM88 11h1.25v1.25h-1.25zM69 12h1.25v1.25h-1.25zM81 13h1.25v1.25h-1.25zM77 14h1.25v1.25h-1.25zM81 14h1.25v1.25h-1.25zM87 14h1.25v1.25h-1.25zM107 14h1v1.25h-1zM67 15h1.25v1.25h-1.25zM77 15h2.25v1.25h-2.25zM80 15h1.25v1.25h-1.25zM100 15h1.25v1.25h-1.25zM89 16h1.25v1.25h-1.25zM71 17h1.25v1.25h-1.25zM79 17h1.25v1.25h-1.25zM68 18h1.25v1.25h-1.25zM91 18h1.25v1.25h-1.25zM99 18h1.25v1.25h-1.25zM82 19h1.25v1.25h-1.25zM68 20h1.25v1.25h-1.25zM72 20h1.25v1.25h-1.25zM89 20h1.25v1.25h-1.25zM71 21h1.25v1.25h-1.25zM63 23h1.25v1.25h-1.25zM56 24h1.25v1.25h-1.25zM63 24h1.25v1.25h-1.25zM60 25h1.25v1.25h-1.25zM62 25h1.25v1.25h-1.25zM64 25h1.25v1.25h-1.25zM52 26h1.25v1.25h-1.25zM49 28h1.25v1.25h-1.25zM52 29h1.25v1.25h-1.25zM51 30h1.25v1.25h-1.25zM49 31h1.25v1.25h-1.25zM75 31h1.25v1.25h-1.25zM104 32h2.25v1.25h-2.25zM46 33h1.25v1.25h-1.25zM76 34h1.25v1.25h-1.25zM47 35h1.25v1.25h-1.25zM75 35h2.25v1.25h-2.25zM106 36h1.25v1.25h-1.25zM46 41h1.25v1.25h-1.25zM50 41h1.25v1.25h-1.25zM52 41h1.25v1.25h-1.25zM54 41h1.25v1.25h-1.25zM66 47h1.25v1.25h-1.25zM70 47h1.25v1.25h-1.25zM78 47h1.25v1.25h-1.25zM93 47h1.25v1.25h-1.25zM107 74h1v1.25h-1zM93 76h1.25v1.25h-1.25zM93 77h1.25v1.25h-1.25zM86 81h1.25v1.25h-1.25z"/>
<path fill="#b1dbea" d="M86 4h1.25v1.25h-1.25zM96 9h1.25v1.25h-1.25zM88 12h1.25v1.25h-1.25zM87 13h1.25v1.25h-1.25zM98 13h1.25v1.25h-1.25zM95 14h1.25v1.25h-1.25zM87 15h1.25v1.25h-1.25zM95 15h1.25v1.25h-1.25zM98 15h1.25v1.25h-1.25zM73 16h1.25v1.25h-1.25zM99 16h1.25v1.25h-1.25zM85 17h1.25v1.25h-1.25zM71 18h1.25v1.25h-1.25zM85 18h1.25v1.25h-1.25zM89 18h1.25v1.25h-1.25zM60 24h1.25v1.25h-1.25zM56 25h1.25v1.25h-1.25zM66 25h1.25v1.25h-1.25zM46 26h1.25v1.25h-1.25zM50 28h1.25v1.25h-1.25zM46 29h1.25v1.25h-1.25zM44 30h1.25v1.25h-1.25zM45 31h1.25v1.25h-1.25zM106 31h1.25v1.25h-1.25zM75 33h1.25v1.25h-1.25zM105 34h2.25v1.25h-2.25zM106 35h1.25v1.25h-1.25zM76 36h1.25v1.25h-1.25zM104 37h1.25v1.25h-1.25zM47 41h1.25v1.25h-1.25zM53 41h1.25v1.25h-1.25zM93 44h1.25v1.25h-1.25zM107 59h1v1.25h-1zM93 73h1.25v1.25h-1.25zM90 75h1.25v1.25h-1.25zM93 89h1.25v1.25h-1.25zM107 89h1v1.25h-1z"/>
<path fill="#b4deed" d="M97 4h1.25v1.25h-1.25zM97 5h1.25v1.25h-1.25zM96 8h1.25v1.25h-1.25zM84 9h1.25v1.25h-1.25zM92 9h1.25v1.25h-1.25zM69 11h1.25v1.25h-1.25zM74 12h1.25v1.25h-1.25zM77 12h1.25v1.25h-1.25zM83 12h1.25v1.25h-1.25zM94 12h1.25v1.25h-1.25zM94 13h1.25v1.25h-1.25zM78 14h1.25v1.25h-1.25zM92 14h1.25v1.25h-1.25zM94 15h1.25v1.25h-1.25zM99 15h1.25v1.25h-1.25zM72 16h1.25v1.25h-1.25zM73 17h1.25v1.25h-1.25zM85 19h1.25v1.25h-1.25zM62 24h1.25v1.25h-1.25zM47 27h2.25v1.25h-2.25zM47 29h1.25v1.25h-1.25zM54 29h1.25v1.25h-1.25zM75 30h2.25v1.25h-2.25zM44 31h1.25v1.25h-1.25zM45 33h1.25v1.25h-1.25zM76 33h1.25v1.25h-1.25zM105 33h1.25v1.25h-1.25zM105 36h1.25v1.25h-1.25zM48 41h1.25v1.25h-1.25zM89 73h1.25v1.25h-1.25zM92 77h1.25v1.25h-1.25zM103 92h1.25v1.25h-1.25zM100 94h1.25v1.25h-1.25z"/>
<path fill="#cf2a27" d="M6 5h1.25v1.25h-1.25zM13 11h1.25v1.25h-1.25zM26 23h1.25v1.25h-1.25zM43 29h1.25v1.25h-1.25z"/>
<path fill="#e14530" d="M7 5h1.25v1.25h-1.25zM18 12h1.25v1.25h-1.25zM35 27h1.25v1.25h-1.25zM37 27h1.25v1.25h-1.25zM34 28h1.25v1.25h-1.25zM42 28h1.25v1.25h-1.25zM75 57h1.25v1.25h-1.25zM73 58h1.25v1.25h-1.25zM74 65h1.25v1.25h-1.25z"/>
<path fill="#ed5d3c" d="M9 5h1.25v1.25h-1.25zM15 8h2.25v1.25h-2.25zM21 14h1.25v1.25h-1.25zM38 27h1.25v1.25h-1.25zM41 27h1.25v1.25h-1.25zM39 38h1.25v1.25h-1.25zM53 52h1.25v1.25h-1.25zM58 57h1.25v1.25h-1.25zM64 58h1.25v1.25h-1.25zM75 58h1.25v1.25h-1.25zM82 58h1.25v1.25h-1.25zM65 59h1.25v1.25h-1.25zM72 59h1.25v1.25h-1.25zM69 60h1.25v1.25h-1.25z"/>
<path fill="#ffe79c" d="M25 5h1.25v1.25h-1.25zM103 5h1.25v1.25h-1.25zM65 6h1.25v1.25h-1.25zM102 6h1.25v1.25h-1.25zM44 9h1.25v1.25h-1.25zM75 9h1.25v1.25h-1.25zM104 12h1.25v1.25h-1.25zM33 16h1.25v1.25h-1.25zM36 17h1.25v1.25h-1.25zM36 18h1.25v1.25h-1.25zM33 19h1.25v1.25h-1.25zM41 20h1.25v1.25h-1.25zM39 21h1.25v1.25h-1.25zM58 50h1.25v1.25h-1.25zM64 52h1.25v1.25h-1.25zM97 53h1.25v1.25h-1.25zM72 54h1.25v1.25h-1.25zM56 55h1.25v1.25h-1.25zM83 55h1.25v1.25h-1.25zM92 56h1.25v1.25h-1.25zM106 56h1.25v1.25h-1.25zM94 60h1.25v1.25h-1.25zM98 61h1.25v1.25h-1.25zM78 62h1.25v1.25h-1.25zM98 65h1.25v1.25h-1.25zM85 67h1.25v1.25h-1.25zM95 92h1.25v1.25h-1.25z"/>
<path fill="#f3f9d8" d="M37 5h1.25v1.25h-1.25zM55 7h1.25v1.25h-1.25zM62 7h1.25v1.25h-1.25zM40 8h1.25v1.25h-1.25zM57 9h1.25v1.25h-1.25zM61 9h1.25v1.25h-1.25zM63 10h1.25v1.25h-1.25zM47 12h1.25v1.25h-1.25zM102 13h1.25v1.25h-1.25zM52 14h1.25v1.25h-1.25zM46 15h1.25v1.25h-1.25zM90 15h1.25v1.25h-1.25zM75 20h1.25v1.25h-1.25zM105 20h1.25v1.25h-1.25zM101 24h1.25v1.25h-1.25zM86 46h1.25v1.25h-1.25zM81 48h2.25v1.25h-2.25zM91 48h1.25v1.25h-1.25zM83 49h1.25v1.25h-1.25zM65 55h1.25v1.25h-1.25zM102 63h1.25v1.25h-1.25zM96 67h1.25v1.25h-1.25zM94 78h1.25v1.25h-1.25zM95 82h1.25v1.25h-1.25zM104 82h1.25v1.25h-1.25zM87 83h1.25v1.25h-1.25zM104 83h1.25v1.25h-1.25zM88 85h1.25v1.25h-1.25zM96 87h1.25v1.25h-1.25z"/>
<path fill="#ffe799" d="M54 5h1.25v1.25h-1.25zM48 6h1.25v1.25h-1.25zM103 6h1.25v1.25h-1.25zM45 7h1.25v1.25h-1.25zM45 8h2.25v1.25h-2.25zM106 13h1.25v1.25h-1.25zM32 14h1.25v1.25h-1.25zM35 16h1.25v1.25h-1.25zM37 19h1.25v1.25h-1.25zM40 21h1.25v1.25h-1.25zM57 46h1.25v1.25h-1.25zM64 46h1.25v1.25h-1.25zM77 50h1.25v1.25h-1.25zM103 54h1.25v1.25h-1.25zM96 56h1.25v1.25h-1.25zM90 57h1.25v1.25h-1.25zM104 63h1.25v1.25h-1.25zM85 64h1.25v1.25h-1.25zM84 65h1.25v1.25h-1.25zM89 84h1.25v1.25h-1.25zM94 84h1.25v1.25h-1.25zM97 85h1.25v1.25h-1.25zM91 90h1.25v1.25h-1.25z"/>
<path fill="#f9fccc" d="M57 5h1.25v1.25h-1.25zM41 6h1.25v1.25h-1.25zM41 9h1.25v1.25h-1.25zM43 10h1.25v1.25h-1.25zM47 10h1.25v1.25h-1.25zM35 11h1.25v1.25h-1.25zM37 11h1.25v1.25h-1.25zM46 12h1.25v1.25h-1.25zM48 12h1.25v1.25h-1.25zM90 12h1.25v1.25h-1.25zM44 13h2.25v1.25h-2.25zM65 13h1.25v1.25h-1.25zM40 14h1.25v1.25h-1.25zM44 14h1.25v1.25h-1.25zM75 15h1.25v1.25h-1.25zM76 16h1.25v1.25h-1.25zM39 17h1.25v1.25h-1.25zM75 18h1.25v1.25h-1.25zM105 18h1.25v1.25h-1.25zM101 23h1.25v1.25h-1.25zM57 44h1.25v1.25h-1.25zM107 44h1v1.25h-1zM91 46h1.25v1.25h-1.25zM58 48h1.25v1.25h-1.25zM99 48h1.25v1.25h-1.25zM74 50h1.25v1.25h-1.25zM81 50h1.25v1.25h-1.25zM85 50h1.25v1.25h-1.25zM90 55h1.25v1.25h-1.25zM104 57h1.25v1.25h-1.25zM106 60h1.25v1.25h-1.25zM98 62h1.25v1.25h-1.25zM98 63h1.25v1.25h-1.25zM105 64h1.25v1.25h-1.25zM91 66h1.25v1.25h-1.25zM71 69h1.25v1.25h-1.25zM86 70h1.25v1.25h-1.25zM77 71h1.25v1.25h-1.25zM105 82h1.25v1.25h-1.25zM93 86h1.25v1.25h-1.25z"/>
<path fill="#fcfcc6" d="M62 5h1.25v1.25h-1.25zM34 6h1.25v1.25h-1.25zM63 6h1.25v1.25h-1.25zM42 8h1.25v1.25h-1.25zM50 10h1.25v1.25h-1.25zM36 12h1.25v1.25h-1.25zM49 12h1.25v1.25h-1.25zM101 20h1.25v1.25h-1.25zM60 52h1.25v1.25h-1.25zM60 54h1.25v1.25h-1.25zM63 54h1.25v1.25h-1.25zM61 55h1.25v1.25h-1.25zM104 61h1.25v1.25h-1.25zM79 70h1.25v1.25h-1.25zM89 75h1.25v1.25h-1.25zM99 98h1.25v1.25h-1.25z"/>
<path fill="#c9e7f3" d="M69 5h1.25v1.25h-1.25zM93 5h1.25v1.25h-1.25zM74 7h1.25v1.25h-1.25zM67 8h1.25v1.25h-1.25zM87 9h1.25v1.25h-1.25zM55 20h1.25v1.25h-1.25zM66 20h1.25v1.25h-1.25zM64 21h1.25v1.25h-1.25zM66 21h1.25v1.25h-1.25zM57 22h1.25v1.25h-1.25zM44 24h1.25v1.25h-1.25zM52 24h1.25v1.25h-1.25zM49 25h1.25v1.25h-1.25zM54 25h1.25v1.25h-1.25zM106 28h1.25v1.25h-1.25zM86 47h1.25v1.25h-1.25zM107 57h1v1.25h-1zM93 68h1.25v1.25h-1.25zM102 68h1.25v1.25h-1.25zM100 71h1.25v1.25h-1.25zM98 73h1.25v1.25h-1.25zM88 75h1.25v1.25h-1.25zM90 76h1.25v1.25h-1.25zM99 77h1.25v1.25h-1.25zM103 79h1.25v1.25h-1.25zM95 80h1.25v1.25h-1.25zM100 81h1.25v1.25h-1.25zM107 81h1v1.25h-1zM97 84h1.25v1.25h-1.25zM93 87h1.25v1.25h-1.25zM100 92h1.25v1.25h-1.25zM102 100h1.25v1.25h-1.25z"/>
<path fill="#a8d8e7" d="M70 5h1.25v1.25h-1.25zM97 6h1.25v1.25h-1.25zM86 7h1.25v1.25h-1.25zM84 14h1.25v1.25h-1.25zM81 15h1.25v1.25h-1.25zM67 16h1.25v1.25h-1.25zM68 17h1.25v1.25h-1.25zM77 17h1.25v1.25h-1.25zM58 20h1.25v1.25h-1.25zM73 21h1.25v1.25h-1.25zM82 22h1.25v1.25h-1.25zM85 22h1.25v1.25h-1.25zM102 27h1.25v1.25h-1.25zM103 28h1.25v1.25h-1.25zM53 29h1.25v1.25h-1.25zM90 30h1.25v1.25h-1.25zM46 31h2.25v1.25h-2.25zM53 31h2.25v1.25h-2.25zM44 33h1.25v1.25h-1.25zM50 33h1.25v1.25h-1.25zM46 34h1.25v1.25h-1.25zM104 34h1.25v1.25h-1.25zM75 39h1.25v1.25h-1.25zM51 41h1.25v1.25h-1.25zM76 42h1.25v1.25h-1.25zM104 42h1.25v1.25h-1.25zM75 43h2.25v1.25h-2.25zM68 51h1.25v1.25h-1.25zM107 75h1v1.25h-1zM107 88h1v1.25h-1z"/>
<path fill="#cce7f3" d="M84 5h1.25v1.25h-1.25zM52 23h1.25v1.25h-1.25z"/>
<path fill="#ffd887" d="M90 5h1.25v1.25h-1.25zM27 8h1.25v1.25h-1.25zM27 9h1.25v1.25h-1.25zM26 12h1.25v1.25h-1.25zM32 16h1.25v1.25h-1.25zM29 17h1.25v1.25h-1.25zM30 18h1.25v1.25h-1.25zM33 20h1.25v1.25h-1.25zM37 20h1.25v1.25h-1.25zM61 44h1.25v1.25h-1.25zM107 46h1v1.25h-1zM100 53h1.25v1.25h-1.25zM86 54h1.25v1.25h-1.25zM91 54h1.25v1.25h-1.25zM93 57h1.25v1.25h-1.25zM78 59h1.25v1.25h-1.25zM89 59h1.25v1.25h-1.25zM92 60h1.25v1.25h-1.25zM79 62h1.25v1.25h-1.25zM99 65h2.25v1.25h-2.25zM76 67h1.25v1.25h-1.25z"/>
<path fill="#fca25d" d="M104 5h1.25v1.25h-1.25zM23 8h1.25v1.25h-1.25zM29 21h1.25v1.25h-1.25zM75 46h1.25v1.25h-1.25zM60 56h1.25v1.25h-1.25zM104 65h1.25v1.25h-1.25z"/>
<path fill="#fca860" d="M105 5h1.25v1.25h-1.25zM28 20h1.25v1.25h-1.25zM87 53h1.25v1.25h-1.25zM91 57h1.25v1.25h-1.25zM95 85h1.25v1.25h-1.25zM105 90h1.25v1.25h-1.25z"/>
<path fill="#c92427" d="M7 6h1.25v1.25h-1.25zM14 13h1.25v1.25h-1.25zM17 14h1.25v1.25h-1.25zM34 31h1.25v1.25h-1.25zM43 31h1.25v1.25h-1.25zM40 33h1.25v1.25h-1.25zM40 37h1.25v1.25h-1.25zM43 40h1.25v1.25h-1.25zM52 46h1.25v1.25h-1.25zM61 53h1.25v1.25h-1.25z"/>
<path fill="#db3c2d" d="M8 6h1.25v1.25h-1.25zM16 12h2.25v1.25h-2.25zM15 13h1.25v1.25h-1.25zM36 27h1.25v1.25h-1.25zM35 28h1.25v1.25h-1.25zM43 28h1.25v1.25h-1.25zM104 101h1.25v1.25h-1.25z"/>
<path fill="#e74e36" d="M10 6h1.25v1.25h-1.25zM18 11h1.25v1.25h-1.25zM19 12h1.25v1.25h-1.25zM36 24h1.25v1.25h-1.25zM43 26h1.25v1.25h-1.25zM34 27h1.25v1.25h-1.25z"/>
<path fill="#ed603c" d="M11 6h1.25v1.25h-1.25zM12 7h1.25v1.25h-1.25zM17 8h2.25v1.25h-2.25zM20 13h1.25v1.25h-1.25zM25 22h2.25v1.25h-2.25zM34 24h1.25v1.25h-1.25zM41 26h1.25v1.25h-1.25zM64 57h1.25v1.25h-1.25zM76 58h1.25v1.25h-1.25zM64 60h1.25v1.25h-1.25zM91 62h1.25v1.25h-1.25zM82 78h1.25v1.25h-1.25z"/>
<path fill="#fcc072" d="M21 6h1.25v1.25h-1.25zM23 6h1.25v1.25h-1.25zM24 12h1.25v1.25h-1.25zM27 14h1.25v1.25h-1.25zM28 16h1.25v1.25h-1.25zM41 22h1.25v1.25h-1.25zM104 55h1.25v1.25h-1.25zM64 56h1.25v1.25h-1.25zM104 56h1.25v1.25h-1.25zM80 57h1.25v1.25h-1.25zM83 61h1.25v1.25h-1.25zM70 62h1.25v1.25h-1.25zM75 62h2.25v1.25h-2.25zM76 63h1.25v1.25h-1.25zM72 64h1.25v1.25h-1.25zM96 64h1.25v1.25h-1.25zM85 65h1.25v1.25h-1.25zM69 68h1.25v1.25h-1.25zM102 75h1.25v1.25h-1.25zM90 79h1.25v1.25h-1.25zM106 90h1.25v1.25h-1.25zM95 94h1.25v1.25h-1.25z"/>
<path fill="#f0f9d8" d="M40 6h1.25v1.25h-1.25zM56 7h1.25v1.25h-1.25zM59 7h1.25v1.25h-1.25zM40 9h1.25v1.25h-1.25zM59 9h1.25v1.25h-1.25zM62 9h1.25v1.25h-1.25zM55 10h1.25v1.25h-1.25zM38 13h1.25v1.25h-1.25zM47 13h1.25v1.25h-1.25zM52 13h1.25v1.25h-1.25zM51 14h1.25v1.25h-1.25zM53 14h1.25v1.25h-1.25zM47 15h1.25v1.25h-1.25zM65 15h1.25v1.25h-1.25zM49 16h1.25v1.25h-1.25zM85 46h1.25v1.25h-1.25zM80 49h1.25v1.25h-1.25zM77 51h1.25v1.25h-1.25zM91 51h1.25v1.25h-1.25zM98 52h1.25v1.25h-1.25zM89 54h1.25v1.25h-1.25zM102 60h1.25v1.25h-1.25zM103 63h1.25v1.25h-1.25zM78 70h1.25v1.25h-1.25zM87 82h1.25v1.25h-1.25zM96 88h1.25v1.25h-1.25zM90 89h1.25v1.25h-1.25z"/>
<path fill="#f3fcd5" d="M66 6h1.25v1.25h-1.25zM59 8h1.25v1.25h-1.25zM38 9h1.25v1.25h-1.25zM55 9h1.25v1.25h-1.25zM38 10h1.25v1.25h-1.25zM50 11h1.25v1.25h-1.25zM54 13h1.25v1.25h-1.25zM90 13h1.25v1.25h-1.25zM49 14h1.25v1.25h-1.25zM90 14h1.25v1.25h-1.25zM102 15h1.25v1.25h-1.25zM106 21h1.25v1.25h-1.25zM70 55h1.25v1.25h-1.25zM82 66h1.25v1.25h-1.25zM105 69h1.25v1.25h-1.25zM89 77h1.25v1.25h-1.25zM106 85h1.25v1.25h-1.25zM98 93h1.25v1.25h-1.25zM107 104h1v1.25h-1z"/>
<path fill="#b4deea" d="M70 6h1.25v1.25h-1.25zM84 10h1.25v1.25h-1.25zM67 13h1.25v1.25h-1.25zM67 14h1.25v1.25h-1.25zM74 14h1.25v1.25h-1.25zM85 15h1.25v1.25h-1.25zM91 17h1.25v1.25h-1.25zM82 18h1.25v1.25h-1.25zM58 19h1.25v1.25h-1.25zM72 19h2.25v1.25h-2.25zM53 26h1.25v1.25h-1.25zM52 27h1.25v1.25h-1.25zM65 27h1.25v1.25h-1.25zM51 28h1.25v1.25h-1.25zM54 28h1.25v1.25h-1.25zM49 29h1.25v1.25h-1.25zM51 29h1.25v1.25h-1.25zM106 30h1.25v1.25h-1.25zM75 32h1.25v1.25h-1.25zM104 41h1.25v1.25h-1.25zM89 47h1.25v1.25h-1.25zM66 48h1.25v1.25h-1.25zM107 69h1v1.25h-1zM86 76h1.25v1.25h-1.25zM103 89h1.25v1.25h-1.25z"/>
<path fill="#a8d5e7" d="M86 6h1.25v1.25h-1.25zM97 8h1.25v1.25h-1.25zM84 11h1.25v1.25h-1.25zM84 13h1.25v1.25h-1.25zM88 13h1.25v1.25h-1.25zM88 14h1.25v1.25h-1.25zM93 14h1.25v1.25h-1.25zM74 16h1.25v1.25h-1.25zM78 16h1.25v1.25h-1.25zM83 16h1.25v1.25h-1.25zM98 16h1.25v1.25h-1.25zM92 17h1.25v1.25h-1.25zM98 18h1.25v1.25h-1.25zM107 18h1v1.25h-1zM71 20h1.25v1.25h-1.25zM99 20h1.25v1.25h-1.25zM72 21h1.25v1.25h-1.25zM65 26h1.25v1.25h-1.25zM102 26h1.25v1.25h-1.25zM52 30h1.25v1.25h-1.25zM44 32h1.25v1.25h-1.25zM46 32h2.25v1.25h-2.25zM50 32h1.25v1.25h-1.25zM50 34h1.25v1.25h-1.25zM44 41h1.25v1.25h-1.25zM75 42h1.25v1.25h-1.25zM93 51h1.25v1.25h-1.25z"/>
<path fill="#cc2427" d="M8 7h1.25v1.25h-1.25zM10 8h1.25v1.25h-1.25zM29 27h1.25v1.25h-1.25zM36 29h1.25v1.25h-1.25zM33 30h1.25v1.25h-1.25z"/>
<path fill="#cc2727" d="M9 7h1.25v1.25h-1.25zM11 10h1.25v1.25h-1.25zM12 11h1.25v1.25h-1.25zM22 21h1.25v1.25h-1.25zM28 26h1.25v1.25h-1.25zM40 36h1.25v1.25h-1.25zM65 52h1.25v1.25h-1.25zM63 62h1.25v1.25h-1.25z"/>
<path fill="#d83327" d="M10 7h1.25v1.25h-1.25zM19 14h1.25v1.25h-1.25zM21 16h1.25v1.25h-1.25zM36 28h1.25v1.25h-1.25zM42 29h1.25v1.25h-1.25zM42 30h1.25v1.25h-1.25zM38 31h1.25v1.25h-1.25z"/>
<path fill="#e44833" d="M11 7h1.25v1.25h-1.25zM12 8h1.25v1.25h-1.25zM19 13h1.25v1.25h-1.25zM22 17h1.25v1.25h-1.25zM37 26h1.25v1.25h-1.25zM33 27h1.25v1.25h-1.25z"/>
<path fill="#f98751" d="M16 7h1.25v1.25h-1.25zM39 32h1.25v1.25h-1.25zM76 45h1.25v1.25h-1.25zM76 50h1.25v1.25h-1.25zM74 64h1.25v1.25h-1.25z"/>
<path fill="#ffea9c" d="M49 7h1.25v1.25h-1.25zM28 10h1.25v1.25h-1.25zM33 15h1.25v1.25h-1.25zM64 44h1.25v1.25h-1.25zM64 45h1.25v1.25h-1.25zM76 54h1.25v1.25h-1.25zM88 60h1.25v1.25h-1.25zM86 61h1.25v1.25h-1.25zM84 62h1.25v1.25h-1.25zM86 64h1.25v1.25h-1.25zM97 64h1.25v1.25h-1.25z"/>
<path fill="#a2d2e4" d="M70 7h1.25v1.25h-1.25zM69 15h1.25v1.25h-1.25zM96 15h1.25v1.25h-1.25zM96 16h1.25v1.25h-1.25zM87 17h1.25v1.25h-1.25zM98 17h1.25v1.25h-1.25zM100 17h1.25v1.25h-1.25zM67 18h1.25v1.25h-1.25zM78 18h1.25v1.25h-1.25zM80 18h2.25v1.25h-2.25zM83 18h1.25v1.25h-1.25zM92 18h1.25v1.25h-1.25zM78 19h1.25v1.25h-1.25zM95 19h1.25v1.25h-1.25zM100 20h1.25v1.25h-1.25zM79 21h1.25v1.25h-1.25zM85 21h1.25v1.25h-1.25zM58 22h1.25v1.25h-1.25zM73 22h1.25v1.25h-1.25zM71 23h1.25v1.25h-1.25zM63 25h1.25v1.25h-1.25zM63 26h2.25v1.25h-2.25zM62 27h1.25v1.25h-1.25zM64 27h1.25v1.25h-1.25zM102 29h1.25v1.25h-1.25zM50 30h1.25v1.25h-1.25zM53 30h1.25v1.25h-1.25zM90 31h1.25v1.25h-1.25zM49 32h1.25v1.25h-1.25zM51 32h1.25v1.25h-1.25zM90 32h1.25v1.25h-1.25zM51 33h1.25v1.25h-1.25zM53 33h1.25v1.25h-1.25zM90 33h1.25v1.25h-1.25zM47 34h2.25v1.25h-2.25zM51 34h1.25v1.25h-1.25zM46 36h1.25v1.25h-1.25zM49 36h2.25v1.25h-2.25zM54 36h1.25v1.25h-1.25zM104 36h1.25v1.25h-1.25zM44 37h1.25v1.25h-1.25zM45 38h1.25v1.25h-1.25zM48 38h1.25v1.25h-1.25zM49 39h1.25v1.25h-1.25zM50 40h1.25v1.25h-1.25zM44 42h1.25v1.25h-1.25zM106 43h1.25v1.25h-1.25zM107 73h1v1.25h-1zM93 80h1.25v1.25h-1.25z"/>
<path fill="#fff0ab" d="M103 7h1.25v1.25h-1.25zM90 8h1.25v1.25h-1.25zM101 14h1.25v1.25h-1.25zM33 17h1.25v1.25h-1.25zM43 18h1.25v1.25h-1.25zM62 44h1.25v1.25h-1.25zM62 51h1.25v1.25h-1.25zM85 57h1.25v1.25h-1.25zM80 62h1.25v1.25h-1.25zM87 62h1.25v1.25h-1.25zM90 65h1.25v1.25h-1.25zM78 74h1.25v1.25h-1.25zM97 92h1.25v1.25h-1.25z"/>
<path fill="#c61e27" d="M9 8h1.25v1.25h-1.25zM19 15h1.25v1.25h-1.25z"/>
<path fill="#db362a" d="M11 8h1.25v1.25h-1.25zM12 9h1.25v1.25h-1.25zM14 11h1.25v1.25h-1.25zM83 81h1.25v1.25h-1.25z"/>
<path fill="#f0633f" d="M19 8h1.25v1.25h-1.25zM20 12h1.25v1.25h-1.25zM23 19h1.25v1.25h-1.25zM27 22h1.25v1.25h-1.25zM32 23h1.25v1.25h-1.25zM43 24h1.25v1.25h-1.25zM38 26h1.25v1.25h-1.25zM40 28h1.25v1.25h-1.25zM105 45h1.25v1.25h-1.25zM56 53h2.25v1.25h-2.25zM63 53h1.25v1.25h-1.25zM65 57h1.25v1.25h-1.25zM91 58h1.25v1.25h-1.25zM63 59h1.25v1.25h-1.25zM84 81h1.25v1.25h-1.25zM94 93h1.25v1.25h-1.25zM103 101h1.25v1.25h-1.25z"/>
<path fill="#ffe499" d="M44 8h1.25v1.25h-1.25zM37 16h1.25v1.25h-1.25zM72 56h1.25v1.25h-1.25zM80 56h1.25v1.25h-1.25zM84 80h1.25v1.25h-1.25z"/>
<path fill="#a5d5e7" d="M70 8h1.25v1.25h-1.25zM86 8h1.25v1.25h-1.25zM86 9h1.25v1.25h-1.25zM93 13h1.25v1.25h-1.25zM96 13h1.25v1.25h-1.25zM69 14h1.25v1.25h-1.25zM96 14h1.25v1.25h-1.25zM83 15h1.25v1.25h-1.25zM100 16h1.25v1.25h-1.25zM78 17h1.25v1.25h-1.25zM80 17h1.25v1.25h-1.25zM74 18h1.25v1.25h-1.25zM95 18h1.25v1.25h-1.25zM100 18h1.25v1.25h-1.25zM68 19h1.25v1.25h-1.25zM79 19h1.25v1.25h-1.25zM83 19h1.25v1.25h-1.25zM68 21h1.25v1.25h-1.25zM89 21h1.25v1.25h-1.25zM99 21h1.25v1.25h-1.25zM71 22h2.25v1.25h-2.25zM59 25h1.25v1.25h-1.25zM61 25h1.25v1.25h-1.25zM103 26h1.25v1.25h-1.25zM90 28h1.25v1.25h-1.25zM103 29h1.25v1.25h-1.25zM48 30h1.25v1.25h-1.25zM52 31h1.25v1.25h-1.25zM45 32h1.25v1.25h-1.25zM54 32h1.25v1.25h-1.25zM54 33h1.25v1.25h-1.25zM44 34h2.25v1.25h-2.25zM104 35h1.25v1.25h-1.25zM106 38h1.25v1.25h-1.25zM76 39h1.25v1.25h-1.25zM45 40h1.25v1.25h-1.25zM76 40h1.25v1.25h-1.25zM104 40h2.25v1.25h-2.25zM65 41h1.25v1.25h-1.25zM103 41h1.25v1.25h-1.25zM105 43h1.25v1.25h-1.25zM86 75h1.25v1.25h-1.25zM93 81h1.25v1.25h-1.25z"/>
<path fill="#ffc978" d="M105 8h1.25v1.25h-1.25zM25 9h1.25v1.25h-1.25zM104 9h1.25v1.25h-1.25zM28 17h1.25v1.25h-1.25zM55 45h1.25v1.25h-1.25zM71 57h1.25v1.25h-1.25zM69 63h1.25v1.25h-1.25zM82 63h1.25v1.25h-1.25zM77 67h1.25v1.25h-1.25z"/>
<path fill="#d22a27" d="M11 9h1.25v1.25h-1.25zM13 10h1.25v1.25h-1.25zM28 25h1.25v1.25h-1.25zM31 26h1.25v1.25h-1.25zM35 29h1.25v1.25h-1.25zM37 29h1.25v1.25h-1.25zM43 30h1.25v1.25h-1.25zM42 31h1.25v1.25h-1.25zM65 46h1.25v1.25h-1.25zM65 50h1.25v1.25h-1.25z"/>
<path fill="#de3c2d" d="M13 9h1.25v1.25h-1.25zM38 30h1.25v1.25h-1.25zM40 32h1.25v1.25h-1.25zM65 51h1.25v1.25h-1.25z"/>
<path fill="#ea5439" d="M16 9h1.25v1.25h-1.25zM30 23h1.25v1.25h-1.25z"/>
<path fill="#96c9e1" d="M70 9h1.25v1.25h-1.25zM97 11h1.25v1.25h-1.25zM70 12h1.25v1.25h-1.25zM84 17h1.25v1.25h-1.25zM80 19h1.25v1.25h-1.25zM96 19h1.25v1.25h-1.25zM78 20h1.25v1.25h-1.25zM81 20h1.25v1.25h-1.25zM80 21h1.25v1.25h-1.25zM74 22h1.25v1.25h-1.25zM94 22h2.25v1.25h-2.25zM81 23h1.25v1.25h-1.25zM107 23h1v1.25h-1zM99 24h1.25v1.25h-1.25zM55 26h1.25v1.25h-1.25zM55 29h1.25v1.25h-1.25zM57 29h1.25v1.25h-1.25zM60 29h1.25v1.25h-1.25zM57 30h1.25v1.25h-1.25zM65 30h2.25v1.25h-2.25zM61 31h1.25v1.25h-1.25zM55 33h1.25v1.25h-1.25zM65 33h1.25v1.25h-1.25zM52 35h1.25v1.25h-1.25zM102 35h1.25v1.25h-1.25zM65 36h1.25v1.25h-1.25zM90 36h1.25v1.25h-1.25zM60 41h1.25v1.25h-1.25zM47 42h1.25v1.25h-1.25zM49 42h1.25v1.25h-1.25zM51 42h1.25v1.25h-1.25zM54 43h1.25v1.25h-1.25zM107 85h1v1.25h-1z"/>
<path fill="#d5edf3" d="M85 9h1.25v1.25h-1.25zM72 44h1.25v1.25h-1.25zM83 47h1.25v1.25h-1.25z"/>
<path fill="#9ccce1" d="M97 9h1.25v1.25h-1.25zM86 10h1.25v1.25h-1.25zM100 19h1.25v1.25h-1.25zM80 20h1.25v1.25h-1.25zM92 20h1.25v1.25h-1.25zM78 21h1.25v1.25h-1.25zM83 21h1.25v1.25h-1.25zM98 21h1.25v1.25h-1.25zM89 22h1.25v1.25h-1.25zM98 22h1.25v1.25h-1.25zM79 23h1.25v1.25h-1.25zM71 24h1.25v1.25h-1.25zM62 26h1.25v1.25h-1.25zM66 26h1.25v1.25h-1.25zM63 28h1.25v1.25h-1.25zM64 29h1.25v1.25h-1.25zM65 31h1.25v1.25h-1.25zM90 34h1.25v1.25h-1.25zM54 35h1.25v1.25h-1.25zM49 40h1.25v1.25h-1.25zM53 40h1.25v1.25h-1.25zM54 42h1.25v1.25h-1.25zM45 43h1.25v1.25h-1.25zM107 77h1v1.25h-1z"/>
<path fill="#cf2727" d="M12 10h1.25v1.25h-1.25zM15 14h1.25v1.25h-1.25zM18 14h1.25v1.25h-1.25zM21 18h1.25v1.25h-1.25zM33 29h1.25v1.25h-1.25zM35 30h1.25v1.25h-1.25zM37 30h1.25v1.25h-1.25zM38 32h1.25v1.25h-1.25zM96 95h1.25v1.25h-1.25z"/>
<path fill="#e14833" d="M15 10h1.25v1.25h-1.25zM21 15h1.25v1.25h-1.25zM23 21h1.25v1.25h-1.25z"/>
<path fill="#e44b33" d="M16 10h1.25v1.25h-1.25zM18 10h1.25v1.25h-1.25zM20 14h1.25v1.25h-1.25zM35 25h1.25v1.25h-1.25zM35 26h1.25v1.25h-1.25zM43 27h1.25v1.25h-1.25zM40 31h1.25v1.25h-1.25zM52 45h1.25v1.25h-1.25zM79 53h1.25v1.25h-1.25zM65 60h1.25v1.25h-1.25z"/>
<path fill="#e44e33" d="M17 10h1.25v1.25h-1.25zM16 11h1.25v1.25h-1.25zM22 16h1.25v1.25h-1.25zM37 25h1.25v1.25h-1.25zM48 47h1.25v1.25h-1.25zM102 101h1.25v1.25h-1.25z"/>
<path fill="#edf6e4" d="M61 10h1.25v1.25h-1.25zM47 17h1.25v1.25h-1.25zM101 28h1.25v1.25h-1.25zM73 45h1.25v1.25h-1.25zM88 46h1.25v1.25h-1.25zM82 51h1.25v1.25h-1.25zM92 68h1.25v1.25h-1.25z"/>
<path fill="#9fcfe4" d="M70 10h1.25v1.25h-1.25zM84 15h1.25v1.25h-1.25zM88 15h1.25v1.25h-1.25zM93 15h1.25v1.25h-1.25zM84 16h1.25v1.25h-1.25zM94 16h1.25v1.25h-1.25zM83 17h1.25v1.25h-1.25zM95 17h2.25v1.25h-2.25zM92 19h1.25v1.25h-1.25zM94 19h1.25v1.25h-1.25zM67 20h1.25v1.25h-1.25zM87 20h1.25v1.25h-1.25zM94 20h1.25v1.25h-1.25zM87 21h1.25v1.25h-1.25zM91 21h2.25v1.25h-2.25zM107 21h1v1.25h-1zM91 22h1.25v1.25h-1.25zM58 23h1.25v1.25h-1.25zM68 23h1.25v1.25h-1.25zM73 23h1.25v1.25h-1.25zM85 23h1.25v1.25h-1.25zM89 23h1.25v1.25h-1.25zM91 23h1.25v1.25h-1.25zM68 24h1.25v1.25h-1.25zM61 26h1.25v1.25h-1.25zM56 27h1.25v1.25h-1.25zM56 28h2.25v1.25h-2.25zM59 28h1.25v1.25h-1.25zM64 28h2.25v1.25h-2.25zM66 29h1.25v1.25h-1.25zM103 30h1.25v1.25h-1.25zM102 31h2.25v1.25h-2.25zM53 32h1.25v1.25h-1.25zM65 32h1.25v1.25h-1.25zM103 32h1.25v1.25h-1.25zM49 33h1.25v1.25h-1.25zM53 34h1.25v1.25h-1.25zM65 34h1.25v1.25h-1.25zM44 35h1.25v1.25h-1.25zM46 35h1.25v1.25h-1.25zM48 35h2.25v1.25h-2.25zM51 35h1.25v1.25h-1.25zM53 35h1.25v1.25h-1.25zM44 36h1.25v1.25h-1.25zM52 36h1.25v1.25h-1.25zM45 37h1.25v1.25h-1.25zM48 37h1.25v1.25h-1.25zM52 37h3.25v1.25h-3.25zM46 38h1.25v1.25h-1.25zM104 38h1.25v1.25h-1.25zM44 39h1.25v1.25h-1.25zM46 39h1.25v1.25h-1.25zM48 39h1.25v1.25h-1.25zM44 40h1.25v1.25h-1.25zM46 40h1.25v1.25h-1.25zM51 40h1.25v1.25h-1.25zM54 40h1.25v1.25h-1.25zM105 42h2.25v1.25h-2.25zM104 43h1.25v1.25h-1.25zM107 82h1v1.25h-1z"/>
<path fill="#9ccfe4" d="M97 10h1.25v1.25h-1.25zM88 17h1.25v1.25h-1.25zM94 17h1.25v1.25h-1.25zM77 19h1.25v1.25h-1.25zM84 19h1.25v1.25h-1.25zM74 20h1.25v1.25h-1.25zM83 20h1.25v1.25h-1.25zM60 26h1.25v1.25h-1.25zM59 27h1.25v1.25h-1.25zM61 27h1.25v1.25h-1.25zM63 27h1.25v1.25h-1.25zM103 33h1.25v1.25h-1.25zM52 34h1.25v1.25h-1.25zM48 36h1.25v1.25h-1.25zM49 37h2.25v1.25h-2.25zM49 38h1.25v1.25h-1.25zM45 39h1.25v1.25h-1.25zM53 39h1.25v1.25h-1.25zM102 41h1.25v1.25h-1.25zM48 43h2.25v1.25h-2.25zM53 43h1.25v1.25h-1.25zM66 51h1.25v1.25h-1.25z"/>
<path fill="#fffcb7" d="M29 11h1.25v1.25h-1.25zM68 67h1.25v1.25h-1.25zM99 74h1.25v1.25h-1.25z"/>
<path fill="#f9fcc6" d="M65 11h1.25v1.25h-1.25zM45 12h1.25v1.25h-1.25zM35 13h1.25v1.25h-1.25zM88 50h1.25v1.25h-1.25zM79 55h1.25v1.25h-1.25zM80 72h1.25v1.25h-1.25z"/>
<path fill="#9ccce4" d="M70 11h1.25v1.25h-1.25zM74 19h1.25v1.25h-1.25zM98 20h1.25v1.25h-1.25zM107 20h1v1.25h-1zM66 27h1.25v1.25h-1.25zM55 28h1.25v1.25h-1.25zM65 29h1.25v1.25h-1.25zM102 30h1.25v1.25h-1.25zM51 36h1.25v1.25h-1.25zM53 36h1.25v1.25h-1.25zM51 37h1.25v1.25h-1.25zM50 38h2.25v1.25h-2.25zM48 40h1.25v1.25h-1.25zM52 40h1.25v1.25h-1.25zM45 42h1.25v1.25h-1.25zM44 43h1.25v1.25h-1.25zM107 66h1v1.25h-1z"/>
<path fill="#90c3de" d="M86 11h1.25v1.25h-1.25zM70 13h1.25v1.25h-1.25zM70 16h1.25v1.25h-1.25zM88 18h1.25v1.25h-1.25zM93 18h1.25v1.25h-1.25zM96 18h1.25v1.25h-1.25zM69 19h1.25v1.25h-1.25zM88 20h1.25v1.25h-1.25zM81 21h1.25v1.25h-1.25zM87 22h1.25v1.25h-1.25zM107 22h1v1.25h-1zM78 23h1.25v1.25h-1.25zM92 23h1.25v1.25h-1.25zM95 23h1.25v1.25h-1.25zM72 24h2.25v1.25h-2.25zM83 24h1.25v1.25h-1.25zM58 25h1.25v1.25h-1.25zM61 28h1.25v1.25h-1.25zM63 29h1.25v1.25h-1.25zM56 30h1.25v1.25h-1.25zM64 31h1.25v1.25h-1.25zM55 32h1.25v1.25h-1.25zM65 35h1.25v1.25h-1.25zM62 36h1.25v1.25h-1.25zM103 38h1.25v1.25h-1.25zM65 39h1.25v1.25h-1.25zM56 41h2.25v1.25h-2.25zM63 41h1.25v1.25h-1.25zM102 43h2.25v1.25h-2.25z"/>
<path fill="#abd8ea" d="M93 11h1.25v1.25h-1.25zM84 12h1.25v1.25h-1.25zM93 12h1.25v1.25h-1.25zM95 12h2.25v1.25h-2.25zM98 14h1.25v1.25h-1.25zM100 14h1.25v1.25h-1.25zM74 15h1.25v1.25h-1.25zM92 15h1.25v1.25h-1.25zM107 15h1v1.25h-1zM77 16h1.25v1.25h-1.25zM92 16h1.25v1.25h-1.25zM107 16h1v1.25h-1zM67 17h1.25v1.25h-1.25zM89 17h1.25v1.25h-1.25zM107 17h1v1.25h-1zM91 19h1.25v1.25h-1.25zM91 20h1.25v1.25h-1.25zM58 21h1.25v1.25h-1.25zM82 23h1.25v1.25h-1.25zM57 25h1.25v1.25h-1.25zM50 26h1.25v1.25h-1.25zM54 27h1.25v1.25h-1.25zM103 27h1.25v1.25h-1.25zM50 29h1.25v1.25h-1.25zM90 29h1.25v1.25h-1.25zM47 30h1.25v1.25h-1.25zM49 30h1.25v1.25h-1.25zM48 31h1.25v1.25h-1.25zM48 32h1.25v1.25h-1.25zM52 32h1.25v1.25h-1.25zM47 33h1.25v1.25h-1.25zM49 34h1.25v1.25h-1.25zM75 34h1.25v1.25h-1.25zM75 36h1.25v1.25h-1.25zM106 37h1.25v1.25h-1.25zM105 39h1.25v1.25h-1.25zM75 40h1.25v1.25h-1.25zM66 44h1.25v1.25h-1.25zM107 76h1v1.25h-1zM107 99h1v1.25h-1z"/>
<path fill="#abdbea" d="M96 11h1.25v1.25h-1.25zM69 13h1.25v1.25h-1.25zM55 25h1.25v1.25h-1.25zM102 28h1.25v1.25h-1.25zM76 38h1.25v1.25h-1.25zM71 47h1.25v1.25h-1.25zM93 75h1.25v1.25h-1.25z"/>
<path fill="#b7e1ed" d="M98 11h1.25v1.25h-1.25zM99 17h1.25v1.25h-1.25zM72 18h1.25v1.25h-1.25zM55 24h1.25v1.25h-1.25zM106 32h1.25v1.25h-1.25z"/>
<path fill="#bd1827" d="M13 12h1.25v1.25h-1.25zM17 15h2.25v1.25h-2.25zM27 26h1.25v1.25h-1.25zM28 27h1.25v1.25h-1.25zM33 32h1.25v1.25h-1.25zM38 33h1.25v1.25h-1.25zM38 35h1.25v1.25h-1.25zM41 35h1.25v1.25h-1.25zM41 36h1.25v1.25h-1.25zM41 38h1.25v1.25h-1.25zM82 81h1.25v1.25h-1.25z"/>
<path fill="#d52d27" d="M14 12h1.25v1.25h-1.25zM21 17h1.25v1.25h-1.25zM23 22h1.25v1.25h-1.25zM28 24h1.25v1.25h-1.25zM41 32h1.25v1.25h-1.25zM65 48h1.25v1.25h-1.25zM71 64h1.25v1.25h-1.25z"/>
<path fill="#fff0a5" d="M28 12h1.25v1.25h-1.25zM86 59h1.25v1.25h-1.25zM85 60h1.25v1.25h-1.25z"/>
<path fill="#e7f6e7" d="M55 12h1.25v1.25h-1.25zM53 19h1.25v1.25h-1.25zM101 31h1.25v1.25h-1.25z"/>
<path fill="#93c6de" d="M86 12h1.25v1.25h-1.25zM97 13h1.25v1.25h-1.25zM88 19h1.25v1.25h-1.25zM93 19h1.25v1.25h-1.25zM84 20h1.25v1.25h-1.25zM67 21h1.25v1.25h-1.25zM74 21h1.25v1.25h-1.25zM77 21h1.25v1.25h-1.25zM100 21h1.25v1.25h-1.25zM67 22h1.25v1.25h-1.25zM92 22h1.25v1.25h-1.25zM83 23h1.25v1.25h-1.25zM100 23h1.25v1.25h-1.25zM79 24h1.25v1.25h-1.25zM85 24h1.25v1.25h-1.25zM87 24h1.25v1.25h-1.25zM91 24h1.25v1.25h-1.25zM82 25h1.25v1.25h-1.25zM85 25h1.25v1.25h-1.25zM57 26h1.25v1.25h-1.25zM59 26h1.25v1.25h-1.25zM66 28h1.25v1.25h-1.25zM56 29h1.25v1.25h-1.25zM61 30h1.25v1.25h-1.25zM63 30h2.25v1.25h-2.25zM56 31h1.25v1.25h-1.25zM66 31h1.25v1.25h-1.25zM61 32h1.25v1.25h-1.25zM66 32h1.25v1.25h-1.25zM56 34h1.25v1.25h-1.25zM103 35h1.25v1.25h-1.25zM102 36h1.25v1.25h-1.25zM47 37h1.25v1.25h-1.25zM65 37h1.25v1.25h-1.25zM90 37h1.25v1.25h-1.25zM90 40h1.25v1.25h-1.25zM62 41h1.25v1.25h-1.25zM48 42h1.25v1.25h-1.25zM46 43h1.25v1.25h-1.25zM50 43h1.25v1.25h-1.25zM65 43h1.25v1.25h-1.25zM90 43h1.25v1.25h-1.25zM107 91h1v1.25h-1z"/>
<path fill="#99c9e1" d="M97 12h1.25v1.25h-1.25zM69 16h1.25v1.25h-1.25zM88 16h1.25v1.25h-1.25zM77 20h1.25v1.25h-1.25zM95 21h1.25v1.25h-1.25zM58 24h1.25v1.25h-1.25zM82 24h1.25v1.25h-1.25zM60 28h1.25v1.25h-1.25zM59 29h1.25v1.25h-1.25zM102 34h2.25v1.25h-2.25zM90 35h1.25v1.25h-1.25zM47 36h1.25v1.25h-1.25zM47 38h1.25v1.25h-1.25zM102 38h1.25v1.25h-1.25zM47 39h1.25v1.25h-1.25zM54 39h1.25v1.25h-1.25zM90 39h1.25v1.25h-1.25zM47 40h1.25v1.25h-1.25zM64 41h1.25v1.25h-1.25zM53 42h1.25v1.25h-1.25zM65 42h1.25v1.25h-1.25zM107 87h1v1.25h-1zM107 92h1v1.25h-1z"/>
<path fill="#d83027" d="M16 13h2.25v1.25h-2.25zM20 15h1.25v1.25h-1.25zM31 25h1.25v1.25h-1.25zM34 29h1.25v1.25h-1.25zM59 57h1.25v1.25h-1.25z"/>
<path fill="#edf9e4" d="M40 13h1.25v1.25h-1.25zM90 17h1.25v1.25h-1.25zM58 55h1.25v1.25h-1.25zM101 67h1.25v1.25h-1.25zM84 74h1.25v1.25h-1.25z"/>
<path fill="#87bddb" d="M86 13h1.25v1.25h-1.25zM88 21h1.25v1.25h-1.25zM81 24h1.25v1.25h-1.25zM62 33h1.25v1.25h-1.25zM57 34h1.25v1.25h-1.25zM60 38h1.25v1.25h-1.25zM62 40h1.25v1.25h-1.25z"/>
<path fill="#87bad8" d="M70 14h1.25v1.25h-1.25zM86 17h1.25v1.25h-1.25zM93 22h1.25v1.25h-1.25zM64 35h1.25v1.25h-1.25zM66 36h1.25v1.25h-1.25zM56 37h1.25v1.25h-1.25zM61 37h1.25v1.25h-1.25zM64 40h1.25v1.25h-1.25z"/>
<path fill="#87bdd8" d="M86 14h1.25v1.25h-1.25zM69 22h1.25v1.25h-1.25zM84 22h1.25v1.25h-1.25zM96 23h1.25v1.25h-1.25zM80 24h1.25v1.25h-1.25zM98 24h1.25v1.25h-1.25zM67 25h1.25v1.25h-1.25zM62 30h1.25v1.25h-1.25zM56 32h1.25v1.25h-1.25zM64 33h1.25v1.25h-1.25zM66 33h1.25v1.25h-1.25zM59 34h1.25v1.25h-1.25zM61 34h1.25v1.25h-1.25zM66 34h1.25v1.25h-1.25zM59 35h1.25v1.25h-1.25zM63 35h1.25v1.25h-1.25zM56 36h1.25v1.25h-1.25zM61 36h1.25v1.25h-1.25zM66 38h1.25v1.25h-1.25zM102 40h1.25v1.25h-1.25zM61 41h1.25v1.25h-1.25zM107 95h1v1.25h-1z"/>
<path fill="#81bad8" d="M97 14h1.25v1.25h-1.25z"/>
<path fill="#c31e27" d="M16 15h1.25v1.25h-1.25zM17 16h1.25v1.25h-1.25zM20 19h2.25v1.25h-2.25zM25 24h1.25v1.25h-1.25zM27 24h1.25v1.25h-1.25zM35 31h1.25v1.25h-1.25zM34 32h1.25v1.25h-1.25zM38 36h1.25v1.25h-1.25zM65 45h1.25v1.25h-1.25zM53 50h1.25v1.25h-1.25z"/>
<path fill="#ea5a39" d="M22 15h1.25v1.25h-1.25zM42 25h1.25v1.25h-1.25zM61 57h1.25v1.25h-1.25z"/>
<path fill="#8dc3db" d="M70 15h1.25v1.25h-1.25zM60 30h1.25v1.25h-1.25zM55 31h1.25v1.25h-1.25zM62 31h1.25v1.25h-1.25zM57 32h1.25v1.25h-1.25zM62 32h1.25v1.25h-1.25zM103 39h1.25v1.25h-1.25zM65 40h1.25v1.25h-1.25z"/>
<path fill="#84bad8" d="M86 15h1.25v1.25h-1.25zM86 16h1.25v1.25h-1.25zM69 21h1.25v1.25h-1.25zM96 22h1.25v1.25h-1.25zM69 23h1.25v1.25h-1.25zM84 23h1.25v1.25h-1.25zM93 23h1.25v1.25h-1.25zM78 24h1.25v1.25h-1.25zM77 25h1.25v1.25h-1.25zM80 25h1.25v1.25h-1.25zM83 25h1.25v1.25h-1.25zM95 25h1.25v1.25h-1.25zM99 25h1.25v1.25h-1.25zM58 27h1.25v1.25h-1.25zM82 27h1.25v1.25h-1.25zM99 27h1.25v1.25h-1.25zM91 28h1.25v1.25h-1.25zM60 33h2.25v1.25h-2.25zM62 34h1.25v1.25h-1.25zM55 35h1.25v1.25h-1.25zM57 35h1.25v1.25h-1.25zM61 35h2.25v1.25h-2.25zM55 37h1.25v1.25h-1.25zM60 37h1.25v1.25h-1.25zM102 37h1.25v1.25h-1.25zM56 38h1.25v1.25h-1.25zM63 39h2.25v1.25h-2.25zM66 39h1.25v1.25h-1.25zM59 40h2.25v1.25h-2.25zM55 43h1.25v1.25h-1.25zM57 43h1.25v1.25h-1.25z"/>
<path fill="#81b7d8" d="M97 15h1.25v1.25h-1.25zM70 17h1.25v1.25h-1.25zM86 18h1.25v1.25h-1.25zM96 21h1.25v1.25h-1.25zM84 24h1.25v1.25h-1.25zM74 25h1.25v1.25h-1.25zM94 25h1.25v1.25h-1.25zM107 25h1v1.25h-1zM60 35h1.25v1.25h-1.25zM57 36h1.25v1.25h-1.25zM63 36h2.25v1.25h-2.25zM57 37h1.25v1.25h-1.25zM63 37h1.25v1.25h-1.25zM57 38h1.25v1.25h-1.25zM61 38h2.25v1.25h-2.25zM57 39h1.25v1.25h-1.25zM61 42h2.25v1.25h-2.25zM64 42h1.25v1.25h-1.25zM66 42h1.25v1.25h-1.25zM62 43h1.25v1.25h-1.25zM107 98h1v1.25h-1z"/>
<path fill="#b40f27" d="M18 16h1.25v1.25h-1.25zM19 17h1.25v1.25h-1.25zM26 25h1.25v1.25h-1.25zM34 33h1.25v1.25h-1.25zM36 33h1.25v1.25h-1.25zM42 34h2.25v1.25h-2.25zM43 36h1.25v1.25h-1.25zM41 40h1.25v1.25h-1.25z"/>
<path fill="#ba1227" d="M19 16h1.25v1.25h-1.25zM43 35h1.25v1.25h-1.25zM42 37h1.25v1.25h-1.25zM43 42h1.25v1.25h-1.25z"/>
<path fill="#b1deea" d="M71 16h1.25v1.25h-1.25zM71 19h1.25v1.25h-1.25zM89 19h1.25v1.25h-1.25zM79 20h1.25v1.25h-1.25zM106 39h1.25v1.25h-1.25zM89 44h1.25v1.25h-1.25zM70 49h1.25v1.25h-1.25z"/>
<path fill="#abd8e7" d="M80 16h1.25v1.25h-1.25zM87 16h1.25v1.25h-1.25zM58 18h1.25v1.25h-1.25zM79 18h1.25v1.25h-1.25zM85 20h1.25v1.25h-1.25zM82 21h1.25v1.25h-1.25zM48 29h1.25v1.25h-1.25zM46 30h1.25v1.25h-1.25zM75 37h2.25v1.25h-2.25zM105 37h1.25v1.25h-1.25zM75 38h1.25v1.25h-1.25zM45 41h1.25v1.25h-1.25z"/>
<path fill="#a2d2e7" d="M81 16h1.25v1.25h-1.25zM95 16h1.25v1.25h-1.25zM98 19h1.25v1.25h-1.25zM73 20h1.25v1.25h-1.25zM79 22h2.25v1.25h-2.25zM99 23h1.25v1.25h-1.25zM90 26h1.25v1.25h-1.25zM55 27h1.25v1.25h-1.25zM54 34h1.25v1.25h-1.25zM50 35h1.25v1.25h-1.25zM45 36h1.25v1.25h-1.25zM44 38h1.25v1.25h-1.25zM104 39h1.25v1.25h-1.25zM90 41h1.25v1.25h-1.25z"/>
<path fill="#99cce1" d="M93 16h1.25v1.25h-1.25zM69 17h1.25v1.25h-1.25zM87 18h1.25v1.25h-1.25zM67 19h1.25v1.25h-1.25zM81 19h1.25v1.25h-1.25zM95 20h1.25v1.25h-1.25zM94 21h1.25v1.25h-1.25zM77 22h1.25v1.25h-1.25zM100 22h1.25v1.25h-1.25zM72 23h1.25v1.25h-1.25zM87 23h1.25v1.25h-1.25zM89 24h1.25v1.25h-1.25zM56 26h1.25v1.25h-1.25zM62 29h1.25v1.25h-1.25zM52 38h3.25v1.25h-3.25zM90 38h1.25v1.25h-1.25zM50 39h1.25v1.25h-1.25zM52 39h1.25v1.25h-1.25zM46 42h1.25v1.25h-1.25zM50 42h1.25v1.25h-1.25zM52 42h1.25v1.25h-1.25zM51 43h2.25v1.25h-2.25zM107 97h1v1.25h-1z"/>
<path fill="#7eb7d5" d="M97 16h1.25v1.25h-1.25zM70 19h1.25v1.25h-1.25zM88 22h1.25v1.25h-1.25zM88 24h1.25v1.25h-1.25zM81 25h1.25v1.25h-1.25zM72 28h1.25v1.25h-1.25zM56 35h1.25v1.25h-1.25zM66 37h1.25v1.25h-1.25zM63 38h2.25v1.25h-2.25z"/>
<path fill="#c31b27" d="M18 17h1.25v1.25h-1.25zM20 17h1.25v1.25h-1.25zM19 18h1.25v1.25h-1.25zM43 32h1.25v1.25h-1.25zM40 34h1.25v1.25h-1.25zM54 53h1.25v1.25h-1.25z"/>
<path fill="#a5d2e7" d="M74 17h1.25v1.25h-1.25zM81 17h1.25v1.25h-1.25zM94 18h1.25v1.25h-1.25zM107 19h1v1.25h-1zM82 20h1.25v1.25h-1.25zM60 27h1.25v1.25h-1.25zM54 30h1.25v1.25h-1.25zM50 31h2.25v1.25h-2.25zM102 32h1.25v1.25h-1.25zM48 33h1.25v1.25h-1.25zM52 33h1.25v1.25h-1.25zM45 35h1.25v1.25h-1.25zM46 37h1.25v1.25h-1.25zM105 38h1.25v1.25h-1.25zM106 40h1.25v1.25h-1.25z"/>
<path fill="#96c6de" d="M93 17h1.25v1.25h-1.25zM87 19h1.25v1.25h-1.25zM69 20h1.25v1.25h-1.25zM99 22h1.25v1.25h-1.25zM94 24h1.25v1.25h-1.25zM62 28h1.25v1.25h-1.25zM61 29h1.25v1.25h-1.25zM47 43h1.25v1.25h-1.25zM107 84h1v1.25h-1z"/>
<path fill="#81b7d5" d="M97 17h1.25v1.25h-1.25zM93 21h1.25v1.25h-1.25zM69 24h1.25v1.25h-1.25zM78 25h1.25v1.25h-1.25zM73 26h1.25v1.25h-1.25zM85 26h1.25v1.25h-1.25zM89 27h1.25v1.25h-1.25zM91 27h1.25v1.25h-1.25zM99 28h1.25v1.25h-1.25zM60 36h1.25v1.25h-1.25zM59 39h1.25v1.25h-1.25zM61 40h1.25v1.25h-1.25zM66 43h1.25v1.25h-1.25z"/>
<path fill="#c01b27" d="M20 18h1.25v1.25h-1.25zM24 23h1.25v1.25h-1.25zM26 24h1.25v1.25h-1.25zM41 33h1.25v1.25h-1.25zM40 38h1.25v1.25h-1.25z"/>
<path fill="#8dc3de" d="M69 18h1.25v1.25h-1.25zM96 20h1.25v1.25h-1.25zM102 39h1.25v1.25h-1.25z"/>
<path fill="#7eb4d5" d="M70 18h1.25v1.25h-1.25zM88 23h1.25v1.25h-1.25zM96 24h1.25v1.25h-1.25zM87 25h1.25v1.25h-1.25zM98 25h1.25v1.25h-1.25zM68 27h1.25v1.25h-1.25zM71 27h1.25v1.25h-1.25zM73 27h1.25v1.25h-1.25zM85 27h1.25v1.25h-1.25zM79 28h1.25v1.25h-1.25zM82 28h1.25v1.25h-1.25zM82 29h1.25v1.25h-1.25zM62 37h1.25v1.25h-1.25zM55 39h1.25v1.25h-1.25zM62 39h1.25v1.25h-1.25zM55 40h1.25v1.25h-1.25zM66 40h1.25v1.25h-1.25zM56 42h2.25v1.25h-2.25zM61 43h1.25v1.25h-1.25z"/>
<path fill="#9fd2e4" d="M77 18h1.25v1.25h-1.25zM68 22h1.25v1.25h-1.25zM57 27h1.25v1.25h-1.25zM51 39h1.25v1.25h-1.25z"/>
<path fill="#8dc0db" d="M84 18h1.25v1.25h-1.25zM78 22h1.25v1.25h-1.25zM81 22h1.25v1.25h-1.25zM83 22h1.25v1.25h-1.25zM67 23h1.25v1.25h-1.25zM77 23h1.25v1.25h-1.25zM80 23h1.25v1.25h-1.25zM98 23h1.25v1.25h-1.25zM74 24h1.25v1.25h-1.25zM77 24h1.25v1.25h-1.25zM92 24h1.25v1.25h-1.25zM95 24h1.25v1.25h-1.25zM107 24h1v1.25h-1zM73 25h1.25v1.25h-1.25zM89 25h1.25v1.25h-1.25zM91 25h1.25v1.25h-1.25zM59 30h1.25v1.25h-1.25zM59 31h1.25v1.25h-1.25zM60 32h1.25v1.25h-1.25zM64 32h1.25v1.25h-1.25zM59 33h1.25v1.25h-1.25zM55 34h1.25v1.25h-1.25zM63 34h1.25v1.25h-1.25zM103 36h1.25v1.25h-1.25zM65 38h1.25v1.25h-1.25zM55 41h1.25v1.25h-1.25zM59 41h1.25v1.25h-1.25zM66 41h1.25v1.25h-1.25zM90 42h1.25v1.25h-1.25z"/>
<path fill="#7bb4d5" d="M97 18h1.25v1.25h-1.25zM68 26h1.25v1.25h-1.25zM71 26h2.25v1.25h-2.25zM82 26h1.25v1.25h-1.25zM99 26h1.25v1.25h-1.25zM73 28h1.25v1.25h-1.25zM85 28h1.25v1.25h-1.25zM89 28h1.25v1.25h-1.25zM73 29h1.25v1.25h-1.25zM59 37h1.25v1.25h-1.25zM55 38h1.25v1.25h-1.25zM60 39h2.25v1.25h-2.25zM56 40h1.25v1.25h-1.25zM63 40h1.25v1.25h-1.25zM56 43h1.25v1.25h-1.25zM60 43h1.25v1.25h-1.25zM64 43h1.25v1.25h-1.25z"/>
<path fill="#fca25a" d="M26 19h1.25v1.25h-1.25zM39 23h1.25v1.25h-1.25zM103 44h1.25v1.25h-1.25zM76 49h1.25v1.25h-1.25zM101 51h1.25v1.25h-1.25zM68 53h1.25v1.25h-1.25zM71 53h1.25v1.25h-1.25zM65 56h1.25v1.25h-1.25zM74 56h1.25v1.25h-1.25zM74 60h1.25v1.25h-1.25zM76 61h1.25v1.25h-1.25zM77 65h1.25v1.25h-1.25zM106 65h1.25v1.25h-1.25z"/>
<path fill="#ffffc3" d="M39 19h1.25v1.25h-1.25z"/>
<path fill="#72abcf" d="M86 19h1.25v1.25h-1.25zM97 20h1.25v1.25h-1.25zM86 22h1.25v1.25h-1.25zM93 25h1.25v1.25h-1.25zM81 26h1.25v1.25h-1.25zM83 26h1.25v1.25h-1.25zM98 26h1.25v1.25h-1.25zM80 27h1.25v1.25h-1.25zM92 27h1.25v1.25h-1.25zM107 27h1v1.25h-1zM78 28h1.25v1.25h-1.25zM95 28h1.25v1.25h-1.25zM58 29h1.25v1.25h-1.25zM91 29h1.25v1.25h-1.25zM58 30h1.25v1.25h-1.25zM68 30h1.25v1.25h-1.25zM92 30h1.25v1.25h-1.25zM82 31h1.25v1.25h-1.25zM89 31h1.25v1.25h-1.25zM91 31h1.25v1.25h-1.25zM68 32h1.25v1.25h-1.25zM73 32h1.25v1.25h-1.25zM99 32h1.25v1.25h-1.25zM79 34h1.25v1.25h-1.25zM85 34h1.25v1.25h-1.25zM72 41h1.25v1.25h-1.25zM107 96h1v1.25h-1z"/>
<path fill="#78b1d2" d="M97 19h1.25v1.25h-1.25zM70 20h1.25v1.25h-1.25zM93 24h1.25v1.25h-1.25zM100 25h1.25v1.25h-1.25zM91 26h1.25v1.25h-1.25zM107 26h1v1.25h-1zM79 27h1.25v1.25h-1.25zM79 29h1.25v1.25h-1.25zM85 29h1.25v1.25h-1.25zM89 29h1.25v1.25h-1.25zM71 31h1.25v1.25h-1.25zM79 31h1.25v1.25h-1.25zM55 36h1.25v1.25h-1.25zM59 36h1.25v1.25h-1.25zM57 40h1.25v1.25h-1.25zM59 43h1.25v1.25h-1.25z"/>
<path fill="#7bb1d5" d="M86 20h1.25v1.25h-1.25zM58 28h1.25v1.25h-1.25zM59 38h1.25v1.25h-1.25zM56 39h1.25v1.25h-1.25zM59 42h1.25v1.25h-1.25z"/>
<path fill="#8ac0db" d="M93 20h1.25v1.25h-1.25zM84 21h1.25v1.25h-1.25zM74 23h1.25v1.25h-1.25zM94 23h1.25v1.25h-1.25zM67 24h1.25v1.25h-1.25zM72 25h1.25v1.25h-1.25zM55 30h1.25v1.25h-1.25zM57 31h1.25v1.25h-1.25zM60 31h1.25v1.25h-1.25zM63 31h1.25v1.25h-1.25zM63 32h1.25v1.25h-1.25zM63 33h1.25v1.25h-1.25zM103 40h1.25v1.25h-1.25zM102 42h1.25v1.25h-1.25zM107 90h1v1.25h-1z"/>
<path fill="#f67b4b" d="M25 21h1.25v1.25h-1.25zM104 51h1.25v1.25h-1.25zM101 52h1.25v1.25h-1.25zM60 53h1.25v1.25h-1.25z"/>
<path fill="#69a2cc" d="M70 21h1.25v1.25h-1.25zM88 25h1.25v1.25h-1.25zM100 27h1.25v1.25h-1.25zM94 28h1.25v1.25h-1.25zM78 29h1.25v1.25h-1.25zM94 29h1.25v1.25h-1.25zM74 31h1.25v1.25h-1.25zM100 31h1.25v1.25h-1.25zM79 33h1.25v1.25h-1.25zM91 33h1.25v1.25h-1.25zM72 34h1.25v1.25h-1.25zM73 35h1.25v1.25h-1.25zM89 35h1.25v1.25h-1.25zM82 36h1.25v1.25h-1.25zM58 41h1.25v1.25h-1.25z"/>
<path fill="#6fa5cc" d="M86 21h1.25v1.25h-1.25zM67 26h1.25v1.25h-1.25zM74 26h1.25v1.25h-1.25zM77 27h1.25v1.25h-1.25zM67 28h1.25v1.25h-1.25zM98 28h1.25v1.25h-1.25zM72 30h2.25v1.25h-2.25zM89 33h1.25v1.25h-1.25zM99 34h1.25v1.25h-1.25zM68 41h1.25v1.25h-1.25zM91 41h1.25v1.25h-1.25zM99 41h1.25v1.25h-1.25z"/>
<path fill="#72a8cf" d="M97 21h1.25v1.25h-1.25zM87 26h1.25v1.25h-1.25zM94 26h1.25v1.25h-1.25zM73 41h1.25v1.25h-1.25z"/>
<path fill="#6ca5cc" d="M70 22h1.25v1.25h-1.25zM96 25h1.25v1.25h-1.25zM94 27h1.25v1.25h-1.25zM68 28h1.25v1.25h-1.25zM107 28h1v1.25h-1zM81 29h1.25v1.25h-1.25zM83 30h1.25v1.25h-1.25zM98 31h1.25v1.25h-1.25zM79 32h1.25v1.25h-1.25zM89 32h1.25v1.25h-1.25zM91 32h1.25v1.25h-1.25zM58 33h1.25v1.25h-1.25zM71 33h1.25v1.25h-1.25zM99 33h1.25v1.25h-1.25zM68 34h1.25v1.25h-1.25zM71 34h1.25v1.25h-1.25zM85 35h1.25v1.25h-1.25zM72 36h1.25v1.25h-1.25zM71 37h1.25v1.25h-1.25zM89 41h1.25v1.25h-1.25z"/>
<path fill="#669cc9" d="M97 22h1.25v1.25h-1.25zM86 23h1.25v1.25h-1.25zM69 26h1.25v1.25h-1.25zM84 28h1.25v1.25h-1.25zM83 29h1.25v1.25h-1.25zM107 29h1v1.25h-1zM74 30h1.25v1.25h-1.25zM78 30h1.25v1.25h-1.25zM81 30h1.25v1.25h-1.25zM98 30h1.25v1.25h-1.25zM80 31h1.25v1.25h-1.25zM67 32h1.25v1.25h-1.25zM72 32h1.25v1.25h-1.25zM80 32h1.25v1.25h-1.25zM94 32h1.25v1.25h-1.25zM73 33h1.25v1.25h-1.25zM89 34h1.25v1.25h-1.25zM95 34h1.25v1.25h-1.25zM82 35h1.25v1.25h-1.25zM99 35h1.25v1.25h-1.25zM68 36h1.25v1.25h-1.25zM79 36h1.25v1.25h-1.25zM89 36h1.25v1.25h-1.25zM99 36h1.25v1.25h-1.25zM68 37h1.25v1.25h-1.25zM72 37h2.25v1.25h-2.25zM89 37h1.25v1.25h-1.25zM68 38h1.25v1.25h-1.25zM99 38h1.25v1.25h-1.25zM79 39h1.25v1.25h-1.25zM58 40h1.25v1.25h-1.25zM99 40h1.25v1.25h-1.25zM83 41h1.25v1.25h-1.25zM87 41h1.25v1.25h-1.25z"/>
<path fill="#d22d27" d="M25 23h1.25v1.25h-1.25zM27 23h1.25v1.25h-1.25zM29 26h2.25v1.25h-2.25zM32 27h1.25v1.25h-1.25zM34 30h1.25v1.25h-1.25zM76 48h1.25v1.25h-1.25z"/>
<path fill="#de3f30" d="M28 23h1.25v1.25h-1.25z"/>
<path fill="#6fa8cf" d="M70 23h1.25v1.25h-1.25zM84 25h1.25v1.25h-1.25zM80 26h1.25v1.25h-1.25zM95 26h1.25v1.25h-1.25zM67 27h1.25v1.25h-1.25zM78 27h1.25v1.25h-1.25zM81 27h1.25v1.25h-1.25zM71 28h1.25v1.25h-1.25zM77 28h1.25v1.25h-1.25zM77 29h1.25v1.25h-1.25zM87 29h1.25v1.25h-1.25zM100 29h1.25v1.25h-1.25zM79 30h1.25v1.25h-1.25zM91 30h1.25v1.25h-1.25zM58 31h1.25v1.25h-1.25zM72 31h1.25v1.25h-1.25zM58 32h1.25v1.25h-1.25zM82 32h1.25v1.25h-1.25zM85 32h1.25v1.25h-1.25zM85 33h1.25v1.25h-1.25zM82 34h1.25v1.25h-1.25zM71 41h1.25v1.25h-1.25zM82 41h1.25v1.25h-1.25zM85 41h1.25v1.25h-1.25z"/>
<path fill="#6399c6" d="M97 23h1.25v1.25h-1.25zM69 27h1.25v1.25h-1.25zM93 27h1.25v1.25h-1.25zM96 27h1.25v1.25h-1.25zM77 30h1.25v1.25h-1.25zM94 30h1.25v1.25h-1.25zM81 31h1.25v1.25h-1.25zM83 31h1.25v1.25h-1.25zM87 31h1.25v1.25h-1.25zM92 31h1.25v1.25h-1.25zM87 32h1.25v1.25h-1.25zM92 32h1.25v1.25h-1.25zM98 32h1.25v1.25h-1.25zM100 32h1.25v1.25h-1.25zM78 33h1.25v1.25h-1.25zM81 33h1.25v1.25h-1.25zM73 34h1.25v1.25h-1.25zM77 34h1.25v1.25h-1.25zM87 34h1.25v1.25h-1.25zM94 34h1.25v1.25h-1.25zM58 36h1.25v1.25h-1.25zM85 36h1.25v1.25h-1.25zM91 36h1.25v1.25h-1.25zM71 38h2.25v1.25h-2.25zM89 38h1.25v1.25h-1.25zM91 38h1.25v1.25h-1.25zM68 39h1.25v1.25h-1.25zM82 39h1.25v1.25h-1.25zM91 39h1.25v1.25h-1.25zM73 40h1.25v1.25h-1.25zM85 40h1.25v1.25h-1.25zM89 40h1.25v1.25h-1.25zM81 41h1.25v1.25h-1.25zM92 41h1.25v1.25h-1.25zM94 41h2.25v1.25h-2.25zM73 42h1.25v1.25h-1.25zM99 42h1.25v1.25h-1.25z"/>
<path fill="#db392d" d="M29 24h2.25v1.25h-2.25zM33 28h1.25v1.25h-1.25zM37 28h1.25v1.25h-1.25z"/>
<path fill="#e14230" d="M32 24h1.25v1.25h-1.25zM36 25h1.25v1.25h-1.25zM41 29h1.25v1.25h-1.25zM41 30h1.25v1.25h-1.25zM65 49h1.25v1.25h-1.25zM77 58h1.25v1.25h-1.25z"/>
<path fill="#ed5a3c" d="M33 24h1.25v1.25h-1.25z"/>
<path fill="#ea5a3c" d="M37 24h1.25v1.25h-1.25zM40 39h1.25v1.25h-1.25zM64 53h1.25v1.25h-1.25zM84 78h1.25v1.25h-1.25z"/>
<path fill="#669fc9" d="M70 24h1.25v1.25h-1.25zM92 29h1.25v1.25h-1.25zM80 30h1.25v1.25h-1.25zM67 31h1.25v1.25h-1.25zM77 31h1.25v1.25h-1.25zM58 35h1.25v1.25h-1.25zM71 35h1.25v1.25h-1.25zM85 37h1.25v1.25h-1.25zM85 38h1.25v1.25h-1.25zM73 39h1.25v1.25h-1.25zM100 41h1.25v1.25h-1.25z"/>
<path fill="#6096c6" d="M86 24h1.25v1.25h-1.25zM84 26h1.25v1.25h-1.25zM93 26h1.25v1.25h-1.25zM69 28h1.25v1.25h-1.25zM88 28h1.25v1.25h-1.25zM95 30h2.25v1.25h-2.25zM107 31h1v1.25h-1zM107 32h1v1.25h-1zM80 33h1.25v1.25h-1.25zM98 33h1.25v1.25h-1.25zM83 34h1.25v1.25h-1.25zM92 34h1.25v1.25h-1.25zM83 35h1.25v1.25h-1.25zM87 36h1.25v1.25h-1.25zM82 37h1.25v1.25h-1.25zM79 38h1.25v1.25h-1.25zM58 39h1.25v1.25h-1.25zM72 39h1.25v1.25h-1.25zM85 39h1.25v1.25h-1.25zM79 40h1.25v1.25h-1.25zM91 40h1.25v1.25h-1.25zM74 41h1.25v1.25h-1.25zM68 42h1.25v1.25h-1.25zM82 42h1.25v1.25h-1.25zM85 42h1.25v1.25h-1.25zM99 43h1.25v1.25h-1.25z"/>
<path fill="#5d93c3" d="M97 24h1.25v1.25h-1.25zM96 26h1.25v1.25h-1.25zM67 33h1.25v1.25h-1.25zM74 33h1.25v1.25h-1.25zM92 33h1.25v1.25h-1.25zM107 33h1v1.25h-1zM74 35h1.25v1.25h-1.25zM87 35h1.25v1.25h-1.25zM81 37h1.25v1.25h-1.25zM87 37h1.25v1.25h-1.25zM81 38h1.25v1.25h-1.25zM67 39h1.25v1.25h-1.25zM99 39h1.25v1.25h-1.25zM82 40h1.25v1.25h-1.25zM69 41h1.25v1.25h-1.25zM58 42h1.25v1.25h-1.25zM73 43h1.25v1.25h-1.25zM85 43h1.25v1.25h-1.25zM91 43h1.25v1.25h-1.25z"/>
<path fill="#8abddb" d="M100 24h1.25v1.25h-1.25zM68 25h1.25v1.25h-1.25zM71 25h1.25v1.25h-1.25zM79 25h1.25v1.25h-1.25zM92 25h1.25v1.25h-1.25zM59 32h1.25v1.25h-1.25zM56 33h2.25v1.25h-2.25zM60 34h1.25v1.25h-1.25zM64 34h1.25v1.25h-1.25zM66 35h1.25v1.25h-1.25zM64 37h1.25v1.25h-1.25zM103 37h1.25v1.25h-1.25zM63 42h1.25v1.25h-1.25zM103 42h1.25v1.25h-1.25zM107 80h1v1.25h-1zM107 83h1v1.25h-1z"/>
<path fill="#c01827" d="M27 25h1.25v1.25h-1.25zM36 31h1.25v1.25h-1.25zM37 32h1.25v1.25h-1.25zM41 37h1.25v1.25h-1.25z"/>
<path fill="#f06942" d="M38 25h1.25v1.25h-1.25z"/>
<path fill="#78aed2" d="M69 25h1.25v1.25h-1.25zM58 26h1.25v1.25h-1.25zM79 26h1.25v1.25h-1.25zM72 27h1.25v1.25h-1.25zM71 29h2.25v1.25h-2.25zM99 29h1.25v1.25h-1.25zM55 42h1.25v1.25h-1.25zM63 43h1.25v1.25h-1.25z"/>
<path fill="#6093c3" d="M70 25h1.25v1.25h-1.25zM84 27h1.25v1.25h-1.25zM78 32h1.25v1.25h-1.25zM95 32h1.25v1.25h-1.25zM94 33h1.25v1.25h-1.25zM67 34h1.25v1.25h-1.25zM100 34h1.25v1.25h-1.25zM107 34h1v1.25h-1zM79 35h1.25v1.25h-1.25zM100 35h1.25v1.25h-1.25zM80 36h1.25v1.25h-1.25zM82 38h1.25v1.25h-1.25zM89 39h1.25v1.25h-1.25zM71 40h1.25v1.25h-1.25zM71 42h1.25v1.25h-1.25zM71 43h1.25v1.25h-1.25z"/>
<path fill="#5d90c3" d="M86 25h1.25v1.25h-1.25zM88 27h1.25v1.25h-1.25zM93 28h1.25v1.25h-1.25zM77 32h1.25v1.25h-1.25zM81 32h1.25v1.25h-1.25zM83 33h1.25v1.25h-1.25zM95 33h1.25v1.25h-1.25zM100 33h1.25v1.25h-1.25zM80 34h1.25v1.25h-1.25zM95 35h1.25v1.25h-1.25zM98 35h1.25v1.25h-1.25zM74 36h1.25v1.25h-1.25zM80 38h1.25v1.25h-1.25zM95 38h1.25v1.25h-1.25zM98 38h1.25v1.25h-1.25zM81 39h1.25v1.25h-1.25zM72 40h1.25v1.25h-1.25zM88 41h1.25v1.25h-1.25zM96 41h1.25v1.25h-1.25zM91 42h1.25v1.25h-1.25z"/>
<path fill="#578dc0" d="M97 25h1.25v1.25h-1.25zM88 30h1.25v1.25h-1.25zM93 30h1.25v1.25h-1.25zM74 38h1.25v1.25h-1.25zM95 39h1.25v1.25h-1.25zM74 42h1.25v1.25h-1.25zM87 42h1.25v1.25h-1.25z"/>
<path fill="#487bb7" d="M70 26h1.25v1.25h-1.25zM69 35h1.25v1.25h-1.25zM93 35h1.25v1.25h-1.25zM84 39h1.25v1.25h-1.25zM74 43h1.25v1.25h-1.25z"/>
<path fill="#75aed2" d="M77 26h2.25v1.25h-2.25zM89 26h1.25v1.25h-1.25zM92 26h1.25v1.25h-1.25zM100 26h1.25v1.25h-1.25zM83 27h1.25v1.25h-1.25zM87 27h1.25v1.25h-1.25zM95 27h1.25v1.25h-1.25zM98 27h1.25v1.25h-1.25zM74 28h1.25v1.25h-1.25zM92 28h1.25v1.25h-1.25zM68 29h1.25v1.25h-1.25zM85 30h1.25v1.25h-1.25zM89 30h1.25v1.25h-1.25zM99 30h1.25v1.25h-1.25zM68 31h1.25v1.25h-1.25zM73 31h1.25v1.25h-1.25zM99 31h1.25v1.25h-1.25zM79 41h1.25v1.25h-1.25zM60 42h1.25v1.25h-1.25z"/>
<path fill="#4878b7" d="M86 26h1.25v1.25h-1.25zM86 28h1.25v1.25h-1.25zM69 34h1.25v1.25h-1.25zM88 34h1.25v1.25h-1.25zM96 37h1.25v1.25h-1.25zM96 39h1.25v1.25h-1.25zM88 40h1.25v1.25h-1.25zM93 40h1.25v1.25h-1.25z"/>
<path fill="#6396c6" d="M88 26h1.25v1.25h-1.25zM94 31h1.25v1.25h-1.25zM78 36h1.25v1.25h-1.25zM79 37h1.25v1.25h-1.25zM68 40h1.25v1.25h-1.25zM98 41h1.25v1.25h-1.25zM58 43h1.25v1.25h-1.25zM72 43h1.25v1.25h-1.25zM82 43h1.25v1.25h-1.25z"/>
<path fill="#4575b4" d="M97 26h1.25v1.25h-1.25zM86 31h1.25v1.25h-1.25zM93 36h1.25v1.25h-1.25zM88 38h1.25v1.25h-1.25zM88 39h1.25v1.25h-1.25zM93 39h1.25v1.25h-1.25zM69 40h1.25v1.25h-1.25zM84 40h1.25v1.25h-1.25zM96 40h1.25v1.25h-1.25zM70 41h1.25v1.25h-1.25zM69 43h1.25v1.25h-1.25zM96 43h1.25v1.25h-1.25z"/>
<path fill="#578abd" d="M70 27h1.25v1.25h-1.25zM94 35h1.25v1.25h-1.25zM77 36h1.25v1.25h-1.25zM74 37h1.25v1.25h-1.25zM98 37h1.25v1.25h-1.25z"/>
<path fill="#6ca2cc" d="M74 27h1.25v1.25h-1.25zM87 28h1.25v1.25h-1.25zM67 29h1.25v1.25h-1.25zM80 29h1.25v1.25h-1.25zM95 29h1.25v1.25h-1.25zM71 30h1.25v1.25h-1.25zM100 30h1.25v1.25h-1.25zM68 33h1.25v1.25h-1.25zM72 33h1.25v1.25h-1.25zM58 34h1.25v1.25h-1.25zM91 34h1.25v1.25h-1.25z"/>
<path fill="#4b7bb7" d="M86 27h1.25v1.25h-1.25zM69 33h1.25v1.25h-1.25zM69 36h1.25v1.25h-1.25zM84 36h1.25v1.25h-1.25zM69 37h1.25v1.25h-1.25zM84 38h1.25v1.25h-1.25zM84 42h1.25v1.25h-1.25zM107 43h1v1.25h-1z"/>
<path fill="#4b7eb7" d="M97 27h1.25v1.25h-1.25zM70 28h1.25v1.25h-1.25zM97 29h1.25v1.25h-1.25zM96 35h1.25v1.25h-1.25zM88 37h1.25v1.25h-1.25zM69 38h1.25v1.25h-1.25zM83 39h1.25v1.25h-1.25z"/>
<path fill="#d2eaf3" d="M106 27h1.25v1.25h-1.25zM92 44h1.25v1.25h-1.25zM93 52h1.25v1.25h-1.25z"/>
<path fill="#b71227" d="M29 28h1.25v1.25h-1.25zM36 32h1.25v1.25h-1.25zM35 33h1.25v1.25h-1.25zM37 33h1.25v1.25h-1.25zM43 33h1.25v1.25h-1.25zM38 34h1.25v1.25h-1.25zM41 34h1.25v1.25h-1.25zM37 35h1.25v1.25h-1.25zM42 36h1.25v1.25h-1.25zM43 37h1.25v1.25h-1.25z"/>
<path fill="#bd1527" d="M30 28h2.25v1.25h-2.25zM32 30h1.25v1.25h-1.25zM35 32h1.25v1.25h-1.25zM42 38h1.25v1.25h-1.25z"/>
<path fill="#6fa5cf" d="M80 28h1.25v1.25h-1.25zM83 28h1.25v1.25h-1.25zM82 30h1.25v1.25h-1.25z"/>
<path fill="#699fc9" d="M81 28h1.25v1.25h-1.25zM100 28h1.25v1.25h-1.25zM74 29h1.25v1.25h-1.25zM98 29h1.25v1.25h-1.25zM87 30h1.25v1.25h-1.25zM107 30h1v1.25h-1zM78 31h1.25v1.25h-1.25zM85 31h1.25v1.25h-1.25zM95 31h1.25v1.25h-1.25zM71 32h1.25v1.25h-1.25zM82 33h1.25v1.25h-1.25zM68 35h1.25v1.25h-1.25zM72 35h1.25v1.25h-1.25zM91 35h1.25v1.25h-1.25zM71 36h1.25v1.25h-1.25zM73 36h1.25v1.25h-1.25zM58 37h1.25v1.25h-1.25zM91 37h1.25v1.25h-1.25zM99 37h1.25v1.25h-1.25zM58 38h1.25v1.25h-1.25zM73 38h1.25v1.25h-1.25zM71 39h1.25v1.25h-1.25zM67 41h1.25v1.25h-1.25zM77 41h2.25v1.25h-2.25zM80 41h1.25v1.25h-1.25z"/>
<path fill="#5a90c3" d="M96 28h1.25v1.25h-1.25zM69 30h1.25v1.25h-1.25zM78 34h1.25v1.25h-1.25zM78 35h1.25v1.25h-1.25zM83 36h1.25v1.25h-1.25zM98 36h1.25v1.25h-1.25zM77 37h1.25v1.25h-1.25zM83 37h1.25v1.25h-1.25zM92 37h1.25v1.25h-1.25zM83 38h1.25v1.25h-1.25zM72 42h1.25v1.25h-1.25z"/>
<path fill="#5487bd" d="M97 28h1.25v1.25h-1.25zM84 32h1.25v1.25h-1.25zM93 32h1.25v1.25h-1.25zM96 32h1.25v1.25h-1.25zM84 34h1.25v1.25h-1.25zM94 38h1.25v1.25h-1.25zM87 39h1.25v1.25h-1.25zM92 39h1.25v1.25h-1.25zM98 39h1.25v1.25h-1.25zM87 40h1.25v1.25h-1.25zM92 40h1.25v1.25h-1.25zM107 40h1v1.25h-1zM84 41h1.25v1.25h-1.25zM93 41h1.25v1.25h-1.25zM78 42h1.25v1.25h-1.25zM92 42h1.25v1.25h-1.25zM98 42h1.25v1.25h-1.25zM107 42h1v1.25h-1zM81 43h1.25v1.25h-1.25zM87 43h1.25v1.25h-1.25zM92 43h1.25v1.25h-1.25zM95 43h1.25v1.25h-1.25zM100 43h1.25v1.25h-1.25z"/>
<path fill="#b70f27" d="M30 29h1.25v1.25h-1.25z"/>
<path fill="#b10c27" d="M31 29h1.25v1.25h-1.25zM36 34h2.25v1.25h-2.25zM37 36h1.25v1.25h-1.25zM38 37h1.25v1.25h-1.25zM59 53h1.25v1.25h-1.25zM59 58h1.25v1.25h-1.25zM69 58h1.25v1.25h-1.25zM61 60h1.25v1.25h-1.25z"/>
<path fill="#ba1527" d="M32 29h1.25v1.25h-1.25zM32 31h1.25v1.25h-1.25zM42 33h1.25v1.25h-1.25zM35 34h1.25v1.25h-1.25zM42 35h1.25v1.25h-1.25zM43 38h1.25v1.25h-1.25zM42 41h1.25v1.25h-1.25z"/>
<path fill="#578ac0" d="M69 29h1.25v1.25h-1.25zM84 31h1.25v1.25h-1.25zM88 31h1.25v1.25h-1.25zM77 35h1.25v1.25h-1.25zM92 35h1.25v1.25h-1.25zM107 35h1v1.25h-1zM67 36h1.25v1.25h-1.25zM81 36h1.25v1.25h-1.25zM94 36h1.25v1.25h-1.25zM107 36h1v1.25h-1zM80 37h1.25v1.25h-1.25zM94 37h2.25v1.25h-2.25zM107 37h1v1.25h-1zM67 38h1.25v1.25h-1.25zM77 38h1.25v1.25h-1.25zM107 38h1v1.25h-1zM77 40h1.25v1.25h-1.25zM81 40h1.25v1.25h-1.25zM98 40h1.25v1.25h-1.25zM81 42h1.25v1.25h-1.25zM78 43h2.25v1.25h-2.25zM94 43h1.25v1.25h-1.25zM98 43h1.25v1.25h-1.25z"/>
<path fill="#4878b4" d="M70 29h1.25v1.25h-1.25zM86 29h1.25v1.25h-1.25zM97 30h1.25v1.25h-1.25zM96 36h1.25v1.25h-1.25zM86 41h1.25v1.25h-1.25zM93 42h1.25v1.25h-1.25zM96 42h1.25v1.25h-1.25zM93 43h1.25v1.25h-1.25z"/>
<path fill="#5a8dc0" d="M84 29h1.25v1.25h-1.25zM93 29h1.25v1.25h-1.25zM96 29h1.25v1.25h-1.25zM69 32h1.25v1.25h-1.25zM74 32h1.25v1.25h-1.25zM77 33h1.25v1.25h-1.25zM87 33h1.25v1.25h-1.25zM67 35h1.25v1.25h-1.25zM81 35h1.25v1.25h-1.25zM95 36h1.25v1.25h-1.25zM100 37h1.25v1.25h-1.25zM87 38h1.25v1.25h-1.25zM100 38h1.25v1.25h-1.25zM80 39h1.25v1.25h-1.25zM107 39h1v1.25h-1zM80 40h1.25v1.25h-1.25zM83 40h1.25v1.25h-1.25zM94 40h1.25v1.25h-1.25zM77 42h1.25v1.25h-1.25zM79 42h1.25v1.25h-1.25zM94 42h1.25v1.25h-1.25zM77 43h1.25v1.25h-1.25zM80 43h1.25v1.25h-1.25zM89 43h1.25v1.25h-1.25z"/>
<path fill="#5a90c0" d="M88 29h1.25v1.25h-1.25zM74 34h1.25v1.25h-1.25zM81 34h1.25v1.25h-1.25zM78 37h1.25v1.25h-1.25zM94 39h1.25v1.25h-1.25zM74 40h1.25v1.25h-1.25zM107 41h1v1.25h-1zM68 43h1.25v1.25h-1.25z"/>
<path fill="#ae0627" d="M31 30h1.25v1.25h-1.25z"/>
<path fill="#6096c3" d="M67 30h1.25v1.25h-1.25zM98 34h1.25v1.25h-1.25zM78 38h1.25v1.25h-1.25zM89 42h1.25v1.25h-1.25z"/>
<path fill="#3f66ae" d="M70 30h1.25v1.25h-1.25z"/>
<path fill="#5184bd" d="M84 30h1.25v1.25h-1.25zM96 34h1.25v1.25h-1.25zM88 35h1.25v1.25h-1.25zM92 36h1.25v1.25h-1.25zM100 36h1.25v1.25h-1.25zM74 39h1.25v1.25h-1.25zM78 39h1.25v1.25h-1.25z"/>
<path fill="#426cae" d="M86 30h1.25v1.25h-1.25zM70 31h1.25v1.25h-1.25zM97 32h1.25v1.25h-1.25zM86 34h1.25v1.25h-1.25z"/>
<path fill="#5184ba" d="M69 31h1.25v1.25h-1.25zM96 31h1.25v1.25h-1.25zM84 37h1.25v1.25h-1.25zM67 40h1.25v1.25h-1.25zM100 40h1.25v1.25h-1.25zM95 42h1.25v1.25h-1.25z"/>
<path fill="#4e81ba" d="M93 31h1.25v1.25h-1.25zM88 33h1.25v1.25h-1.25zM96 33h1.25v1.25h-1.25zM84 35h1.25v1.25h-1.25zM92 38h1.25v1.25h-1.25zM77 39h1.25v1.25h-1.25zM100 39h1.25v1.25h-1.25zM78 40h1.25v1.25h-1.25zM83 42h1.25v1.25h-1.25zM67 43h1.25v1.25h-1.25z"/>
<path fill="#4266ae" d="M97 31h1.25v1.25h-1.25z"/>
<path fill="#3f63ab" d="M70 32h1.25v1.25h-1.25zM70 33h1.25v1.25h-1.25zM86 33h1.25v1.25h-1.25zM70 35h1.25v1.25h-1.25zM70 36h1.25v1.25h-1.25zM97 36h1.25v1.25h-1.25zM70 37h1.25v1.25h-1.25z"/>
<path fill="#669cc6" d="M83 32h1.25v1.25h-1.25z"/>
<path fill="#456fb1" d="M86 32h1.25v1.25h-1.25z"/>
<path fill="#5484bd" d="M88 32h1.25v1.25h-1.25zM80 35h1.25v1.25h-1.25zM67 42h1.25v1.25h-1.25zM100 42h1.25v1.25h-1.25zM83 43h1.25v1.25h-1.25z"/>
<path fill="#f37245" d="M39 33h1.25v1.25h-1.25z"/>
<path fill="#5181ba" d="M84 33h1.25v1.25h-1.25zM93 33h1.25v1.25h-1.25zM88 36h1.25v1.25h-1.25zM93 37h1.25v1.25h-1.25zM69 39h1.25v1.25h-1.25zM95 40h1.25v1.25h-1.25zM80 42h1.25v1.25h-1.25z"/>
<path fill="#4269ae" d="M97 33h1.25v1.25h-1.25zM97 34h1.25v1.25h-1.25z"/>
<path fill="#96c9de" d="M102 33h1.25v1.25h-1.25z"/>
<path fill="#3f5da8" d="M70 34h1.25v1.25h-1.25zM70 39h1.25v1.25h-1.25zM86 43h1.25v1.25h-1.25z"/>
<path fill="#4e7eba" d="M93 34h1.25v1.25h-1.25zM67 37h1.25v1.25h-1.25z"/>
<path fill="#b10927" d="M36 35h1.25v1.25h-1.25z"/>
<path fill="#3f60ab" d="M86 35h1.25v1.25h-1.25zM86 37h1.25v1.25h-1.25zM97 37h1.25v1.25h-1.25z"/>
<path fill="#3f60a8" d="M97 35h1.25v1.25h-1.25zM86 42h1.25v1.25h-1.25z"/>
<path fill="#3c5aa8" d="M86 36h1.25v1.25h-1.25zM70 38h1.25v1.25h-1.25z"/>
<path fill="#3c57a5" d="M86 38h1.25v1.25h-1.25zM70 42h1.25v1.25h-1.25zM97 42h1.25v1.25h-1.25zM97 43h1.25v1.25h-1.25z"/>
<path fill="#4572b4" d="M93 38h1.25v1.25h-1.25zM88 42h1.25v1.25h-1.25zM88 43h1.25v1.25h-1.25z"/>
<path fill="#4578b4" d="M96 38h1.25v1.25h-1.25z"/>
<path fill="#3c54a5" d="M97 38h1.25v1.25h-1.25zM97 39h1.25v1.25h-1.25z"/>
<path fill="#f36f42" d="M43 39h1.25v1.25h-1.25zM105 48h1.25v1.25h-1.25zM90 86h1.25v1.25h-1.25z"/>
<path fill="#3c5aa5" d="M86 39h1.25v1.25h-1.25zM97 40h1.25v1.25h-1.25z"/>
<path fill="#3c5da8" d="M70 40h1.25v1.25h-1.25z"/>
<path fill="#3951a2" d="M86 40h1.25v1.25h-1.25zM70 43h1.25v1.25h-1.25z"/>
<path fill="#4572b1" d="M97 41h1.25v1.25h-1.25zM84 43h1.25v1.25h-1.25z"/>
<path fill="#426fb1" d="M69 42h1.25v1.25h-1.25z"/>
<path fill="#f0693f" d="M105 44h1.25v1.25h-1.25z"/>
<path fill="#fcba6f" d="M95 53h1.25v1.25h-1.25zM65 61h1.25v1.25h-1.25z"/>
<path fill="#ed603f" d="M62 61h1.25v1.25h-1.25z"/>
<path fill="#bde4f0" d="M98 92h1.25v1.25h-1.25z"/>
</g>
<g transform="translate(51.200 448.2) scale(3.0520 1)">
<rect x="0" y="0" width="1.3" height="7.8" fill="#1b9e77"/>
<rect x="1" y="0" width="1.3" height="7.8" fill="#1b9e77"/>
<rect x="2" y="0" width="1.3" height="7.8" fill="#d95f02"/>
<rect x="3" y="0" width="1.3" height="7.8" fill="#d95f02"/>
<rect x="4" y="0" width="1.3" height="7.8" fill="#d95f02"/>
<rect x="5" y="0" width="1.3" height="7.8" fill="#d95f02"/>
<rect x="6" y="0" width="1.3" height="7.8" fill="#d95f02"/>
<rect x="7" y="0" width="1.3" height="7.8" fill="#d95f02"/>
<rect x="8" y="0" width="1.3" height="7.8" fill="#d95f02"/>
<rect x="9" y="0" width="1.3" height="7.8" fill="#d95f02"/>
<rect x="10" y="0" width="1.3" height="7.8" fill="#d95f02"/>
<rect x="11" y="0" width="1.3" height="7.8" fill="#d95f02"/>
<rect x="12" y="0" width="1.3" height="7.8" fill="#d95f02"/>
<rect x="13" y="0" width="1.3" height="7.8" fill="#d95f02"/>
<rect x="14" y="0" width="1.3" height="7.8" fill="#d95f02"/>
<rect x="15" y="0" width="1.3" height="7.8" fill="#d95f02"/>
<rect x="16" y="0" width="1.3" height="7.8" fill="#d95f02"/>
<rect x="17" y="0" width="1.3" height="7.8" fill="#d95f02"/>
<rect x="18" y="0" width="1.3" height="7.8" fill="#d95f02"/>
<rect x="19" y="0" width="1.3" height="7.8" fill="#d95f02"/>
<rect x="20" y="0" width="1.3" height="7.8" fill="#d95f02"/>
<rect x="21" y="0" width="1.3" height="7.8" fill="#d95f02"/>
<rect x="22" y="0" width="1.3" height="7.8" fill="#d95f02"/>
<rect x="23" y="0" width="1.3" height="7.8" fill="#d95f02"/>
<rect x="24" y="0" width="1.3" height="7.8" fill="#d95f02"/>
<rect x="25" y="0" width="1.3" height="7.8" fill="#d95f02"/>
<rect x="26" y="0" width="1.3" height="7.8" fill="#d95f02"/>
<rect x="27" y="0" width="1.3" height="7.8" fill="#d95f02"/>
<rect x="28" y="0" width="1.3" height="7.8" fill="#d95f02"/>
<rect x="29" y="0" width="1.3" height="7.8" fill="#d95f02"/>
<rect x="30" y="0" width="1.3" height="7.8" fill="#d95f02"/>
<rect x="31" y="0" width="1.3" height="7.8" fill="#d95f02"/>
<rect x="32" y="0" width="1.3" height="7.8" fill="#d95f02"/>
<rect x="33" y="0" width="1.3" height="7.8" fill="#d95f02"/>
<rect x="34" y="0" width="1.3" height="7.8" fill="#d95f02"/>
<rect x="35" y="0" width="1.3" height="7.8" fill="#d95f02"/>
<rect x="36" y="0" width="1.3" height="7.8" fill="#d95f02"/>
<rect x="37" y="0" width="1.3" height="7.8" fill="#d95f02"/>
<rect x="38" y="0" width="1.3" height="7.8" fill="#d95f02"/>
<rect x="39" y="0" width="1.3" height="7.8" fill="#d95f02"/>
<rect x="40" y="0" width="1.3" height="7.8" fill="#d95f02"/>
<rect x="41" y="0" width="1.3" height="7.8" fill="#d95f02"/>
<rect x="42" y="0" width="1.3" height="7.8" fill="#d95f02"/>
<rect x="43" y="0" width="1.3" height="7.8" fill="#d95f02"/>
<rect x="44" y="0" width="1.3" height="7.8" fill="#7570b3"/>
<rect x="45" y="0" width="1.3" height="7.8" fill="#7570b3"/>
<rect x="46" y="0" width="1.3" height="7.8" fill="#7570b3"/>
<rect x="47" y="0" width="1.3" height="7.8" fill="#7570b3"/>
<rect x="48" y="0" width="1.3" height="7.8" fill="#7570b3"/>
<rect x="49" y="0" width="1.3" height="7.8" fill="#7570b3"/>
<rect x="50" y="0" width="1.3" height="7.8" fill="#7570b3"/>
<rect x="51" y="0" width="1.3" height="7.8" fill="#7570b3"/>
<rect x="52" y="0" width="1.3" height="7.8" fill="#7570b3"/>
<rect x="53" y="0" width="1.3" height="7.8" fill="#7570b3"/>
<rect x="54" y="0" width="1.3" height="7.8" fill="#7570b3"/>
<rect x="55" y="0" width="1.3" height="7.8" fill="#7570b3"/>
<rect x="56" y="0" width="1.3" height="7.8" fill="#7570b3"/>
<rect x="57" y="0" width="1.3" height="7.8" fill="#7570b3"/>
<rect x="58" y="0" width="1.3" height="7.8" fill="#7570b3"/>
<rect x="59" y="0" width="1.3" height="7.8" fill="#7570b3"/>
<rect x="60" y="0" width="1.3" height="7.8" fill="#7570b3"/>
<rect x="61" y="0" width="1.3" height="7.8" fill="#7570b3"/>
<rect x="62" y="0" width="1.3" height="7.8" fill="#7570b3"/>
<rect x="63" y="0" width="1.3" height="7.8" fill="#7570b3"/>
<rect x="64" y="0" width="1.3" height="7.8" fill="#7570b3"/>
<rect x="65" y="0" width="1.3" height="7.8" fill="#7570b3"/>
<rect x="66" y="0" width="1.3" height="7.8" fill="#7570b3"/>
<rect x="67" y="0" width="1.3" height="7.8" fill="#7570b3"/>
<rect x="68" y="0" width="1.3" height="7.8" fill="#7570b3"/>
<rect x="69" y="0" width="1.3" height="7.8" fill="#7570b3"/>
<rect x="70" y="0" width="1.3" height="7.8" fill="#7570b3"/>
<rect x="71" y="0" width="1.3" height="7.8" fill="#7570b3"/>
<rect x="72" y="0" width="1.3" height="7.8" fill="#7570b3"/>
<rect x="73" y="0" width="1.3" height="7.8" fill="#7570b3"/>
<rect x="74" y="0" width="1.3" height="7.8" fill="#7570b3"/>
<rect x="75" y="0" width="1.3" height="7.8" fill="#7570b3"/>
<rect x="76" y="0" width="1.3" height="7.8" fill="#7570b3"/>
<rect x="77" y="0" width="1.3" height="7.8" fill="#7570b3"/>
<rect x="78" y="0" width="1.3" height="7.8" fill="#7570b3"/>
<rect x="79" y="0" width="1.3" height="7.8" fill="#7570b3"/>
<rect x="80" y="0" width="1.3" height="7.8" fill="#7570b3"/>
<rect x="81" y="0" width="1.3" height="7.8" fill="#7570b3"/>
<rect x="82" y="0" width="1.3" height="7.8" fill="#7570b3"/>
<rect x="83" y="0" width="1.3" height="7.8" fill="#7570b3"/>
<rect x="84" y="0" width="1.3" height="7.8" fill="#7570b3"/>
<rect x="85" y="0" width="1.3" height="7.8" fill="#7570b3"/>
<rect x="86" y="0" width="1.3" height="7.8" fill="#7570b3"/>
<rect x="87" y="0" width="1.3" height="7.8" fill="#7570b3"/>
<rect x="88" y="0" width="1.3" height="7.8" fill="#7570b3"/>
<rect x="89" y="0" width="1.3" height="7.8" fill="#7570b3"/>
<rect x="90" y="0" width="1.3" height="7.8" fill="#7570b3"/>
<rect x="91" y="0" width="1.3" height="7.8" fill="#7570b3"/>
<rect x="92" y="0" width="1.3" height="7.8" fill="#7570b3"/>
<rect x="93" y="0" width="1.3" height="7.8" fill="#7570b3"/>
<rect x="94" y="0" width="1.3" height="7.8" fill="#7570b3"/>
<rect x="95" y="0" width="1.3" height="7.8" fill="#7570b3"/>
<rect x="96" y="0" width="1.3" height="7.8" fill="#7570b3"/>
<rect x="97" y="0" width="1.3" height="7.8" fill="#7570b3"/>
<rect x="98" y="0" width="1.3" height="7.8" fill="#7570b3"/>
<rect x="99" y="0" width="1.3" height="7.8" fill="#7570b3"/>
<rect x="100" y="0" width="1.3" height="7.8" fill="#7570b3"/>
<rect x="101" y="0" width="1.3" height="7.8" fill="#e7298a"/>
<rect x="102" y="0" width="1.3" height="7.8" fill="#e7298a"/>
<rect x="103" y="0" width="1.3" height="7.8" fill="#e7298a"/>
<rect x="104" y="0" width="1.3" height="7.8" fill="#66a61e"/>
<rect x="105" y="0" width="1.3" height="7.8" fill="#e6ab02"/>
<rect x="106" y="0" width="1.3" height="7.8" fill="#e6ab02"/>
<rect x="107" y="0" width="1" height="7.8" fill="#a6761d"/>
<rect x="0" y="8.8" width="1.3" height="7.4" fill="#2166ac"/>
<rect x="1" y="8.8" width="1.3" height="7.4" fill="#3b88bd"/>
<rect x="2" y="8.8" width="1.3" height="7.4" fill="#6bacd1"/>
<rect x="3" y="8.8" width="1.3" height="7.4" fill="#7db8d7"/>
<rect x="4" y="8.8" width="1.3" height="7.4" fill="#8ec3dd"/>
<rect x="5" y="8.8" width="1.3" height="7.4" fill="#9dcbe1"/>
<rect x="6" y="8.8" width="1.3" height="7.4" fill="#abd2e5"/>
<rect x="7" y="8.8" width="1.3" height="7.4" fill="#b9d9e9"/>
<rect x="8" y="8.8" width="1.3" height="7.4" fill="#c8e0ed"/>
<rect x="9" y="8.8" width="1.3" height="7.4" fill="#d4e6f1"/>
<rect x="10" y="8.8" width="1.3" height="7.4" fill="#ddeaf2"/>
<rect x="11" y="8.8" width="1.3" height="7.4" fill="#e5eff4"/>
<rect x="12" y="8.8" width="1.3" height="7.4" fill="#eef3f5"/>
<rect x="13" y="8.8" width="1.3" height="7.4" fill="#f6f6f7"/>
<rect x="14" y="8.8" width="1.3" height="7.4" fill="#f8f2ee"/>
<rect x="15" y="8.8" width="1.3" height="7.4" fill="#f9ece4"/>
<rect x="16" y="8.8" width="1.3" height="7.4" fill="#fbe6da"/>
<rect x="17" y="8.8" width="1.3" height="7.4" fill="#fce0d0"/>
<rect x="18" y="8.8" width="1.3" height="7.4" fill="#fddac6"/>
<rect x="19" y="8.8" width="1.3" height="7.4" fill="#fbcfb8"/>
<rect x="20" y="8.8" width="1.3" height="7.4" fill="#f9c4a9"/>
<rect x="21" y="8.8" width="1.3" height="7.4" fill="#f7b89b"/>
<rect x="22" y="8.8" width="1.3" height="7.4" fill="#f5ad8c"/>
<rect x="23" y="8.8" width="1.3" height="7.4" fill="#f09c7b"/>
<rect x="24" y="8.8" width="1.3" height="7.4" fill="#e8896d"/>
<rect x="25" y="8.8" width="1.3" height="7.4" fill="#e0765e"/>
<rect x="26" y="8.8" width="1.3" height="7.4" fill="#d7634f"/>
<rect x="27" y="8.8" width="1.3" height="7.4" fill="#ce4f45"/>
<rect x="28" y="8.8" width="1.3" height="7.4" fill="#c43b3c"/>
<rect x="29" y="8.8" width="1.3" height="7.4" fill="#c03438"/>
<rect x="30" y="8.8" width="1.3" height="7.4" fill="#bc2c34"/>
<rect x="31" y="8.8" width="1.3" height="7.4" fill="#b82431"/>
<rect x="32" y="8.8" width="1.3" height="7.4" fill="#b41c2d"/>
<rect x="33" y="8.8" width="1.3" height="7.4" fill="#b2182b"/>
<rect x="34" y="8.8" width="1.3" height="7.4" fill="#b2182b"/>
<rect x="35" y="8.8" width="1.3" height="7.4" fill="#b2182b"/>
<rect x="36" y="8.8" width="1.3" height="7.4" fill="#b2182b"/>
<rect x="37" y="8.8" width="1.3" height="7.4" fill="#b2182b"/>
<rect x="38" y="8.8" width="1.3" height="7.4" fill="#b2182b"/>
<rect x="39" y="8.8" width="1.3" height="7.4" fill="#b2182b"/>
<rect x="40" y="8.8" width="1.3" height="7.4" fill="#b2182b"/>
<rect x="41" y="8.8" width="1.3" height="7.4" fill="#b2182b"/>
<rect x="42" y="8.8" width="1.3" height="7.4" fill="#b2182b"/>
<rect x="43" y="8.8" width="1.3" height="7.4" fill="#b2182b"/>
<rect x="44" y="8.8" width="1.3" height="7.4" fill="#307ab6"/>
<rect x="45" y="8.8" width="1.3" height="7.4" fill="#b5d7e8"/>
<rect x="46" y="8.8" width="1.3" height="7.4" fill="#d1e5f0"/>
<rect x="47" y="8.8" width="1.3" height="7.4" fill="#ddeaf2"/>
<rect x="48" y="8.8" width="1.3" height="7.4" fill="#eef3f5"/>
<rect x="49" y="8.8" width="1.3" height="7.4" fill="#f7f5f4"/>
<rect x="50" y="8.8" width="1.3" height="7.4" fill="#fae9df"/>
<rect x="51" y="8.8" width="1.3" height="7.4" fill="#fbe5d7"/>
<rect x="52" y="8.8" width="1.3" height="7.4" fill="#fce0d0"/>
<rect x="53" y="8.8" width="1.3" height="7.4" fill="#fbcdb5"/>
<rect x="54" y="8.8" width="1.3" height="7.4" fill="#fac7ae"/>
<rect x="55" y="8.8" width="1.3" height="7.4" fill="#f9c1a6"/>
<rect x="56" y="8.8" width="1.3" height="7.4" fill="#f8bb9e"/>
<rect x="57" y="8.8" width="1.3" height="7.4" fill="#f7b597"/>
<rect x="58" y="8.8" width="1.3" height="7.4" fill="#f5ad8c"/>
<rect x="59" y="8.8" width="1.3" height="7.4" fill="#f5a987"/>
<rect x="60" y="8.8" width="1.3" height="7.4" fill="#f4a582"/>
<rect x="61" y="8.8" width="1.3" height="7.4" fill="#f2a07e"/>
<rect x="62" y="8.8" width="1.3" height="7.4" fill="#ef9b7a"/>
<rect x="63" y="8.8" width="1.3" height="7.4" fill="#eb9072"/>
<rect x="64" y="8.8" width="1.3" height="7.4" fill="#e6866a"/>
<rect x="65" y="8.8" width="1.3" height="7.4" fill="#e27b62"/>
<rect x="66" y="8.8" width="1.3" height="7.4" fill="#dd715a"/>
<rect x="67" y="8.8" width="1.3" height="7.4" fill="#d96652"/>
<rect x="68" y="8.8" width="1.3" height="7.4" fill="#d25849"/>
<rect x="69" y="8.8" width="1.3" height="7.4" fill="#cb4a43"/>
<rect x="70" y="8.8" width="1.3" height="7.4" fill="#c43b3c"/>
<rect x="71" y="8.8" width="1.3" height="7.4" fill="#be3137"/>
<rect x="72" y="8.8" width="1.3" height="7.4" fill="#bd2d35"/>
<rect x="73" y="8.8" width="1.3" height="7.4" fill="#bb2a33"/>
<rect x="74" y="8.8" width="1.3" height="7.4" fill="#b92632"/>
<rect x="75" y="8.8" width="1.3" height="7.4" fill="#b41b2d"/>
<rect x="76" y="8.8" width="1.3" height="7.4" fill="#b2182b"/>
<rect x="77" y="8.8" width="1.3" height="7.4" fill="#b2182b"/>
<rect x="78" y="8.8" width="1.3" height="7.4" fill="#b2182b"/>
<rect x="79" y="8.8" width="1.3" height="7.4" fill="#b2182b"/>
<rect x="80" y="8.8" width="1.3" height="7.4" fill="#b2182b"/>
<rect x="81" y="8.8" width="1.3" height="7.4" fill="#b2182b"/>
<rect x="82" y="8.8" width="1.3" height="7.4" fill="#b2182b"/>
<rect x="83" y="8.8" width="1.3" height="7.4" fill="#b2182b"/>
<rect x="84" y="8.8" width="1.3" height="7.4" fill="#b2182b"/>
<rect x="85" y="8.8" width="1.3" height="7.4" fill="#b2182b"/>
<rect x="86" y="8.8" width="1.3" height="7.4" fill="#b2182b"/>
<rect x="87" y="8.8" width="1.3" height="7.4" fill="#b2182b"/>
<rect x="88" y="8.8" width="1.3" height="7.4" fill="#b2182b"/>
<rect x="89" y="8.8" width="1.3" height="7.4" fill="#b2182b"/>
<rect x="90" y="8.8" width="1.3" height="7.4" fill="#b2182b"/>
<rect x="91" y="8.8" width="1.3" height="7.4" fill="#b2182b"/>
<rect x="92" y="8.8" width="1.3" height="7.4" fill="#b2182b"/>
<rect x="93" y="8.8" width="1.3" height="7.4" fill="#b2182b"/>
<rect x="94" y="8.8" width="1.3" height="7.4" fill="#b2182b"/>
<rect x="95" y="8.8" width="1.3" height="7.4" fill="#b2182b"/>
<rect x="96" y="8.8" width="1.3" height="7.4" fill="#b2182b"/>
<rect x="97" y="8.8" width="1.3" height="7.4" fill="#b2182b"/>
<rect x="98" y="8.8" width="1.3" height="7.4" fill="#b2182b"/>
<rect x="99" y="8.8" width="1.3" height="7.4" fill="#b2182b"/>
<rect x="100" y="8.8" width="1.3" height="7.4" fill="#b2182b"/>
<rect x="101" y="8.8" width="1.3" height="7.4" fill="#8ec3dd"/>
<rect x="102" y="8.8" width="1.3" height="7.4" fill="#d96652"/>
<rect x="103" y="8.8" width="1.3" height="7.4" fill="#b2182b"/>
<rect x="104" y="8.8" width="1.3" height="7.4" fill="#f7f5f4"/>
<rect x="105" y="8.8" width="1.3" height="7.4" fill="#4896c5"/>
<rect x="106" y="8.8" width="1.3" height="7.4" fill="#8ec3dd"/>
<rect x="107" y="8.8" width="1" height="7.4" fill="#e6866a"/>
</g>
<g transform="translate(0 466.300) scale(1 2.0250)">
<rect x="383.1" y="0" width="7.7" height="1.3" fill="#2166ac"/>
<rect x="391.8" y="0" width="7.2" height="1.3" fill="#1b9e77"/>
<rect x="383.1" y="1" width="7.7" height="1.3" fill="#3b88bd"/>
<rect x="391.8" y="1" width="7.2" height="1.3" fill="#1b9e77"/>
<rect x="383.1" y="2" width="7.7" height="1.3" fill="#6bacd1"/>
<rect x="391.8" y="2" width="7.2" height="1.3" fill="#d95f02"/>
<rect x="383.1" y="3" width="7.7" height="1.3" fill="#7db8d7"/>
<rect x="391.8" y="3" width="7.2" height="1.3" fill="#d95f02"/>
<rect x="383.1" y="4" width="7.7" height="1.3" fill="#8ec3dd"/>
<rect x="391.8" y="4" width="7.2" height="1.3" fill="#d95f02"/>
<rect x="383.1" y="5" width="7.7" height="1.3" fill="#9dcbe1"/>
<rect x="391.8" y="5" width="7.2" height="1.3" fill="#d95f02"/>
<rect x="383.1" y="6" width="7.7" height="1.3" fill="#abd2e5"/>
<rect x="391.8" y="6" width="7.2" height="1.3" fill="#d95f02"/>
<rect x="383.1" y="7" width="7.7" height="1.3" fill="#b9d9e9"/>
<rect x="391.8" y="7" width="7.2" height="1.3" fill="#d95f02"/>
<rect x="383.1" y="8" width="7.7" height="1.3" fill="#c8e0ed"/>
<rect x="391.8" y="8" width="7.2" height="1.3" fill="#d95f02"/>
<rect x="383.1" y="9" width="7.7" height="1.3" fill="#d4e6f1"/>
<rect x="391.8" y="9" width="7.2" height="1.3" fill="#d95f02"/>
<rect x="383.1" y="10" width="7.7" height="1.3" fill="#ddeaf2"/>
<rect x="391.8" y="10" width="7.2" height="1.3" fill="#d95f02"/>
<rect x="383.1" y="11" width="7.7" height="1.3" fill="#e5eff4"/>
<rect x="391.8" y="11" width="7.2" height="1.3" fill="#d95f02"/>
<rect x="383.1" y="12" width="7.7" height="1.3" fill="#eef3f5"/>
<rect x="391.8" y="12" width="7.2" height="1.3" fill="#d95f02"/>
<rect x="383.1" y="13" width="7.7" height="1.3" fill="#f6f6f7"/>
<rect x="391.8" y="13" width="7.2" height="1.3" fill="#d95f02"/>
<rect x="383.1" y="14" width="7.7" height="1.3" fill="#f8f2ee"/>
<rect x="391.8" y="14" width="7.2" height="1.3" fill="#d95f02"/>
<rect x="383.1" y="15" width="7.7" height="1.3" fill="#f9ece4"/>
<rect x="391.8" y="15" width="7.2" height="1.3" fill="#d95f02"/>
<rect x="383.1" y="16" width="7.7" height="1.3" fill="#fbe6da"/>
<rect x="391.8" y="16" width="7.2" height="1.3" fill="#d95f02"/>
<rect x="383.1" y="17" width="7.7" height="1.3" fill="#fce0d0"/>
<rect x="391.8" y="17" width="7.2" height="1.3" fill="#d95f02"/>
<rect x="383.1" y="18" width="7.7" height="1.3" fill="#fddac6"/>
<rect x="391.8" y="18" width="7.2" height="1.3" fill="#d95f02"/>
<rect x="383.1" y="19" width="7.7" height="1.3" fill="#fbcfb8"/>
<rect x="391.8" y="19" width="7.2" height="1.3" fill="#d95f02"/>
<rect x="383.1" y="20" width="7.7" height="1.3" fill="#f9c4a9"/>
<rect x="391.8" y="20" width="7.2" height="1.3" fill="#d95f02"/>
<rect x="383.1" y="21" width="7.7" height="1.3" fill="#f7b89b"/>
<rect x="391.8" y="21" width="7.2" height="1.3" fill="#d95f02"/>
<rect x="383.1" y="22" width="7.7" height="1.3" fill="#f5ad8c"/>
<rect x="391.8" y="22" width="7.2" height="1.3" fill="#d95f02"/>
<rect x="383.1" y="23" width="7.7" height="1.3" fill="#f09c7b"/>
<rect x="391.8" y="23" width="7.2" height="1.3" fill="#d95f02"/>
<rect x="383.1" y="24" width="7.7" height="1.3" fill="#e8896d"/>
<rect x="391.8" y="24" width="7.2" height="1.3" fill="#d95f02"/>
<rect x="383.1" y="25" width="7.7" height="1.3" fill="#e0765e"/>
<rect x="391.8" y="25" width="7.2" height="1.3" fill="#d95f02"/>
<rect x="383.1" y="26" width="7.7" height="1.3" fill="#d7634f"/>
<rect x="391.8" y="26" width="7.2" height="1.3" fill="#d95f02"/>
<rect x="383.1" y="27" width="7.7" height="1.3" fill="#ce4f45"/>
<rect x="391.8" y="27" width="7.2" height="1.3" fill="#d95f02"/>
<rect x="383.1" y="28" width="7.7" height="1.3" fill="#c43b3c"/>
<rect x="391.8" y="28" width="7.2" height="1.3" fill="#d95f02"/>
<rect x="383.1" y="29" width="7.7" height="1.3" fill="#c03438"/>
<rect x="391.8" y="29" width="7.2" height="1.3" fill="#d95f02"/>
<rect x="383.1" y="30" width="7.7" height="1.3" fill="#bc2c34"/>
<rect x="391.8" y="30" width="7.2" height="1.3" fill="#d95f02"/>
<rect x="383.1" y="31" width="7.7" height="1.3" fill="#b82431"/>
<rect x="391.8" y="31" width="7.2" height="1.3" fill="#d95f02"/>
<rect x="383.1" y="32" width="7.7" height="1.3" fill="#b41c2d"/>
<rect x="391.8" y="32" width="7.2" height="1.3" fill="#d95f02"/>
<rect x="383.1" y="33" width="7.7" height="1.3" fill="#b2182b"/>
<rect x="391.8" y="33" width="7.2" height="1.3" fill="#d95f02"/>
<rect x="383.1" y="34" width="7.7" height="1.3" fill="#b2182b"/>
<rect x="391.8" y="34" width="7.2" height="1.3" fill="#d95f02"/>
<rect x="383.1" y="35" width="7.7" height="1.3" fill="#b2182b"/>
<rect x="391.8" y="35" width="7.2" height="1.3" fill="#d95f02"/>
<rect x="383.1" y="36" width="7.7" height="1.3" fill="#b2182b"/>
<rect x="391.8" y="36" width="7.2" height="1.3" fill="#d95f02"/>
<rect x="383.1" y="37" width="7.7" height="1.3" fill="#b2182b"/>
<rect x="391.8" y="37" width="7.2" height="1.3" fill="#d95f02"/>
<rect x="383.1" y="38" width="7.7" height="1.3" fill="#b2182b"/>
<rect x="391.8" y="38" width="7.2" height="1.3" fill="#d95f02"/>
<rect x="383.1" y="39" width="7.7" height="1.3" fill="#b2182b"/>
<rect x="391.8" y="39" width="7.2" height="1.3" fill="#d95f02"/>
<rect x="383.1" y="40" width="7.7" height="1.3" fill="#b2182b"/>
<rect x="391.8" y="40" width="7.2" height="1.3" fill="#d95f02"/>
<rect x="383.1" y="41" width="7.7" height="1.3" fill="#b2182b"/>
<rect x="391.8" y="41" width="7.2" height="1.3" fill="#d95f02"/>
<rect x="383.1" y="42" width="7.7" height="1.3" fill="#b2182b"/>
<rect x="391.8" y="42" width="7.2" height="1.3" fill="#d95f02"/>
<rect x="383.1" y="43" width="7.7" height="1.3" fill="#b2182b"/>
<rect x="391.8" y="43" width="7.2" height="1.3" fill="#d95f02"/>
<rect x="383.1" y="44" width="7.7" height="1.3" fill="#307ab6"/>
<rect x="391.8" y="44" width="7.2" height="1.3" fill="#7570b3"/>
<rect x="383.1" y="45" width="7.7" height="1.3" fill="#b5d7e8"/>
<rect x="391.8" y="45" width="7.2" height="1.3" fill="#7570b3"/>
<rect x="383.1" y="46" width="7.7" height="1.3" fill="#d1e5f0"/>
<rect x="391.8" y="46" width="7.2" height="1.3" fill="#7570b3"/>
<rect x="383.1" y="47" width="7.7" height="1.3" fill="#ddeaf2"/>
<rect x="391.8" y="47" width="7.2" height="1.3" fill="#7570b3"/>
<rect x="383.1" y="48" width="7.7" height="1.3" fill="#eef3f5"/>
<rect x="391.8" y="48" width="7.2" height="1.3" fill="#7570b3"/>
<rect x="383.1" y="49" width="7.7" height="1.3" fill="#f7f5f4"/>
<rect x="391.8" y="49" width="7.2" height="1.3" fill="#7570b3"/>
<rect x="383.1" y="50" width="7.7" height="1.3" fill="#fae9df"/>
<rect x="391.8" y="50" width="7.2" height="1.3" fill="#7570b3"/>
<rect x="383.1" y="51" width="7.7" height="1.3" fill="#fbe5d7"/>
<rect x="391.8" y="51" width="7.2" height="1.3" fill="#7570b3"/>
<rect x="383.1" y="52" width="7.7" height="1.3" fill="#fce0d0"/>
<rect x="391.8" y="52" width="7.2" height="1.3" fill="#7570b3"/>
<rect x="383.1" y="53" width="7.7" height="1.3" fill="#fbcdb5"/>
<rect x="391.8" y="53" width="7.2" height="1.3" fill="#7570b3"/>
<rect x="383.1" y="54" width="7.7" height="1.3" fill="#fac7ae"/>
<rect x="391.8" y="54" width="7.2" height="1.3" fill="#7570b3"/>
<rect x="383.1" y="55" width="7.7" height="1.3" fill="#f9c1a6"/>
<rect x="391.8" y="55" width="7.2" height="1.3" fill="#7570b3"/>
<rect x="383.1" y="56" width="7.7" height="1.3" fill="#f8bb9e"/>
<rect x="391.8" y="56" width="7.2" height="1.3" fill="#7570b3"/>
<rect x="383.1" y="57" width="7.7" height="1.3" fill="#f7b597"/>
<rect x="391.8" y="57" width="7.2" height="1.3" fill="#7570b3"/>
<rect x="383.1" y="58" width="7.7" height="1.3" fill="#f5ad8c"/>
<rect x="391.8" y="58" width="7.2" height="1.3" fill="#7570b3"/>
<rect x="383.1" y="59" width="7.7" height="1.3" fill="#f5a987"/>
<rect x="391.8" y="59" width="7.2" height="1.3" fill="#7570b3"/>
<rect x="383.1" y="60" width="7.7" height="1.3" fill="#f4a582"/>
<rect x="391.8" y="60" width="7.2" height="1.3" fill="#7570b3"/>
<rect x="383.1" y="61" width="7.7" height="1.3" fill="#f2a07e"/>
<rect x="391.8" y="61" width="7.2" height="1.3" fill="#7570b3"/>
<rect x="383.1" y="62" width="7.7" height="1.3" fill="#ef9b7a"/>
<rect x="391.8" y="62" width="7.2" height="1.3" fill="#7570b3"/>
<rect x="383.1" y="63" width="7.7" height="1.3" fill="#eb9072"/>
<rect x="391.8" y="63" width="7.2" height="1.3" fill="#7570b3"/>
<rect x="383.1" y="64" width="7.7" height="1.3" fill="#e6866a"/>
<rect x="391.8" y="64" width="7.2" height="1.3" fill="#7570b3"/>
<rect x="383.1" y="65" width="7.7" height="1.3" fill="#e27b62"/>
<rect x="391.8" y="65" width="7.2" height="1.3" fill="#7570b3"/>
<rect x="383.1" y="66" width="7.7" height="1.3" fill="#dd715a"/>
<rect x="391.8" y="66" width="7.2" height="1.3" fill="#7570b3"/>
<rect x="383.1" y="67" width="7.7" height="1.3" fill="#d96652"/>
<rect x="391.8" y="67" width="7.2" height="1.3" fill="#7570b3"/>
<rect x="383.1" y="68" width="7.7" height="1.3" fill="#d25849"/>
<rect x="391.8" y="68" width="7.2" height="1.3" fill="#7570b3"/>
<rect x="383.1" y="69" width="7.7" height="1.3" fill="#cb4a43"/>
<rect x="391.8" y="69" width="7.2" height="1.3" fill="#7570b3"/>
<rect x="383.1" y="70" width="7.7" height="1.3" fill="#c43b3c"/>
<rect x="391.8" y="70" width="7.2" height="1.3" fill="#7570b3"/>
<rect x="383.1" y="71" width="7.7" height="1.3" fill="#be3137"/>
<rect x="391.8" y="71" width="7.2" height="1.3" fill="#7570b3"/>
<rect x="383.1" y="72" width="7.7" height="1.3" fill="#bd2d35"/>
<rect x="391.8" y="72" width="7.2" height="1.3" fill="#7570b3"/>
<rect x="383.1" y="73" width="7.7" height="1.3" fill="#bb2a33"/>
<rect x="391.8" y="73" width="7.2" height="1.3" fill="#7570b3"/>
<rect x="383.1" y="74" width="7.7" height="1.3" fill="#b92632"/>
<rect x="391.8" y="74" width="7.2" height="1.3" fill="#7570b3"/>
<rect x="383.1" y="75" width="7.7" height="1.3" fill="#b41b2d"/>
<rect x="391.8" y="75" width="7.2" height="1.3" fill="#7570b3"/>
<rect x="383.1" y="76" width="7.7" height="1.3" fill="#b2182b"/>
<rect x="391.8" y="76" width="7.2" height="1.3" fill="#7570b3"/>
<rect x="383.1" y="77" width="7.7" height="1.3" fill="#b2182b"/>
<rect x="391.8" y="77" width="7.2" height="1.3" fill="#7570b3"/>
<rect x="383.1" y="78" width="7.7" height="1.3" fill="#b2182b"/>
<rect x="391.8" y="78" width="7.2" height="1.3" fill="#7570b3"/>
<rect x="383.1" y="79" width="7.7" height="1.3" fill="#b2182b"/>
<rect x="391.8" y="79" width="7.2" height="1.3" fill="#7570b3"/>
<rect x="383.1" y="80" width="7.7" height="1.3" fill="#b2182b"/>
<rect x="391.8" y="80" width="7.2" height="1.3" fill="#7570b3"/>
<rect x="383.1" y="81" width="7.7" height="1.3" fill="#b2182b"/>
<rect x="391.8" y="81" width="7.2" height="1.3" fill="#7570b3"/>
<rect x="383.1" y="82" width="7.7" height="1.3" fill="#b2182b"/>
<rect x="391.8" y="82" width="7.2" height="1.3" fill="#7570b3"/>
<rect x="383.1" y="83" width="7.7" height="1.3" fill="#b2182b"/>
<rect x="391.8" y="83" width="7.2" height="1.3" fill="#7570b3"/>
<rect x="383.1" y="84" width="7.7" height="1.3" fill="#b2182b"/>
<rect x="391.8" y="84" width="7.2" height="1.3" fill="#7570b3"/>
<rect x="383.1" y="85" width="7.7" height="1.3" fill="#b2182b"/>
<rect x="391.8" y="85" width="7.2" height="1.3" fill="#7570b3"/>
<rect x="383.1" y="86" width="7.7" height="1.3" fill="#b2182b"/>
<rect x="391.8" y="86" width="7.2" height="1.3" fill="#7570b3"/>
<rect x="383.1" y="87" width="7.7" height="1.3" fill="#b2182b"/>
<rect x="391.8" y="87" width="7.2" height="1.3" fill="#7570b3"/>
<rect x="383.1" y="88" width="7.7" height="1.3" fill="#b2182b"/>
<rect x="391.8" y="88" width="7.2" height="1.3" fill="#7570b3"/>
<rect x="383.1" y="89" width="7.7" height="1.3" fill="#b2182b"/>
<rect x="391.8" y="89" width="7.2" height="1.3" fill="#7570b3"/>
<rect x="383.1" y="90" width="7.7" height="1.3" fill="#b2182b"/>
<rect x="391.8" y="90" width="7.2" height="1.3" fill="#7570b3"/>
<rect x="383.1" y="91" width="7.7" height="1.3" fill="#b2182b"/>
<rect x="391.8" y="91" width="7.2" height="1.3" fill="#7570b3"/>
<rect x="383.1" y="92" width="7.7" height="1.3" fill="#b2182b"/>
<rect x="391.8" y="92" width="7.2" height="1.3" fill="#7570b3"/>
<rect x="383.1" y="93" width="7.7" height="1.3" fill="#b2182b"/>
<rect x="391.8" y="93" width="7.2" height="1.3" fill="#7570b3"/>
<rect x="383.1" y="94" width="7.7" height="1.3" fill="#b2182b"/>
<rect x="391.8" y="94" width="7.2" height="1.3" fill="#7570b3"/>
<rect x="383.1" y="95" width="7.7" height="1.3" fill="#b2182b"/>
<rect x="391.8" y="95" width="7.2" height="1.3" fill="#7570b3"/>
<rect x="383.1" y="96" width="7.7" height="1.3" fill="#b2182b"/>
<rect x="391.8" y="96" width="7.2" height="1.3" fill="#7570b3"/>
<rect x="383.1" y="97" width="7.7" height="1.3" fill="#b2182b"/>
<rect x="391.8" y="97" width="7.2" height="1.3" fill="#7570b3"/>
<rect x="383.1" y="98" width="7.7" height="1.3" fill="#b2182b"/>
<rect x="391.8" y="98" width="7.2" height="1.3" fill="#7570b3"/>
<rect x="383.1" y="99" width="7.7" height="1.3" fill="#b2182b"/>
<rect x="391.8" y="99" width="7.2" height="1.3" fill="#7570b3"/>
<rect x="383.1" y="100" width="7.7" height="1.3" fill="#b2182b"/>
<rect x="391.8" y="100" width="7.2" height="1.3" fill="#7570b3"/>
<rect x="383.1" y="101" width="7.7" height="1.3" fill="#8ec3dd"/>
<rect x="391.8" y="101" width="7.2" height="1.3" fill="#e7298a"/>
<rect x="383.1" y="102" width="7.7" height="1.3" fill="#d96652"/>
<rect x="391.8" y="102" width="7.2" height="1.3" fill="#e7298a"/>
<rect x="383.1" y="103" width="7.7" height="1.3" fill="#b2182b"/>
<rect x="391.8" y="103" width="7.2" height="1.3" fill="#e7298a"/>
<rect x="383.1" y="104" width="7.7" height="1.3" fill="#f7f5f4"/>
<rect x="391.8" y="104" width="7.2" height="1.3" fill="#66a61e"/>
<rect x="383.1" y="105" width="7.7" height="1.3" fill="#4896c5"/>
<rect x="391.8" y="105" width="7.2" height="1.3" fill="#e6ab02"/>
<rect x="383.1" y="106" width="7.7" height="1.3" fill="#8ec3dd"/>
<rect x="391.8" y="106" width="7.2" height="1.3" fill="#e6ab02"/>
<rect x="383.1" y="107" width="7.7" height="1" fill="#e6866a"/>
<rect x="391.8" y="107" width="7.2" height="1" fill="#a6761d"/>
</g>
<text x="383.4" y="454.9" font-size="7.9" fill="#222">Virus</text>
<text x="383.4" y="463.2" font-size="7.9" fill="#222">Year</text>
<rect x="184.9" y="465.6" width="34.6" height="21.0" fill="none" stroke="#000" stroke-width="1.25"/>
<defs><linearGradient id="nag" x1="0" y1="0" x2="0" y2="1">
<stop offset="0.0000" stop-color="#a50026"/>
<stop offset="0.0667" stop-color="#d73027"/>
<stop offset="0.1333" stop-color="#f46d43"/>
<stop offset="0.2167" stop-color="#fdae61"/>
<stop offset="0.2833" stop-color="#fee090"/>
<stop offset="0.3333" stop-color="#ffffbf"/>
<stop offset="0.4167" stop-color="#e0f3f8"/>
<stop offset="0.5000" stop-color="#abd9e9"/>
<stop offset="0.6000" stop-color="#74add1"/>
<stop offset="0.7000" stop-color="#4575b4"/>
<stop offset="0.8000" stop-color="#313695"/>
<stop offset="1.0000" stop-color="#313695"/>
</linearGradient>
<linearGradient id="yg" x1="0" y1="1" x2="0" y2="0">
<stop offset="0.0000" stop-color="#2166ac"/>
<stop offset="0.1238" stop-color="#4393c3"/>
<stop offset="0.2495" stop-color="#92c5de"/>
<stop offset="0.3752" stop-color="#d1e5f0"/>
<stop offset="0.4991" stop-color="#f7f7f7"/>
<stop offset="0.6248" stop-color="#fddbc7"/>
<stop offset="0.7505" stop-color="#f4a582"/>
<stop offset="0.8743" stop-color="#d6604d"/>
<stop offset="1.0000" stop-color="#b2182b"/>
</linearGradient></defs>
<rect x="414.3" y="466.6" width="6.2" height="96.0" fill="url(#nag)"/>
<line x1="414.3" y1="467.2" x2="415.6" y2="467.2" stroke="#fff" stroke-width="0.6"/><line x1="419.2" y1="467.2" x2="420.5" y2="467.2" stroke="#fff" stroke-width="0.6"/>
<text x="421.8" y="469.8" font-size="7.4" fill="#222">1</text>
<line x1="414.3" y1="499.0" x2="415.6" y2="499.0" stroke="#fff" stroke-width="0.6"/><line x1="419.2" y1="499.0" x2="420.5" y2="499.0" stroke="#fff" stroke-width="0.6"/>
<text x="421.8" y="501.6" font-size="7.4" fill="#222">0.9</text>
<line x1="414.3" y1="530.4" x2="415.6" y2="530.4" stroke="#fff" stroke-width="0.6"/><line x1="419.2" y1="530.4" x2="420.5" y2="530.4" stroke="#fff" stroke-width="0.6"/>
<text x="421.8" y="533.0" font-size="7.4" fill="#222">0.8</text>
<line x1="414.3" y1="561.6" x2="415.6" y2="561.6" stroke="#fff" stroke-width="0.6"/><line x1="419.2" y1="561.6" x2="420.5" y2="561.6" stroke="#fff" stroke-width="0.6"/>
<text x="421.8" y="564.2" font-size="7.4" fill="#222">0.7</text>
<text transform="translate(410.9 508.2) rotate(-90)" font-size="6.9" font-weight="bold" fill="#222" textLength="42" lengthAdjust="spacingAndGlyphs">NA similarity</text>
<text x="435.8" y="471.4" font-size="7.0" font-weight="bold" fill="#222">Virus</text>
<rect x="436.3" y="475.30" width="7" height="6.6" fill="#1b9e77"/>
<text x="445.2" y="481.50" font-size="6.8" fill="#222">Human H2N2</text>
<rect x="436.3" y="482.90" width="7" height="6.6" fill="#d95f02"/>
<text x="445.2" y="489.10" font-size="6.8" fill="#222">Human H3N2</text>
<rect x="436.3" y="490.50" width="7" height="6.6" fill="#7570b3"/>
<text x="445.2" y="496.70" font-size="6.8" fill="#222">Avian H9N2</text>
<rect x="436.3" y="498.10" width="7" height="6.6" fill="#e7298a"/>
<text x="445.2" y="504.30" font-size="6.8" fill="#222">Avian H3N2</text>
<rect x="436.3" y="505.70" width="7" height="6.6" fill="#66a61e"/>
<text x="445.2" y="511.90" font-size="6.8" fill="#222">Avian H5N2</text>
<rect x="436.3" y="513.30" width="7" height="6.6" fill="#e6ab02"/>
<text x="445.2" y="519.50" font-size="6.8" fill="#222">Avian H6N2</text>
<rect x="436.3" y="520.90" width="7" height="6.6" fill="#a6761d"/>
<text x="445.2" y="527.10" font-size="6.8" fill="#222">Avian H7N2</text>
<text x="435.8" y="541.6" font-size="6.9" font-weight="bold" fill="#222">Year</text>
<rect x="435.6" y="544.8" width="7.6" height="50.6" fill="url(#yg)"/>
<line x1="435.6" y1="546.8" x2="437" y2="546.8" stroke="#fff" stroke-width="0.6"/><line x1="441.8" y1="546.8" x2="443.2" y2="546.8" stroke="#fff" stroke-width="0.6"/>
<text x="445.2" y="549.7" font-size="7.0" fill="#222">2010</text>
<line x1="435.6" y1="556.2" x2="437" y2="556.2" stroke="#fff" stroke-width="0.6"/><line x1="441.8" y1="556.2" x2="443.2" y2="556.2" stroke="#fff" stroke-width="0.6"/>
<text x="445.2" y="559.1" font-size="7.0" fill="#222">2000</text>
<line x1="435.6" y1="565.6" x2="437" y2="565.6" stroke="#fff" stroke-width="0.6"/><line x1="441.8" y1="565.6" x2="443.2" y2="565.6" stroke="#fff" stroke-width="0.6"/>
<text x="445.2" y="568.5" font-size="7.0" fill="#222">1990</text>
<line x1="435.6" y1="575.0" x2="437" y2="575.0" stroke="#fff" stroke-width="0.6"/><line x1="441.8" y1="575.0" x2="443.2" y2="575.0" stroke="#fff" stroke-width="0.6"/>
<text x="445.2" y="577.9" font-size="7.0" fill="#222">1980</text>
<line x1="435.6" y1="584.4" x2="437" y2="584.4" stroke="#fff" stroke-width="0.6"/><line x1="441.8" y1="584.4" x2="443.2" y2="584.4" stroke="#fff" stroke-width="0.6"/>
<text x="445.2" y="587.3" font-size="7.0" fill="#222">1970</text>
<line x1="435.6" y1="593.8" x2="437" y2="593.8" stroke="#fff" stroke-width="0.6"/><line x1="441.8" y1="593.8" x2="443.2" y2="593.8" stroke="#fff" stroke-width="0.6"/>
<text x="445.2" y="596.7" font-size="7.0" fill="#222">1960</text>
</svg></body></html>
